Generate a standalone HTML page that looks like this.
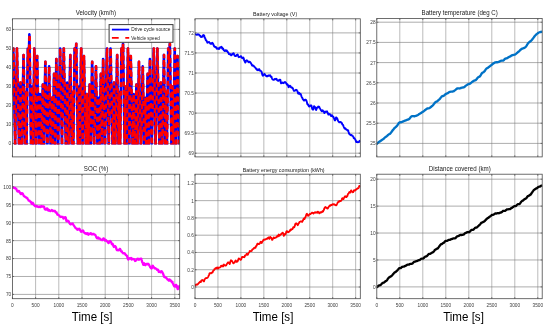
<!DOCTYPE html>
<html><head><meta charset="utf-8"><title>Drive cycle simulation results</title>
<style>html,body{margin:0;padding:0;background:#fff;overflow:hidden}svg{display:block;filter:blur(0.35px)}</style>
</head><body>
<svg width="550" height="329" viewBox="0 0 550 329" font-family="'Liberation Sans', sans-serif">
<rect width="550" height="329" fill="#fff"/>
<g><path d="M35.60,18.80 V156.90 M58.80,18.80 V156.90 M82.00,18.80 V156.90 M105.20,18.80 V156.90 M128.40,18.80 V156.90 M151.60,18.80 V156.90 M174.80,18.80 V156.90 " stroke="#808080" stroke-width="0.55" fill="none"/>
<path d="M12.40,143.40 H179.70 M12.40,124.40 H179.70 M12.40,105.40 H179.70 M12.40,86.40 H179.70 M12.40,67.40 H179.70 M12.40,48.40 H179.70 M12.40,29.40 H179.70 " stroke="#767676" stroke-width="0.6" fill="none"/>
<clipPath id="c_vel"><rect x="12.40" y="18.80" width="167.30" height="125.60"/></clipPath>
<path clip-path="url(#c_vel)" d="M12.4,94.7 L12.4,92.2 L12.5,89.6 L12.5,87.1 L12.6,84.6 L12.6,82.1 L12.7,79.6 L12.7,77.1 L12.8,74.6 L12.8,72.0 L12.9,69.5 L12.9,67.0 L13.0,64.5 L13.0,62.0 L13.0,59.5 L13.1,56.9 L13.1,54.4 L13.2,51.9 L13.2,49.4 L13.3,48.4 L13.3,48.4 L13.4,50.0 L13.4,52.6 L13.5,55.3 L13.5,57.9 L13.6,60.6 L13.6,63.2 L13.7,65.9 L13.7,68.5 L13.7,71.1 L13.8,73.8 L13.8,76.4 L13.9,79.1 L13.9,81.7 L14.0,84.4 L14.0,87.0 L14.1,89.6 L14.1,92.3 L14.2,94.9 L14.2,97.6 L14.3,100.2 L14.3,102.8 L14.3,105.5 L14.4,108.1 L14.4,110.8 L14.5,113.4 L14.5,116.1 L14.6,118.7 L14.6,121.3 L14.7,124.0 L14.7,126.6 L14.8,129.3 L14.8,131.9 L14.9,134.6 L14.9,137.2 L15.0,139.8 L15.0,142.5 L15.0,145.1 L15.1,147.8 L15.1,146.1 L15.2,143.5 L15.2,140.9 L15.3,138.2 L15.3,135.6 L15.4,132.9 L15.4,130.3 L15.5,127.6 L15.5,125.0 L15.6,122.4 L15.6,119.7 L15.6,117.1 L15.7,114.4 L15.7,111.8 L15.8,109.1 L15.8,106.5 L15.9,103.9 L15.9,101.2 L16.0,98.6 L16.0,95.9 L16.1,93.3 L16.1,90.6 L16.2,88.0 L16.2,85.4 L16.3,82.7 L16.3,80.1 L16.3,77.4 L16.4,74.8 L16.4,72.1 L16.5,69.5 L16.5,66.9 L16.6,64.2 L16.6,61.6 L16.7,58.9 L16.7,56.3 L16.8,53.6 L16.8,51.0 L16.9,48.4 L16.9,48.4 L16.9,48.4 L17.0,50.7 L17.0,53.0 L17.1,55.2 L17.1,57.5 L17.2,59.8 L17.2,62.1 L17.3,64.3 L17.3,66.6 L17.4,68.9 L17.4,71.1 L17.5,73.4 L17.5,75.7 L17.6,78.0 L17.6,80.2 L17.6,82.5 L17.7,84.8 L17.7,87.0 L17.8,89.3 L17.8,91.6 L17.9,93.8 L17.9,96.1 L18.0,98.4 L18.0,100.7 L18.1,102.9 L18.1,105.2 L18.2,107.5 L18.2,109.7 L18.2,112.0 L18.3,114.3 L18.3,116.5 L18.4,118.8 L18.4,121.1 L18.5,123.4 L18.5,125.6 L18.6,127.9 L18.6,130.2 L18.7,132.4 L18.7,134.7 L18.8,137.0 L18.8,139.2 L18.8,141.5 L18.9,143.8 L18.9,146.1 L19.0,148.3 L19.0,150.5 L19.1,148.1 L19.1,145.7 L19.2,143.3 L19.2,140.9 L19.3,138.5 L19.3,136.2 L19.4,133.8 L19.4,131.4 L19.5,129.0 L19.5,126.6 L19.5,124.2 L19.6,121.8 L19.6,119.4 L19.7,117.0 L19.7,114.7 L19.8,112.3 L19.8,109.9 L19.9,107.5 L19.9,105.1 L20.0,102.7 L20.0,100.3 L20.1,97.9 L20.1,95.5 L20.1,93.1 L20.2,90.8 L20.2,88.4 L20.3,86.0 L20.3,83.6 L20.4,82.6 L20.4,82.6 L20.5,84.2 L20.5,87.0 L20.6,89.8 L20.6,92.5 L20.7,95.3 L20.7,98.1 L20.8,100.8 L20.8,103.6 L20.8,106.4 L20.9,109.1 L20.9,111.9 L21.0,114.7 L21.0,117.4 L21.1,120.2 L21.1,123.0 L21.2,125.7 L21.2,128.5 L21.3,131.3 L21.3,134.0 L21.4,136.8 L21.4,139.6 L21.4,142.3 L21.5,145.1 L21.5,147.9 L21.6,150.6 L21.6,153.4 L21.7,154.1 L21.7,151.5 L21.8,148.9 L21.8,146.3 L21.9,143.7 L21.9,141.1 L22.0,138.5 L22.0,135.9 L22.1,133.3 L22.1,130.7 L22.1,128.1 L22.2,125.5 L22.2,122.9 L22.3,120.3 L22.3,117.7 L22.4,115.2 L22.4,112.6 L22.5,110.0 L22.5,107.4 L22.6,104.8 L22.6,102.2 L22.7,99.6 L22.7,97.0 L22.7,94.4 L22.8,91.8 L22.8,89.2 L22.9,86.6 L22.9,84.0 L23.0,81.4 L23.0,78.8 L23.1,76.2 L23.1,73.6 L23.2,71.0 L23.2,68.4 L23.3,65.8 L23.3,63.2 L23.4,60.6 L23.4,58.0 L23.4,55.4 L23.5,54.9 L23.5,54.9 L23.6,57.3 L23.6,60.5 L23.7,63.6 L23.7,66.8 L23.8,69.9 L23.8,73.1 L23.9,76.3 L23.9,79.4 L24.0,82.6 L24.0,85.7 L24.0,88.9 L24.1,92.0 L24.1,95.2 L24.2,98.4 L24.2,101.5 L24.3,104.7 L24.3,107.8 L24.4,111.0 L24.4,114.1 L24.5,117.3 L24.5,120.5 L24.6,123.6 L24.6,126.8 L24.6,129.9 L24.7,133.1 L24.7,136.2 L24.8,139.4 L24.8,142.6 L24.9,145.7 L24.9,144.0 L25.0,140.7 L25.0,137.3 L25.1,134.0 L25.1,130.7 L25.2,127.4 L25.2,124.1 L25.3,120.8 L25.3,117.4 L25.3,114.1 L25.4,110.8 L25.4,107.5 L25.5,104.2 L25.5,100.9 L25.6,97.5 L25.6,94.2 L25.7,92.1 L25.7,92.1 L25.8,93.6 L25.8,97.6 L25.9,101.6 L25.9,105.6 L25.9,109.7 L26.0,113.7 L26.0,117.7 L26.1,121.7 L26.1,125.8 L26.2,129.8 L26.2,133.8 L26.3,137.8 L26.3,141.9 L26.4,145.9 L26.4,149.9 L26.5,150.2 L26.5,146.5 L26.6,142.9 L26.6,139.2 L26.6,135.6 L26.7,131.9 L26.7,128.3 L26.8,124.6 L26.8,121.0 L26.9,117.3 L26.9,113.7 L27.0,110.0 L27.0,106.4 L27.1,102.7 L27.1,99.1 L27.2,95.4 L27.2,91.8 L27.2,88.1 L27.3,84.5 L27.3,80.9 L27.4,77.2 L27.4,73.6 L27.5,69.9 L27.5,66.3 L27.6,62.6 L27.6,59.0 L27.7,55.3 L27.7,51.7 L27.8,48.4 L27.8,48.4 L27.9,48.5 L27.9,49.5 L27.9,50.5 L28.0,51.5 L28.0,52.5 L28.1,53.6 L28.1,54.6 L28.2,55.6 L28.2,56.6 L28.3,57.6 L28.3,58.6 L28.4,59.6 L28.4,60.6 L28.5,61.6 L28.5,62.7 L28.5,63.5 L28.6,61.8 L28.6,60.1 L28.7,58.4 L28.7,56.7 L28.8,55.0 L28.8,53.4 L28.9,51.7 L28.9,50.0 L29.0,48.3 L29.0,46.6 L29.1,44.9 L29.1,43.2 L29.2,41.5 L29.2,39.9 L29.2,38.2 L29.3,36.5 L29.3,34.8 L29.4,34.2 L29.4,34.2 L29.5,36.2 L29.5,39.6 L29.6,43.0 L29.6,46.4 L29.7,49.8 L29.7,53.2 L29.8,56.5 L29.8,59.9 L29.8,63.3 L29.9,66.7 L29.9,70.1 L30.0,73.4 L30.0,76.8 L30.1,80.2 L30.1,83.6 L30.2,87.0 L30.2,90.3 L30.3,93.7 L30.3,97.1 L30.4,100.5 L30.4,103.9 L30.4,107.3 L30.5,110.6 L30.5,114.0 L30.6,117.4 L30.6,120.8 L30.7,124.2 L30.7,127.5 L30.8,130.9 L30.8,134.3 L30.9,137.7 L30.9,141.1 L31.0,144.4 L31.0,147.8 L31.1,151.2 L31.1,154.6 L31.1,152.3 L31.2,148.5 L31.2,144.7 L31.3,140.9 L31.3,137.1 L31.4,133.3 L31.4,129.6 L31.5,125.8 L31.5,122.0 L31.6,118.2 L31.6,114.4 L31.7,110.7 L31.7,106.9 L31.7,103.1 L31.8,99.3 L31.8,95.5 L31.9,91.7 L31.9,88.0 L32.0,86.4 L32.0,86.4 L32.1,88.5 L32.1,92.0 L32.2,95.5 L32.2,99.0 L32.3,102.6 L32.3,106.1 L32.4,109.6 L32.4,113.2 L32.4,116.7 L32.5,120.2 L32.5,123.7 L32.6,127.3 L32.6,130.8 L32.7,134.3 L32.7,137.8 L32.8,141.4 L32.8,144.9 L32.9,148.4 L32.9,145.1 L33.0,141.8 L33.0,138.4 L33.0,135.1 L33.1,131.8 L33.1,128.4 L33.2,125.1 L33.2,121.8 L33.3,118.4 L33.3,115.1 L33.4,111.7 L33.4,108.4 L33.5,105.1 L33.5,101.7 L33.6,98.4 L33.6,95.1 L33.7,91.7 L33.7,88.4 L33.7,85.0 L33.8,81.7 L33.8,78.4 L33.9,75.0 L33.9,71.7 L34.0,68.4 L34.0,65.0 L34.1,61.7 L34.1,58.4 L34.2,55.0 L34.2,51.7 L34.3,48.4 L34.3,48.4 L34.3,48.5 L34.4,51.8 L34.4,55.2 L34.5,58.6 L34.5,62.0 L34.6,65.4 L34.6,68.8 L34.7,72.2 L34.7,75.6 L34.8,78.9 L34.8,82.3 L34.9,85.7 L34.9,89.1 L35.0,92.5 L35.0,95.9 L35.0,99.3 L35.1,102.6 L35.1,106.0 L35.2,109.4 L35.2,112.8 L35.3,116.2 L35.3,119.6 L35.4,123.0 L35.4,126.4 L35.5,129.7 L35.5,133.1 L35.6,136.5 L35.6,139.9 L35.6,143.3 L35.7,146.7 L35.7,150.1 L35.8,149.5 L35.8,146.0 L35.9,142.6 L35.9,139.2 L36.0,135.8 L36.0,132.4 L36.1,128.9 L36.1,125.5 L36.2,122.1 L36.2,118.7 L36.2,115.3 L36.3,111.8 L36.3,108.4 L36.4,105.0 L36.4,101.6 L36.5,98.2 L36.5,94.7 L36.6,91.3 L36.6,87.9 L36.7,84.5 L36.7,81.1 L36.8,77.6 L36.8,74.2 L36.9,70.8 L36.9,67.4 L36.9,64.0 L37.0,60.5 L37.0,57.1 L37.1,56.0 L37.1,56.0 L37.2,57.7 L37.2,60.2 L37.3,62.8 L37.3,65.3 L37.4,67.9 L37.4,70.4 L37.5,72.9 L37.5,75.5 L37.5,78.0 L37.6,80.6 L37.6,83.1 L37.7,85.6 L37.7,88.2 L37.8,90.7 L37.8,93.3 L37.9,95.8 L37.9,98.3 L38.0,100.9 L38.0,103.4 L38.1,106.0 L38.1,108.5 L38.2,111.0 L38.2,113.6 L38.2,116.1 L38.3,118.7 L38.3,121.2 L38.4,123.8 L38.4,126.3 L38.5,128.8 L38.5,131.4 L38.6,133.9 L38.6,136.5 L38.7,139.0 L38.7,141.5 L38.8,144.1 L38.8,146.6 L38.8,149.2 L38.9,151.7 L38.9,154.2 L39.0,152.8 L39.0,150.0 L39.1,147.1 L39.1,144.3 L39.2,141.5 L39.2,138.7 L39.3,135.9 L39.3,133.0 L39.4,130.2 L39.4,127.4 L39.5,124.6 L39.5,121.7 L39.5,118.9 L39.6,116.1 L39.6,113.3 L39.7,110.5 L39.7,107.6 L39.8,104.8 L39.8,102.0 L39.9,99.2 L39.9,96.3 L40.0,94.0 L40.0,94.0 L40.1,94.3 L40.1,96.4 L40.1,98.4 L40.2,100.4 L40.2,102.4 L40.3,104.4 L40.3,106.5 L40.4,108.5 L40.4,110.5 L40.5,112.5 L40.5,114.5 L40.6,116.5 L40.6,118.6 L40.7,120.6 L40.7,122.6 L40.8,124.6 L40.8,126.6 L40.8,128.6 L40.9,130.7 L40.9,132.7 L41.0,134.7 L41.0,136.7 L41.1,138.7 L41.1,140.7 L41.2,142.8 L41.2,144.8 L41.3,146.8 L41.3,146.2 L41.4,144.3 L41.4,142.3 L41.4,140.3 L41.5,138.3 L41.5,136.3 L41.6,134.4 L41.6,132.4 L41.7,130.4 L41.7,128.4 L41.8,126.4 L41.8,124.4 L41.9,122.5 L41.9,120.5 L42.0,118.5 L42.0,116.5 L42.0,114.5 L42.1,112.6 L42.1,110.6 L42.2,108.6 L42.2,106.6 L42.3,104.6 L42.3,102.7 L42.4,100.7 L42.4,98.7 L42.5,96.7 L42.5,94.7 L42.6,92.8 L42.6,90.8 L42.7,88.8 L42.7,86.8 L42.7,84.8 L42.8,84.5 L42.8,84.5 L42.9,87.1 L42.9,90.2 L43.0,93.2 L43.0,96.3 L43.1,99.4 L43.1,102.5 L43.2,105.6 L43.2,108.7 L43.3,111.8 L43.3,114.9 L43.3,118.0 L43.4,121.1 L43.4,124.2 L43.5,127.3 L43.5,130.4 L43.6,133.5 L43.6,136.6 L43.7,139.6 L43.7,142.7 L43.8,145.8 L43.8,148.9 L43.9,150.5 L43.9,147.5 L44.0,144.6 L44.0,141.6 L44.0,138.6 L44.1,135.7 L44.1,132.7 L44.2,129.8 L44.2,126.8 L44.3,123.9 L44.3,120.9 L44.4,118.0 L44.4,115.0 L44.5,112.1 L44.5,109.1 L44.6,106.2 L44.6,103.2 L44.6,100.3 L44.7,97.3 L44.7,94.3 L44.8,91.4 L44.8,88.4 L44.9,85.5 L44.9,82.5 L45.0,79.6 L45.0,76.6 L45.1,73.7 L45.1,70.7 L45.2,67.8 L45.2,64.8 L45.3,61.9 L45.3,61.7 L45.3,61.7 L45.4,63.8 L45.4,66.0 L45.5,68.3 L45.5,70.5 L45.6,72.7 L45.6,75.0 L45.7,77.2 L45.7,79.4 L45.8,81.6 L45.8,83.9 L45.9,86.1 L45.9,88.3 L45.9,90.6 L46.0,92.8 L46.0,95.0 L46.1,97.3 L46.1,99.5 L46.2,101.7 L46.2,103.9 L46.3,106.2 L46.3,108.4 L46.4,110.6 L46.4,112.9 L46.5,115.1 L46.5,117.3 L46.6,119.5 L46.6,121.8 L46.6,124.0 L46.7,126.2 L46.7,128.5 L46.8,130.7 L46.8,132.9 L46.9,135.2 L46.9,137.4 L47.0,139.6 L47.0,141.8 L47.1,144.1 L47.1,146.3 L47.2,148.5 L47.2,150.8 L47.2,153.0 L47.3,151.5 L47.3,149.3 L47.4,147.0 L47.4,144.8 L47.5,142.5 L47.5,140.3 L47.6,138.0 L47.6,135.8 L47.7,133.6 L47.7,131.3 L47.8,129.1 L47.8,126.8 L47.8,124.6 L47.9,122.3 L47.9,120.1 L48.0,117.8 L48.0,115.6 L48.1,113.3 L48.1,111.1 L48.2,108.8 L48.2,106.6 L48.3,104.3 L48.3,102.1 L48.4,99.8 L48.4,97.6 L48.5,95.4 L48.5,93.1 L48.5,90.9 L48.6,88.6 L48.6,86.4 L48.7,84.1 L48.7,81.9 L48.8,79.6 L48.8,77.4 L48.9,75.1 L48.9,72.9 L49.0,70.6 L49.0,68.4 L49.1,66.3 L49.1,66.3 L49.1,66.4 L49.2,69.0 L49.2,71.7 L49.3,74.3 L49.3,76.9 L49.4,79.5 L49.4,82.2 L49.5,84.8 L49.5,87.4 L49.6,90.0 L49.6,92.7 L49.7,95.3 L49.7,97.9 L49.8,100.6 L49.8,103.2 L49.8,105.8 L49.9,108.4 L49.9,111.1 L50.0,113.7 L50.0,116.3 L50.1,118.9 L50.1,121.6 L50.2,124.2 L50.2,126.8 L50.3,129.5 L50.3,132.1 L50.4,134.7 L50.4,137.3 L50.4,140.0 L50.5,142.6 L50.5,145.2 L50.6,147.8 L50.6,150.5 L50.7,152.1 L50.7,149.2 L50.8,146.3 L50.8,143.4 L50.9,140.5 L50.9,137.6 L51.0,134.8 L51.0,131.9 L51.1,129.0 L51.1,126.1 L51.1,123.2 L51.2,120.4 L51.2,117.5 L51.3,114.6 L51.3,111.7 L51.4,108.8 L51.4,105.9 L51.5,103.1 L51.5,100.2 L51.6,97.8 L51.6,97.8 L51.7,98.3 L51.7,101.0 L51.7,103.7 L51.8,106.4 L51.8,109.1 L51.9,111.9 L51.9,114.6 L52.0,117.3 L52.0,120.0 L52.1,122.7 L52.1,125.5 L52.2,128.2 L52.2,130.9 L52.3,133.6 L52.3,136.3 L52.4,139.1 L52.4,141.8 L52.4,144.5 L52.5,147.2 L52.5,149.9 L52.6,148.9 L52.6,146.3 L52.7,143.8 L52.7,141.2 L52.8,138.7 L52.8,136.1 L52.9,133.6 L52.9,131.0 L53.0,128.5 L53.0,126.0 L53.0,123.4 L53.1,120.9 L53.1,118.3 L53.2,115.8 L53.2,113.2 L53.3,110.7 L53.3,108.1 L53.4,105.6 L53.4,103.1 L53.5,100.5 L53.5,98.0 L53.6,95.4 L53.6,92.9 L53.6,90.3 L53.7,87.8 L53.7,85.3 L53.8,82.7 L53.8,80.2 L53.9,77.6 L53.9,75.1 L54.0,73.7 L54.0,73.7 L54.1,75.2 L54.1,78.7 L54.2,82.2 L54.2,85.7 L54.3,89.2 L54.3,92.6 L54.3,96.1 L54.4,99.6 L54.4,103.1 L54.5,106.6 L54.5,110.1 L54.6,113.5 L54.6,117.0 L54.7,120.5 L54.7,124.0 L54.8,127.5 L54.8,130.9 L54.9,134.4 L54.9,137.9 L54.9,141.4 L55.0,144.9 L55.0,148.0 L55.1,144.6 L55.1,141.2 L55.2,137.8 L55.2,134.4 L55.3,131.0 L55.3,127.6 L55.4,124.1 L55.4,120.7 L55.5,117.3 L55.5,113.9 L55.6,110.5 L55.6,107.1 L55.6,103.7 L55.7,100.2 L55.7,96.8 L55.8,93.4 L55.8,90.0 L55.9,86.6 L55.9,83.2 L56.0,79.8 L56.0,76.3 L56.1,72.9 L56.1,69.5 L56.2,66.1 L56.2,62.7 L56.2,59.3 L56.3,58.9 L56.3,58.9 L56.4,61.0 L56.4,63.5 L56.5,65.9 L56.5,68.4 L56.6,70.8 L56.6,73.3 L56.7,75.7 L56.7,78.2 L56.8,80.6 L56.8,83.1 L56.9,85.5 L56.9,88.0 L56.9,90.4 L57.0,92.9 L57.0,95.3 L57.1,97.8 L57.1,100.2 L57.2,102.7 L57.2,105.1 L57.3,107.6 L57.3,110.0 L57.4,112.5 L57.4,114.9 L57.5,117.4 L57.5,119.8 L57.5,122.3 L57.6,124.7 L57.6,127.2 L57.7,129.6 L57.7,132.1 L57.8,134.5 L57.8,137.0 L57.9,139.4 L57.9,141.9 L58.0,144.3 L58.0,146.8 L58.1,149.2 L58.1,150.2 L58.2,147.7 L58.2,145.3 L58.2,142.9 L58.3,140.5 L58.3,138.0 L58.4,135.6 L58.4,133.2 L58.5,130.8 L58.5,128.4 L58.6,125.9 L58.6,123.5 L58.7,121.1 L58.7,118.7 L58.8,116.2 L58.8,113.8 L58.8,111.4 L58.9,109.0 L58.9,106.6 L59.0,104.1 L59.0,101.7 L59.1,99.3 L59.1,96.9 L59.2,94.5 L59.2,92.0 L59.3,89.6 L59.3,87.2 L59.4,84.8 L59.4,82.3 L59.4,79.9 L59.5,77.5 L59.5,75.1 L59.6,72.7 L59.6,70.2 L59.7,67.8 L59.7,65.4 L59.8,63.0 L59.8,60.6 L59.9,58.1 L59.9,55.7 L60.0,53.3 L60.0,50.9 L60.1,48.4 L60.1,48.4 L60.1,48.4 L60.2,51.0 L60.2,53.7 L60.3,56.4 L60.3,59.1 L60.4,61.8 L60.4,64.4 L60.5,67.1 L60.5,69.8 L60.6,72.5 L60.6,75.2 L60.7,77.9 L60.7,80.5 L60.7,83.2 L60.8,85.9 L60.8,88.6 L60.9,91.3 L60.9,94.0 L61.0,96.6 L61.0,99.3 L61.1,102.0 L61.1,104.7 L61.2,107.4 L61.2,110.1 L61.3,112.7 L61.3,115.4 L61.4,118.1 L61.4,120.8 L61.4,123.5 L61.5,126.2 L61.5,128.8 L61.6,131.5 L61.6,134.2 L61.7,136.9 L61.7,139.6 L61.8,142.2 L61.8,144.9 L61.9,147.6 L61.9,149.3 L62.0,146.6 L62.0,143.9 L62.0,141.2 L62.1,138.5 L62.1,135.9 L62.2,133.2 L62.2,130.5 L62.3,127.8 L62.3,125.1 L62.4,122.5 L62.4,119.8 L62.5,117.1 L62.5,114.4 L62.6,111.7 L62.6,109.0 L62.7,106.4 L62.7,103.7 L62.7,101.0 L62.8,98.3 L62.8,95.6 L62.9,92.9 L62.9,90.3 L63.0,87.6 L63.0,84.9 L63.1,82.2 L63.1,79.5 L63.2,76.8 L63.2,74.2 L63.3,71.5 L63.3,68.8 L63.3,66.1 L63.4,63.4 L63.4,60.7 L63.5,58.1 L63.5,55.4 L63.6,52.7 L63.6,50.0 L63.7,48.4 L63.7,48.4 L63.8,49.3 L63.8,51.6 L63.9,53.9 L63.9,56.1 L64.0,58.4 L64.0,60.7 L64.0,63.0 L64.1,65.2 L64.1,67.5 L64.2,69.8 L64.2,72.1 L64.3,74.3 L64.3,76.6 L64.4,78.9 L64.4,81.2 L64.5,83.4 L64.5,85.7 L64.6,88.0 L64.6,90.3 L64.6,92.5 L64.7,94.8 L64.7,97.1 L64.8,99.4 L64.8,101.6 L64.9,103.9 L64.9,106.2 L65.0,108.5 L65.0,110.7 L65.1,113.0 L65.1,115.3 L65.2,117.6 L65.2,119.8 L65.2,122.1 L65.3,124.4 L65.3,126.7 L65.4,128.9 L65.4,131.2 L65.5,133.5 L65.5,135.8 L65.6,138.0 L65.6,140.3 L65.7,142.6 L65.7,144.9 L65.8,147.1 L65.8,149.4 L65.9,149.8 L65.9,147.4 L65.9,145.0 L66.0,142.6 L66.0,140.2 L66.1,137.8 L66.1,135.4 L66.2,133.0 L66.2,130.6 L66.3,128.2 L66.3,125.8 L66.4,123.4 L66.4,121.0 L66.5,118.6 L66.5,116.3 L66.5,113.9 L66.6,111.5 L66.6,109.1 L66.7,106.7 L66.7,104.3 L66.8,101.9 L66.8,99.5 L66.9,97.1 L66.9,94.7 L67.0,92.3 L67.0,89.9 L67.1,87.5 L67.1,85.1 L67.2,82.7 L67.2,82.6 L67.2,82.6 L67.3,85.1 L67.3,87.6 L67.4,90.2 L67.4,92.8 L67.5,95.3 L67.5,97.9 L67.6,100.4 L67.6,103.0 L67.7,105.6 L67.7,108.1 L67.8,110.7 L67.8,113.3 L67.8,115.8 L67.9,118.4 L67.9,120.9 L68.0,123.5 L68.0,126.1 L68.1,128.6 L68.1,131.2 L68.2,133.8 L68.2,136.3 L68.3,138.9 L68.3,141.4 L68.4,144.0 L68.4,146.6 L68.5,149.1 L68.5,147.8 L68.5,145.4 L68.6,142.9 L68.6,140.5 L68.7,138.0 L68.7,135.6 L68.8,133.1 L68.8,130.6 L68.9,128.2 L68.9,125.7 L69.0,123.3 L69.0,120.8 L69.1,118.4 L69.1,115.9 L69.1,113.4 L69.2,111.0 L69.2,108.5 L69.3,106.1 L69.3,103.6 L69.4,101.2 L69.4,98.7 L69.5,96.2 L69.5,93.8 L69.6,91.3 L69.6,88.9 L69.7,86.4 L69.7,84.0 L69.8,81.5 L69.8,79.0 L69.8,76.6 L69.9,74.1 L69.9,71.7 L70.0,69.2 L70.0,66.8 L70.1,64.3 L70.1,61.8 L70.2,59.4 L70.2,56.9 L70.3,54.9 L70.3,54.9 L70.4,55.4 L70.4,58.8 L70.4,62.2 L70.5,65.7 L70.5,69.1 L70.6,72.5 L70.6,75.9 L70.7,79.4 L70.7,82.8 L70.8,86.2 L70.8,89.6 L70.9,93.0 L70.9,96.5 L71.0,99.9 L71.0,103.3 L71.0,106.7 L71.1,110.2 L71.1,113.6 L71.2,117.0 L71.2,120.4 L71.3,123.9 L71.3,127.3 L71.4,130.7 L71.4,134.1 L71.5,137.6 L71.5,141.0 L71.6,144.4 L71.6,147.8 L71.7,151.2 L71.7,153.7 L71.7,149.9 L71.8,146.1 L71.8,142.3 L71.9,138.5 L71.9,134.8 L72.0,131.0 L72.0,127.2 L72.1,123.4 L72.1,119.6 L72.2,115.8 L72.2,112.0 L72.3,108.2 L72.3,104.4 L72.3,100.7 L72.4,96.9 L72.4,93.1 L72.5,92.1 L72.5,92.1 L72.6,95.2 L72.6,99.3 L72.7,103.4 L72.7,107.6 L72.8,111.7 L72.8,115.8 L72.9,120.0 L72.9,124.1 L73.0,128.2 L73.0,132.4 L73.0,136.5 L73.1,140.6 L73.1,144.8 L73.2,148.9 L73.2,153.0 L73.3,150.3 L73.3,146.6 L73.4,142.9 L73.4,139.2 L73.5,135.5 L73.5,131.8 L73.6,128.1 L73.6,124.4 L73.6,120.7 L73.7,117.0 L73.7,113.3 L73.8,109.6 L73.8,105.9 L73.9,102.2 L73.9,98.5 L74.0,94.8 L74.0,91.1 L74.1,87.4 L74.1,83.7 L74.2,79.9 L74.2,76.2 L74.3,72.5 L74.3,68.8 L74.3,65.1 L74.4,61.4 L74.4,57.7 L74.5,54.0 L74.5,50.3 L74.6,48.4 L74.6,48.4 L74.7,48.9 L74.7,49.8 L74.8,50.8 L74.8,51.7 L74.9,52.7 L74.9,53.7 L74.9,54.6 L75.0,55.6 L75.0,56.5 L75.1,57.5 L75.1,58.5 L75.2,59.4 L75.2,60.4 L75.3,61.4 L75.3,62.3 L75.4,63.3 L75.4,62.8 L75.5,61.6 L75.5,60.4 L75.6,59.2 L75.6,58.0 L75.6,56.8 L75.7,55.6 L75.7,54.4 L75.8,53.2 L75.8,52.0 L75.9,50.8 L75.9,49.6 L76.0,48.4 L76.0,47.2 L76.1,46.0 L76.1,44.8 L76.2,43.7 L76.2,43.7 L76.2,43.7 L76.3,46.7 L76.3,49.7 L76.4,52.8 L76.4,55.8 L76.5,58.9 L76.5,61.9 L76.6,65.0 L76.6,68.0 L76.7,71.1 L76.7,74.1 L76.8,77.2 L76.8,80.2 L76.8,83.3 L76.9,86.3 L76.9,89.3 L77.0,92.4 L77.0,95.4 L77.1,98.5 L77.1,101.5 L77.2,104.6 L77.2,107.6 L77.3,110.7 L77.3,113.7 L77.4,116.8 L77.4,119.8 L77.5,122.9 L77.5,125.9 L77.5,128.9 L77.6,132.0 L77.6,135.0 L77.7,138.1 L77.7,141.1 L77.8,144.2 L77.8,147.2 L77.9,148.1 L77.9,144.9 L78.0,141.6 L78.0,138.4 L78.1,135.2 L78.1,131.9 L78.1,128.7 L78.2,125.4 L78.2,122.2 L78.3,118.9 L78.3,115.7 L78.4,112.5 L78.4,109.2 L78.5,106.0 L78.5,102.7 L78.6,99.5 L78.6,96.2 L78.7,93.0 L78.7,89.8 L78.8,86.5 L78.8,86.4 L78.8,86.4 L78.9,90.0 L78.9,93.7 L79.0,97.4 L79.0,101.1 L79.1,104.8 L79.1,108.5 L79.2,112.3 L79.2,116.0 L79.3,119.7 L79.3,123.4 L79.4,127.1 L79.4,130.8 L79.4,134.5 L79.5,138.2 L79.5,142.0 L79.6,145.7 L79.6,149.4 L79.7,150.4 L79.7,146.9 L79.8,143.5 L79.8,140.1 L79.9,136.6 L79.9,133.2 L80.0,129.7 L80.0,126.3 L80.1,122.8 L80.1,119.4 L80.1,115.9 L80.2,112.5 L80.2,109.0 L80.3,105.6 L80.3,102.2 L80.4,98.7 L80.4,95.3 L80.5,91.8 L80.5,88.4 L80.6,84.9 L80.6,81.5 L80.7,78.0 L80.7,74.6 L80.7,71.2 L80.8,67.7 L80.8,64.3 L80.9,60.8 L80.9,57.4 L81.0,53.9 L81.0,50.5 L81.1,48.4 L81.1,48.4 L81.2,49.7 L81.2,53.0 L81.3,56.3 L81.3,59.6 L81.4,62.9 L81.4,66.2 L81.4,69.5 L81.5,72.8 L81.5,76.1 L81.6,79.4 L81.6,82.7 L81.7,86.0 L81.7,89.3 L81.8,92.6 L81.8,95.9 L81.9,99.2 L81.9,102.5 L82.0,105.8 L82.0,109.1 L82.0,112.4 L82.1,115.7 L82.1,119.0 L82.2,122.3 L82.2,125.7 L82.3,129.0 L82.3,132.3 L82.4,135.6 L82.4,138.9 L82.5,142.2 L82.5,145.5 L82.6,148.8 L82.6,145.7 L82.6,142.3 L82.7,139.0 L82.7,135.7 L82.8,132.3 L82.8,129.0 L82.9,125.7 L82.9,122.4 L83.0,119.0 L83.0,115.7 L83.1,112.4 L83.1,109.1 L83.2,105.7 L83.2,102.4 L83.3,99.1 L83.3,95.8 L83.3,92.4 L83.4,89.1 L83.4,85.8 L83.5,82.4 L83.5,79.1 L83.6,75.8 L83.6,72.5 L83.7,69.1 L83.7,65.8 L83.8,62.5 L83.8,59.2 L83.9,56.0 L83.9,56.0 L83.9,56.1 L84.0,58.6 L84.0,61.0 L84.1,63.4 L84.1,65.8 L84.2,68.3 L84.2,70.7 L84.3,73.1 L84.3,75.6 L84.4,78.0 L84.4,80.4 L84.5,82.8 L84.5,85.3 L84.6,87.7 L84.6,90.1 L84.6,92.6 L84.7,95.0 L84.7,97.4 L84.8,99.8 L84.8,102.3 L84.9,104.7 L84.9,107.1 L85.0,109.6 L85.0,112.0 L85.1,114.4 L85.1,116.8 L85.2,119.3 L85.2,121.7 L85.2,124.1 L85.3,126.6 L85.3,129.0 L85.4,131.4 L85.4,133.8 L85.5,136.3 L85.5,138.7 L85.6,141.1 L85.6,143.6 L85.7,146.0 L85.7,148.4 L85.8,150.2 L85.8,147.6 L85.9,145.0 L85.9,142.4 L85.9,139.7 L86.0,137.1 L86.0,134.5 L86.1,131.9 L86.1,129.3 L86.2,126.6 L86.2,124.0 L86.3,121.4 L86.3,118.8 L86.4,116.2 L86.4,113.5 L86.5,110.9 L86.5,108.3 L86.5,105.7 L86.6,103.0 L86.6,100.4 L86.7,97.8 L86.7,95.2 L86.8,94.0 L86.8,94.0 L86.9,95.2 L86.9,97.3 L87.0,99.3 L87.0,101.4 L87.1,103.5 L87.1,105.6 L87.2,107.7 L87.2,109.8 L87.2,111.9 L87.3,114.0 L87.3,116.1 L87.4,118.2 L87.4,120.3 L87.5,122.4 L87.5,124.5 L87.6,126.6 L87.6,128.7 L87.7,130.8 L87.7,132.9 L87.8,135.0 L87.8,137.1 L87.8,139.2 L87.9,141.3 L87.9,143.4 L88.0,145.5 L88.0,147.6 L88.1,149.6 L88.1,147.5 L88.2,145.5 L88.2,143.4 L88.3,141.4 L88.3,139.3 L88.4,137.3 L88.4,135.2 L88.4,133.2 L88.5,131.1 L88.5,129.1 L88.6,127.0 L88.6,125.0 L88.7,123.0 L88.7,120.9 L88.8,118.9 L88.8,116.8 L88.9,114.8 L88.9,112.7 L89.0,110.7 L89.0,108.6 L89.1,106.6 L89.1,104.5 L89.1,102.5 L89.2,100.4 L89.2,98.4 L89.3,96.4 L89.3,94.3 L89.4,92.3 L89.4,90.2 L89.5,88.2 L89.5,86.1 L89.6,84.5 L89.6,84.5 L89.7,85.2 L89.7,88.3 L89.7,91.5 L89.8,94.6 L89.8,97.8 L89.9,100.9 L89.9,104.1 L90.0,107.2 L90.0,110.4 L90.1,113.5 L90.1,116.7 L90.2,119.8 L90.2,123.0 L90.3,126.1 L90.3,129.3 L90.4,132.4 L90.4,135.6 L90.4,138.7 L90.5,141.9 L90.5,145.0 L90.6,148.2 L90.6,151.3 L90.7,150.6 L90.7,147.6 L90.8,144.6 L90.8,141.6 L90.9,138.6 L90.9,135.6 L91.0,132.6 L91.0,129.6 L91.0,126.6 L91.1,123.6 L91.1,120.6 L91.2,117.6 L91.2,114.6 L91.3,111.6 L91.3,108.7 L91.4,105.7 L91.4,102.7 L91.5,99.7 L91.5,96.7 L91.6,93.7 L91.6,90.7 L91.7,87.7 L91.7,84.7 L91.7,81.7 L91.8,78.7 L91.8,75.7 L91.9,72.7 L91.9,69.7 L92.0,66.7 L92.0,63.7 L92.1,61.7 L92.1,61.7 L92.2,62.4 L92.2,64.5 L92.3,66.7 L92.3,68.8 L92.3,71.0 L92.4,73.1 L92.4,75.3 L92.5,77.4 L92.5,79.5 L92.6,81.7 L92.6,83.8 L92.7,86.0 L92.7,88.1 L92.8,90.2 L92.8,92.4 L92.9,94.5 L92.9,96.7 L93.0,98.8 L93.0,100.9 L93.0,103.1 L93.1,105.2 L93.1,107.4 L93.2,109.5 L93.2,111.7 L93.3,113.8 L93.3,115.9 L93.4,118.1 L93.4,120.2 L93.5,122.4 L93.5,124.5 L93.6,126.6 L93.6,128.8 L93.6,130.9 L93.7,133.1 L93.7,135.2 L93.8,137.4 L93.8,139.5 L93.9,141.6 L93.9,143.8 L94.0,145.9 L94.0,148.1 L94.1,149.3 L94.1,147.2 L94.2,145.0 L94.2,142.9 L94.2,140.7 L94.3,138.6 L94.3,136.4 L94.4,134.3 L94.4,132.1 L94.5,129.9 L94.5,127.8 L94.6,125.6 L94.6,123.5 L94.7,121.3 L94.7,119.2 L94.8,117.0 L94.8,114.9 L94.9,112.7 L94.9,110.6 L94.9,108.4 L95.0,106.3 L95.0,104.1 L95.1,101.9 L95.1,99.8 L95.2,97.6 L95.2,95.5 L95.3,93.3 L95.3,91.2 L95.4,89.0 L95.4,86.9 L95.5,84.7 L95.5,82.6 L95.5,80.4 L95.6,78.3 L95.6,76.1 L95.7,73.9 L95.7,71.8 L95.8,69.6 L95.8,67.5 L95.9,66.3 L95.9,66.3 L96.0,67.4 L96.0,69.9 L96.1,72.5 L96.1,75.1 L96.2,77.6 L96.2,80.2 L96.2,82.8 L96.3,85.3 L96.3,87.9 L96.4,90.5 L96.4,93.0 L96.5,95.6 L96.5,98.2 L96.6,100.7 L96.6,103.3 L96.7,105.9 L96.7,108.4 L96.8,111.0 L96.8,113.6 L96.8,116.1 L96.9,118.7 L96.9,121.3 L97.0,123.8 L97.0,126.4 L97.1,129.0 L97.1,131.5 L97.2,134.1 L97.2,136.7 L97.3,139.2 L97.3,141.8 L97.4,144.4 L97.4,146.9 L97.5,149.5 L97.5,149.0 L97.5,146.3 L97.6,143.5 L97.6,140.7 L97.7,137.9 L97.7,135.1 L97.8,132.4 L97.8,129.6 L97.9,126.8 L97.9,124.0 L98.0,121.3 L98.0,118.5 L98.1,115.7 L98.1,112.9 L98.1,110.2 L98.2,107.4 L98.2,104.6 L98.3,101.8 L98.3,99.0 L98.4,97.8 L98.4,97.8 L98.5,99.4 L98.5,102.2 L98.6,105.1 L98.6,107.9 L98.7,110.7 L98.7,113.6 L98.8,116.4 L98.8,119.3 L98.8,122.1 L98.9,124.9 L98.9,127.8 L99.0,130.6 L99.0,133.5 L99.1,136.3 L99.1,139.2 L99.2,142.0 L99.2,144.8 L99.3,147.7 L99.3,150.5 L99.4,152.8 L99.4,150.2 L99.4,147.6 L99.5,144.9 L99.5,142.3 L99.6,139.7 L99.6,137.1 L99.7,134.5 L99.7,131.8 L99.8,129.2 L99.8,126.6 L99.9,124.0 L99.9,121.3 L100.0,118.7 L100.0,116.1 L100.0,113.5 L100.1,110.8 L100.1,108.2 L100.2,105.6 L100.2,103.0 L100.3,100.4 L100.3,97.7 L100.4,95.1 L100.4,92.5 L100.5,89.9 L100.5,87.2 L100.6,84.6 L100.6,82.0 L100.7,79.4 L100.7,76.7 L100.7,74.1 L100.8,73.7 L100.8,73.7 L100.9,76.6 L100.9,80.2 L101.0,83.8 L101.0,87.4 L101.1,90.9 L101.1,94.5 L101.2,98.1 L101.2,101.6 L101.3,105.2 L101.3,108.8 L101.3,112.4 L101.4,115.9 L101.4,119.5 L101.5,123.1 L101.5,126.7 L101.6,130.2 L101.6,133.8 L101.7,137.4 L101.7,141.0 L101.8,144.5 L101.8,148.1 L101.9,148.7 L101.9,145.2 L102.0,141.7 L102.0,138.2 L102.0,134.7 L102.1,131.2 L102.1,127.8 L102.2,124.3 L102.2,120.8 L102.3,117.3 L102.3,113.8 L102.4,110.3 L102.4,106.8 L102.5,103.3 L102.5,99.8 L102.6,96.3 L102.6,92.8 L102.6,89.4 L102.7,85.9 L102.7,82.4 L102.8,78.9 L102.8,75.4 L102.9,71.9 L102.9,68.4 L103.0,64.9 L103.0,61.4 L103.1,58.9 L103.1,58.9 L103.2,59.5 L103.2,62.1 L103.3,64.6 L103.3,67.2 L103.3,69.7 L103.4,72.3 L103.4,74.8 L103.5,77.4 L103.5,80.0 L103.6,82.5 L103.6,85.1 L103.7,87.6 L103.7,90.2 L103.8,92.7 L103.8,95.3 L103.9,97.8 L103.9,100.4 L103.9,103.0 L104.0,105.5 L104.0,108.1 L104.1,110.6 L104.1,113.2 L104.2,115.7 L104.2,118.3 L104.3,120.9 L104.3,123.4 L104.4,126.0 L104.4,128.5 L104.5,131.1 L104.5,133.6 L104.6,136.2 L104.6,138.7 L104.6,141.3 L104.7,143.9 L104.7,146.4 L104.8,149.0 L104.8,151.5 L104.9,154.1 L104.9,153.1 L105.0,150.6 L105.0,148.1 L105.1,145.6 L105.1,143.1 L105.2,140.5 L105.2,138.0 L105.2,135.5 L105.3,133.0 L105.3,130.5 L105.4,128.0 L105.4,125.5 L105.5,122.9 L105.5,120.4 L105.6,117.9 L105.6,115.4 L105.7,112.9 L105.7,110.4 L105.8,107.8 L105.8,105.3 L105.8,102.8 L105.9,100.3 L105.9,97.8 L106.0,95.3 L106.0,92.8 L106.1,90.2 L106.1,87.7 L106.2,85.2 L106.2,82.7 L106.3,80.2 L106.3,77.7 L106.4,75.2 L106.4,72.6 L106.5,70.1 L106.5,67.6 L106.5,65.1 L106.6,62.6 L106.6,60.1 L106.7,57.5 L106.7,55.0 L106.8,52.5 L106.8,50.0 L106.9,48.4 L106.9,48.4 L107.0,49.4 L107.0,52.0 L107.1,54.6 L107.1,57.3 L107.1,59.9 L107.2,62.5 L107.2,65.2 L107.3,67.8 L107.3,70.4 L107.4,73.1 L107.4,75.7 L107.5,78.3 L107.5,81.0 L107.6,83.6 L107.6,86.2 L107.7,88.9 L107.7,91.5 L107.8,94.1 L107.8,96.8 L107.8,99.4 L107.9,102.0 L107.9,104.7 L108.0,107.3 L108.0,109.9 L108.1,112.6 L108.1,115.2 L108.2,117.8 L108.2,120.5 L108.3,123.1 L108.3,125.8 L108.4,128.4 L108.4,131.0 L108.4,133.7 L108.5,136.3 L108.5,138.9 L108.6,141.6 L108.6,144.2 L108.7,146.8 L108.7,146.5 L108.8,143.8 L108.8,141.2 L108.9,138.6 L108.9,135.9 L109.0,133.3 L109.0,130.7 L109.1,128.0 L109.1,125.4 L109.1,122.8 L109.2,120.1 L109.2,117.5 L109.3,114.9 L109.3,112.2 L109.4,109.6 L109.4,106.9 L109.5,104.3 L109.5,101.7 L109.6,99.0 L109.6,96.4 L109.7,93.8 L109.7,91.1 L109.7,88.5 L109.8,85.9 L109.8,83.2 L109.9,80.6 L109.9,78.0 L110.0,75.3 L110.0,72.7 L110.1,70.1 L110.1,67.4 L110.2,64.8 L110.2,62.2 L110.3,59.5 L110.3,56.9 L110.4,54.3 L110.4,51.6 L110.4,49.0 L110.5,48.4 L110.5,48.4 L110.6,50.2 L110.6,52.5 L110.7,54.9 L110.7,57.2 L110.8,59.5 L110.8,61.9 L110.9,64.2 L110.9,66.5 L111.0,68.9 L111.0,71.2 L111.0,73.5 L111.1,75.9 L111.1,78.2 L111.2,80.5 L111.2,82.8 L111.3,85.2 L111.3,87.5 L111.4,89.8 L111.4,92.2 L111.5,94.5 L111.5,96.8 L111.6,99.2 L111.6,101.5 L111.6,103.8 L111.7,106.2 L111.7,108.5 L111.8,110.8 L111.8,113.2 L111.9,115.5 L111.9,117.8 L112.0,120.1 L112.0,122.5 L112.1,124.8 L112.1,127.1 L112.2,129.5 L112.2,131.8 L112.3,134.1 L112.3,136.5 L112.3,138.8 L112.4,141.1 L112.4,143.5 L112.5,145.8 L112.5,148.1 L112.6,150.4 L112.6,152.8 L112.7,151.3 L112.7,148.9 L112.8,146.4 L112.8,143.9 L112.9,141.4 L112.9,138.9 L112.9,136.4 L113.0,133.9 L113.0,131.5 L113.1,129.0 L113.1,126.5 L113.2,124.0 L113.2,121.5 L113.3,119.0 L113.3,116.5 L113.4,114.1 L113.4,111.6 L113.5,109.1 L113.5,106.6 L113.6,104.1 L113.6,101.6 L113.6,99.1 L113.7,96.7 L113.7,94.2 L113.8,91.7 L113.8,89.2 L113.9,86.7 L113.9,84.2 L114.0,82.6 L114.0,82.6 L114.1,83.5 L114.1,86.1 L114.2,88.7 L114.2,91.2 L114.2,93.8 L114.3,96.4 L114.3,99.0 L114.4,101.6 L114.4,104.2 L114.5,106.7 L114.5,109.3 L114.6,111.9 L114.6,114.5 L114.7,117.1 L114.7,119.6 L114.8,122.2 L114.8,124.8 L114.9,127.4 L114.9,130.0 L114.9,132.6 L115.0,135.1 L115.0,137.7 L115.1,140.3 L115.1,142.9 L115.2,145.5 L115.2,148.1 L115.3,149.9 L115.3,147.4 L115.4,145.0 L115.4,142.5 L115.5,140.0 L115.5,137.6 L115.5,135.1 L115.6,132.6 L115.6,130.1 L115.7,127.7 L115.7,125.2 L115.8,122.7 L115.8,120.3 L115.9,117.8 L115.9,115.3 L116.0,112.8 L116.0,110.4 L116.1,107.9 L116.1,105.4 L116.2,103.0 L116.2,100.5 L116.2,98.0 L116.3,95.5 L116.3,93.1 L116.4,90.6 L116.4,88.1 L116.5,85.7 L116.5,83.2 L116.6,80.7 L116.6,78.2 L116.7,75.8 L116.7,73.3 L116.8,70.8 L116.8,68.4 L116.8,65.9 L116.9,63.4 L116.9,61.0 L117.0,58.5 L117.0,56.0 L117.1,54.9 L117.1,54.9 L117.2,56.6 L117.2,59.9 L117.3,63.2 L117.3,66.5 L117.4,69.8 L117.4,73.1 L117.4,76.4 L117.5,79.6 L117.5,82.9 L117.6,86.2 L117.6,89.5 L117.7,92.8 L117.7,96.1 L117.8,99.4 L117.8,102.7 L117.9,105.9 L117.9,109.2 L118.0,112.5 L118.0,115.8 L118.1,119.1 L118.1,122.4 L118.1,125.7 L118.2,129.0 L118.2,132.3 L118.3,135.5 L118.3,138.8 L118.4,142.1 L118.4,145.4 L118.5,148.7 L118.5,148.5 L118.6,144.9 L118.6,141.4 L118.7,137.8 L118.7,134.3 L118.7,130.7 L118.8,127.2 L118.8,123.6 L118.9,120.1 L118.9,116.5 L119.0,113.0 L119.0,109.4 L119.1,105.9 L119.1,102.3 L119.2,98.8 L119.2,95.2 L119.3,92.1 L119.3,92.1 L119.4,92.6 L119.4,96.6 L119.4,100.7 L119.5,104.7 L119.5,108.8 L119.6,112.8 L119.6,116.9 L119.7,120.9 L119.7,125.0 L119.8,129.0 L119.8,133.1 L119.9,137.1 L119.9,141.2 L120.0,145.2 L120.0,149.2 L120.0,151.4 L120.1,147.7 L120.1,144.0 L120.2,140.4 L120.2,136.7 L120.3,133.1 L120.3,129.4 L120.4,125.7 L120.4,122.1 L120.5,118.4 L120.5,114.8 L120.6,111.1 L120.6,107.4 L120.7,103.8 L120.7,100.1 L120.7,96.5 L120.8,92.8 L120.8,89.2 L120.9,85.5 L120.9,81.8 L121.0,78.2 L121.0,74.5 L121.1,70.9 L121.1,67.2 L121.2,63.5 L121.2,59.9 L121.3,56.2 L121.3,52.6 L121.3,48.9 L121.4,48.4 L121.4,48.4 L121.5,49.2 L121.5,50.2 L121.6,51.1 L121.6,52.1 L121.7,53.1 L121.7,54.0 L121.8,55.0 L121.8,56.0 L121.9,56.9 L121.9,57.9 L122.0,58.8 L122.0,59.8 L122.0,60.8 L122.1,61.7 L122.1,62.7 L122.2,63.6 L122.2,62.4 L122.3,61.2 L122.3,60.0 L122.4,58.8 L122.4,57.6 L122.5,56.4 L122.5,55.2 L122.6,54.0 L122.6,52.8 L122.6,51.6 L122.7,50.4 L122.7,49.2 L122.8,48.0 L122.8,46.8 L122.9,45.6 L122.9,44.4 L123.0,43.7 L123.0,43.7 L123.1,44.8 L123.1,47.9 L123.2,51.0 L123.2,54.1 L123.2,57.2 L123.3,60.3 L123.3,63.4 L123.4,66.6 L123.4,69.7 L123.5,72.8 L123.5,75.9 L123.6,79.0 L123.6,82.1 L123.7,85.2 L123.7,88.3 L123.8,91.4 L123.8,94.5 L123.9,97.6 L123.9,100.7 L123.9,103.8 L124.0,106.9 L124.0,110.0 L124.1,113.1 L124.1,116.2 L124.2,119.3 L124.2,122.4 L124.3,125.5 L124.3,128.6 L124.4,131.7 L124.4,134.8 L124.5,137.9 L124.5,141.0 L124.5,144.1 L124.6,147.2 L124.6,150.4 L124.7,148.8 L124.7,145.5 L124.8,142.1 L124.8,138.8 L124.9,135.4 L124.9,132.1 L125.0,128.7 L125.0,125.4 L125.1,122.0 L125.1,118.7 L125.2,115.4 L125.2,112.0 L125.2,108.7 L125.3,105.3 L125.3,102.0 L125.4,98.6 L125.4,95.3 L125.5,91.9 L125.5,88.6 L125.6,86.4 L125.6,86.4 L125.7,87.7 L125.7,91.3 L125.8,94.9 L125.8,98.5 L125.8,102.2 L125.9,105.8 L125.9,109.4 L126.0,113.0 L126.0,116.7 L126.1,120.3 L126.1,123.9 L126.2,127.5 L126.2,131.2 L126.3,134.8 L126.3,138.4 L126.4,142.1 L126.4,145.7 L126.5,149.3 L126.5,147.6 L126.5,144.2 L126.6,140.8 L126.6,137.4 L126.7,134.0 L126.7,130.6 L126.8,127.3 L126.8,123.9 L126.9,120.5 L126.9,117.1 L127.0,113.7 L127.0,110.3 L127.1,106.9 L127.1,103.5 L127.1,100.1 L127.2,96.7 L127.2,93.3 L127.3,89.9 L127.3,86.5 L127.4,83.1 L127.4,79.7 L127.5,76.3 L127.5,72.9 L127.6,69.5 L127.6,66.1 L127.7,62.7 L127.7,59.3 L127.8,56.0 L127.8,52.6 L127.8,49.2 L127.9,48.4 L127.9,48.4 L128.0,50.9 L128.0,54.1 L128.1,57.3 L128.1,60.5 L128.2,63.8 L128.2,67.0 L128.3,70.2 L128.3,73.4 L128.4,76.6 L128.4,79.8 L128.4,83.1 L128.5,86.3 L128.5,89.5 L128.6,92.7 L128.6,95.9 L128.7,99.1 L128.7,102.4 L128.8,105.6 L128.8,108.8 L128.9,112.0 L128.9,115.2 L129.0,118.4 L129.0,121.6 L129.0,124.9 L129.1,128.1 L129.1,131.3 L129.2,134.5 L129.2,137.7 L129.3,140.9 L129.3,144.2 L129.4,145.1 L129.4,141.9 L129.5,138.7 L129.5,135.4 L129.6,132.2 L129.6,129.0 L129.7,125.7 L129.7,122.5 L129.7,119.3 L129.8,116.0 L129.8,112.8 L129.9,109.6 L129.9,106.3 L130.0,103.1 L130.0,99.9 L130.1,96.6 L130.1,93.4 L130.2,90.2 L130.2,86.9 L130.3,83.7 L130.3,80.5 L130.3,77.2 L130.4,74.0 L130.4,70.8 L130.5,67.5 L130.5,64.3 L130.6,61.1 L130.6,57.8 L130.7,56.0 L130.7,56.0 L130.8,57.0 L130.8,59.3 L130.9,61.7 L130.9,64.0 L131.0,66.4 L131.0,68.7 L131.0,71.1 L131.1,73.4 L131.1,75.7 L131.2,78.1 L131.2,80.4 L131.3,82.8 L131.3,85.1 L131.4,87.4 L131.4,89.8 L131.5,92.1 L131.5,94.5 L131.6,96.8 L131.6,99.1 L131.6,101.5 L131.7,103.8 L131.7,106.2 L131.8,108.5 L131.8,110.8 L131.9,113.2 L131.9,115.5 L132.0,117.9 L132.0,120.2 L132.1,122.5 L132.1,124.9 L132.2,127.2 L132.2,129.6 L132.3,131.9 L132.3,134.3 L132.3,136.6 L132.4,138.9 L132.4,141.3 L132.5,143.6 L132.5,146.0 L132.6,145.9 L132.6,143.4 L132.7,141.0 L132.7,138.5 L132.8,136.0 L132.8,133.6 L132.9,131.1 L132.9,128.7 L132.9,126.2 L133.0,123.7 L133.0,121.3 L133.1,118.8 L133.1,116.3 L133.2,113.9 L133.2,111.4 L133.3,108.9 L133.3,106.5 L133.4,104.0 L133.4,101.6 L133.5,99.1 L133.5,96.6 L133.6,94.2 L133.6,94.0 L133.6,94.0 L133.7,96.1 L133.7,98.3 L133.8,100.5 L133.8,102.7 L133.9,105.0 L133.9,107.2 L134.0,109.4 L134.0,111.6 L134.1,113.9 L134.1,116.1 L134.2,118.3 L134.2,120.5 L134.2,122.8 L134.3,125.0 L134.3,127.2 L134.4,129.4 L134.4,131.7 L134.5,133.9 L134.5,136.1 L134.6,138.3 L134.6,140.5 L134.7,142.8 L134.7,145.0 L134.8,147.2 L134.8,149.4 L134.8,151.7 L134.9,152.1 L134.9,150.0 L135.0,147.8 L135.0,145.7 L135.1,143.5 L135.1,141.4 L135.2,139.2 L135.2,137.0 L135.3,134.9 L135.3,132.7 L135.4,130.6 L135.4,128.4 L135.5,126.3 L135.5,124.1 L135.5,122.0 L135.6,119.8 L135.6,117.7 L135.7,115.5 L135.7,113.4 L135.8,111.2 L135.8,109.1 L135.9,106.9 L135.9,104.8 L136.0,102.6 L136.0,100.5 L136.1,98.3 L136.1,96.2 L136.1,94.0 L136.2,91.8 L136.2,89.7 L136.3,87.5 L136.3,85.4 L136.4,84.5 L136.4,84.5 L136.5,86.3 L136.5,89.4 L136.6,92.5 L136.6,95.6 L136.7,98.7 L136.7,101.8 L136.8,104.9 L136.8,108.0 L136.8,111.1 L136.9,114.2 L136.9,117.2 L137.0,120.3 L137.0,123.4 L137.1,126.5 L137.1,129.6 L137.2,132.7 L137.2,135.8 L137.3,138.9 L137.3,142.0 L137.4,145.1 L137.4,148.2 L137.4,151.2 L137.5,148.2 L137.5,145.3 L137.6,142.3 L137.6,139.4 L137.7,136.4 L137.7,133.5 L137.8,130.5 L137.8,127.6 L137.9,124.6 L137.9,121.6 L138.0,118.7 L138.0,115.7 L138.1,112.8 L138.1,109.8 L138.1,106.9 L138.2,103.9 L138.2,101.0 L138.3,98.0 L138.3,95.1 L138.4,92.1 L138.4,89.2 L138.5,86.2 L138.5,83.2 L138.6,80.3 L138.6,77.3 L138.7,74.4 L138.7,71.4 L138.7,68.5 L138.8,65.5 L138.8,62.6 L138.9,61.7 L138.9,61.7 L139.0,63.3 L139.0,65.5 L139.1,67.7 L139.1,69.9 L139.2,72.1 L139.2,74.4 L139.3,76.6 L139.3,78.8 L139.4,81.0 L139.4,83.2 L139.4,85.4 L139.5,87.7 L139.5,89.9 L139.6,92.1 L139.6,94.3 L139.7,96.5 L139.7,98.7 L139.8,101.0 L139.8,103.2 L139.9,105.4 L139.9,107.6 L140.0,109.8 L140.0,112.0 L140.0,114.3 L140.1,116.5 L140.1,118.7 L140.2,120.9 L140.2,123.1 L140.3,125.3 L140.3,127.6 L140.4,129.8 L140.4,132.0 L140.5,134.2 L140.5,136.4 L140.6,138.6 L140.6,140.9 L140.6,143.1 L140.7,145.3 L140.7,147.5 L140.8,149.7 L140.8,151.9 L140.9,151.6 L140.9,149.3 L141.0,147.1 L141.0,144.9 L141.1,142.6 L141.1,140.4 L141.2,138.2 L141.2,135.9 L141.3,133.7 L141.3,131.5 L141.3,129.2 L141.4,127.0 L141.4,124.8 L141.5,122.5 L141.5,120.3 L141.6,118.1 L141.6,115.8 L141.7,113.6 L141.7,111.4 L141.8,109.1 L141.8,106.9 L141.9,104.7 L141.9,102.4 L141.9,100.2 L142.0,98.0 L142.0,95.7 L142.1,93.5 L142.1,91.3 L142.2,89.0 L142.2,86.8 L142.3,84.6 L142.3,82.3 L142.4,80.1 L142.4,77.9 L142.5,75.6 L142.5,73.4 L142.6,71.2 L142.6,68.9 L142.6,66.7 L142.7,66.3 L142.7,66.3 L142.8,68.5 L142.8,71.2 L142.9,73.9 L142.9,76.6 L143.0,79.3 L143.0,82.0 L143.1,84.7 L143.1,87.4 L143.2,90.1 L143.2,92.8 L143.2,95.6 L143.3,98.3 L143.3,101.0 L143.4,103.7 L143.4,106.4 L143.5,109.1 L143.5,111.8 L143.6,114.5 L143.6,117.2 L143.7,120.0 L143.7,122.7 L143.8,125.4 L143.8,128.1 L143.9,130.8 L143.9,133.5 L143.9,136.2 L144.0,138.9 L144.0,141.6 L144.1,144.3 L144.1,147.1 L144.2,149.8 L144.2,152.5 L144.3,155.2 L144.3,152.5 L144.4,149.4 L144.4,146.4 L144.5,143.4 L144.5,140.4 L144.5,137.3 L144.6,134.3 L144.6,131.3 L144.7,128.3 L144.7,125.2 L144.8,122.2 L144.8,119.2 L144.9,116.2 L144.9,113.1 L145.0,110.1 L145.0,107.1 L145.1,104.1 L145.1,101.0 L145.2,98.0 L145.2,97.8 L145.2,97.8 L145.3,100.4 L145.3,103.3 L145.4,106.1 L145.4,108.9 L145.5,111.7 L145.5,114.6 L145.6,117.4 L145.6,120.2 L145.7,123.0 L145.7,125.8 L145.8,128.7 L145.8,131.5 L145.8,134.3 L145.9,137.1 L145.9,140.0 L146.0,142.8 L146.0,145.6 L146.1,148.4 L146.1,151.3 L146.2,151.5 L146.2,148.9 L146.3,146.3 L146.3,143.6 L146.4,141.0 L146.4,138.4 L146.4,135.8 L146.5,133.2 L146.5,130.6 L146.6,128.0 L146.6,125.4 L146.7,122.8 L146.7,120.1 L146.8,117.5 L146.8,114.9 L146.9,112.3 L146.9,109.7 L147.0,107.1 L147.0,104.5 L147.1,101.9 L147.1,99.2 L147.1,96.6 L147.2,94.0 L147.2,91.4 L147.3,88.8 L147.3,86.2 L147.4,83.6 L147.4,81.0 L147.5,78.4 L147.5,75.7 L147.6,73.7 L147.6,73.7 L147.7,74.4 L147.7,77.8 L147.7,81.2 L147.8,84.6 L147.8,88.0 L147.9,91.4 L147.9,94.9 L148.0,98.3 L148.0,101.7 L148.1,105.1 L148.1,108.5 L148.2,111.9 L148.2,115.4 L148.3,118.8 L148.3,122.2 L148.4,125.6 L148.4,129.0 L148.4,132.4 L148.5,135.8 L148.5,139.3 L148.6,142.7 L148.6,146.1 L148.7,144.1 L148.7,140.7 L148.8,137.3 L148.8,134.0 L148.9,130.6 L148.9,127.3 L149.0,123.9 L149.0,120.5 L149.0,117.2 L149.1,113.8 L149.1,110.5 L149.2,107.1 L149.2,103.7 L149.3,100.4 L149.3,97.0 L149.4,93.7 L149.4,90.3 L149.5,86.9 L149.5,83.6 L149.6,80.2 L149.6,76.9 L149.7,73.5 L149.7,70.1 L149.7,66.8 L149.8,63.4 L149.8,60.1 L149.9,58.9 L149.9,58.9 L150.0,60.4 L150.0,62.8 L150.1,65.2 L150.1,67.6 L150.2,70.0 L150.2,72.4 L150.3,74.8 L150.3,77.2 L150.3,79.6 L150.4,82.0 L150.4,84.4 L150.5,86.8 L150.5,89.2 L150.6,91.6 L150.6,94.1 L150.7,96.5 L150.7,98.9 L150.8,101.3 L150.8,103.7 L150.9,106.1 L150.9,108.5 L151.0,110.9 L151.0,113.3 L151.0,115.7 L151.1,118.1 L151.1,120.5 L151.2,122.9 L151.2,125.3 L151.3,127.7 L151.3,130.1 L151.4,132.5 L151.4,134.9 L151.5,137.3 L151.5,139.7 L151.6,142.1 L151.6,144.5 L151.6,147.0 L151.7,149.0 L151.7,146.6 L151.8,144.2 L151.8,141.9 L151.9,139.5 L151.9,137.1 L152.0,134.7 L152.0,132.3 L152.1,130.0 L152.1,127.6 L152.2,125.2 L152.2,122.8 L152.2,120.4 L152.3,118.1 L152.3,115.7 L152.4,113.3 L152.4,110.9 L152.5,108.5 L152.5,106.2 L152.6,103.8 L152.6,101.4 L152.7,99.0 L152.7,96.6 L152.8,94.3 L152.8,91.9 L152.9,89.5 L152.9,87.1 L152.9,84.7 L153.0,82.3 L153.0,80.0 L153.1,77.6 L153.1,75.2 L153.2,72.8 L153.2,70.4 L153.3,68.1 L153.3,65.7 L153.4,63.3 L153.4,60.9 L153.5,58.5 L153.5,56.2 L153.5,53.8 L153.6,51.4 L153.6,49.0 L153.7,48.4 L153.7,48.4 L153.8,50.4 L153.8,53.2 L153.9,55.9 L153.9,58.6 L154.0,61.4 L154.0,64.1 L154.1,66.9 L154.1,69.6 L154.2,72.3 L154.2,75.1 L154.2,77.8 L154.3,80.5 L154.3,83.3 L154.4,86.0 L154.4,88.8 L154.5,91.5 L154.5,94.2 L154.6,97.0 L154.6,99.7 L154.7,102.5 L154.7,105.2 L154.8,107.9 L154.8,110.7 L154.8,113.4 L154.9,116.1 L154.9,118.9 L155.0,121.6 L155.0,124.4 L155.1,127.1 L155.1,129.8 L155.2,132.6 L155.2,135.3 L155.3,138.0 L155.3,140.8 L155.4,143.5 L155.4,146.3 L155.5,149.0 L155.5,151.7 L155.5,149.3 L155.6,146.5 L155.6,143.8 L155.7,141.1 L155.7,138.3 L155.8,135.6 L155.8,132.9 L155.9,130.1 L155.9,127.4 L156.0,124.6 L156.0,121.9 L156.1,119.2 L156.1,116.4 L156.1,113.7 L156.2,111.0 L156.2,108.2 L156.3,105.5 L156.3,102.7 L156.4,100.0 L156.4,97.3 L156.5,94.5 L156.5,91.8 L156.6,89.0 L156.6,86.3 L156.7,83.6 L156.7,80.8 L156.8,78.1 L156.8,75.4 L156.8,72.6 L156.9,69.9 L156.9,67.1 L157.0,64.4 L157.0,61.7 L157.1,58.9 L157.1,56.2 L157.2,53.5 L157.2,50.7 L157.3,48.4 L157.3,48.4 L157.4,48.7 L157.4,51.0 L157.4,53.2 L157.5,55.4 L157.5,57.6 L157.6,59.9 L157.6,62.1 L157.7,64.3 L157.7,66.5 L157.8,68.8 L157.8,71.0 L157.9,73.2 L157.9,75.4 L158.0,77.7 L158.0,79.9 L158.0,82.1 L158.1,84.3 L158.1,86.6 L158.2,88.8 L158.2,91.0 L158.3,93.2 L158.3,95.5 L158.4,97.7 L158.4,99.9 L158.5,102.1 L158.5,104.4 L158.6,106.6 L158.6,108.8 L158.7,111.0 L158.7,113.3 L158.7,115.5 L158.8,117.7 L158.8,119.9 L158.9,122.1 L158.9,124.4 L159.0,126.6 L159.0,128.8 L159.1,131.0 L159.1,133.3 L159.2,135.5 L159.2,137.7 L159.3,139.9 L159.3,142.2 L159.3,144.4 L159.4,146.6 L159.4,148.1 L159.5,145.8 L159.5,143.5 L159.6,141.2 L159.6,138.8 L159.7,136.5 L159.7,134.2 L159.8,131.9 L159.8,129.6 L159.9,127.3 L159.9,124.9 L160.0,122.6 L160.0,120.3 L160.0,118.0 L160.1,115.7 L160.1,113.4 L160.2,111.0 L160.2,108.7 L160.3,106.4 L160.3,104.1 L160.4,101.8 L160.4,99.5 L160.5,97.1 L160.5,94.8 L160.6,92.5 L160.6,90.2 L160.6,87.9 L160.7,85.6 L160.7,83.2 L160.8,82.6 L160.8,82.6 L160.9,84.6 L160.9,87.4 L161.0,90.2 L161.0,93.0 L161.1,95.7 L161.1,98.5 L161.2,101.3 L161.2,104.1 L161.3,106.8 L161.3,109.6 L161.3,112.4 L161.4,115.2 L161.4,118.0 L161.5,120.7 L161.5,123.5 L161.6,126.3 L161.6,129.1 L161.7,131.9 L161.7,134.6 L161.8,137.4 L161.8,140.2 L161.9,143.0 L161.9,145.8 L161.9,148.5 L162.0,151.3 L162.0,154.1 L162.1,154.1 L162.1,151.4 L162.2,148.8 L162.2,146.2 L162.3,143.6 L162.3,141.0 L162.4,138.4 L162.4,135.8 L162.5,133.2 L162.5,130.6 L162.6,128.0 L162.6,125.4 L162.6,122.8 L162.7,120.2 L162.7,117.6 L162.8,115.0 L162.8,112.4 L162.9,109.8 L162.9,107.2 L163.0,104.6 L163.0,102.0 L163.1,99.4 L163.1,96.8 L163.2,94.2 L163.2,91.5 L163.2,88.9 L163.3,86.3 L163.3,83.7 L163.4,81.1 L163.4,78.5 L163.5,75.9 L163.5,73.3 L163.6,70.7 L163.6,68.1 L163.7,65.5 L163.7,62.9 L163.8,60.3 L163.8,57.7 L163.8,55.1 L163.9,54.9 L163.9,54.9 L164.0,58.0 L164.0,61.5 L164.1,64.9 L164.1,68.4 L164.2,71.9 L164.2,75.3 L164.3,78.8 L164.3,82.2 L164.4,85.7 L164.4,89.1 L164.5,92.6 L164.5,96.1 L164.5,99.5 L164.6,103.0 L164.6,106.4 L164.7,109.9 L164.7,113.4 L164.8,116.8 L164.8,120.3 L164.9,123.7 L164.9,127.2 L165.0,130.7 L165.0,134.1 L165.1,137.6 L165.1,141.0 L165.1,144.5 L165.2,147.9 L165.2,151.4 L165.3,154.9 L165.3,151.8 L165.4,147.9 L165.4,144.1 L165.5,140.2 L165.5,136.4 L165.6,132.5 L165.6,128.7 L165.7,124.8 L165.7,121.0 L165.8,117.1 L165.8,113.3 L165.8,109.4 L165.9,105.6 L165.9,101.7 L166.0,97.9 L166.0,94.0 L166.1,92.1 L166.1,92.1 L166.2,94.2 L166.2,98.4 L166.3,102.6 L166.3,106.7 L166.4,110.9 L166.4,115.1 L166.4,119.3 L166.5,123.5 L166.5,127.7 L166.6,131.8 L166.6,136.0 L166.7,140.2 L166.7,144.4 L166.8,148.6 L166.8,152.8 L166.9,152.0 L166.9,148.2 L167.0,144.5 L167.0,140.8 L167.1,137.0 L167.1,133.3 L167.1,129.6 L167.2,125.8 L167.2,122.1 L167.3,118.4 L167.3,114.7 L167.4,110.9 L167.4,107.2 L167.5,103.5 L167.5,99.7 L167.6,96.0 L167.6,92.3 L167.7,88.5 L167.7,84.8 L167.7,81.1 L167.8,77.3 L167.8,73.6 L167.9,69.9 L167.9,66.2 L168.0,62.4 L168.0,58.7 L168.1,55.0 L168.1,51.2 L168.2,48.4 L168.2,48.4 L168.3,48.6 L168.3,49.6 L168.4,50.6 L168.4,51.5 L168.4,52.5 L168.5,53.4 L168.5,54.4 L168.6,55.4 L168.6,56.3 L168.7,57.3 L168.7,58.2 L168.8,59.2 L168.8,60.2 L168.9,61.1 L168.9,62.1 L169.0,63.0 L169.0,63.1 L169.0,61.9 L169.1,60.7 L169.1,59.5 L169.2,58.3 L169.2,57.1 L169.3,55.9 L169.3,54.7 L169.4,53.5 L169.4,52.3 L169.5,51.1 L169.5,49.9 L169.6,48.7 L169.6,47.5 L169.6,46.3 L169.7,45.1 L169.7,43.9 L169.8,43.7 L169.8,43.7 L169.9,46.0 L169.9,49.1 L170.0,52.2 L170.0,55.3 L170.1,58.4 L170.1,61.4 L170.2,64.5 L170.2,67.6 L170.3,70.7 L170.3,73.8 L170.3,76.9 L170.4,80.0 L170.4,83.1 L170.5,86.2 L170.5,89.3 L170.6,92.3 L170.6,95.4 L170.7,98.5 L170.7,101.6 L170.8,104.7 L170.8,107.8 L170.9,110.9 L170.9,114.0 L170.9,117.1 L171.0,120.1 L171.0,123.2 L171.1,126.3 L171.1,129.4 L171.2,132.5 L171.2,135.6 L171.3,138.7 L171.3,141.8 L171.4,144.9 L171.4,148.0 L171.5,150.4 L171.5,147.1 L171.6,143.8 L171.6,140.4 L171.6,137.1 L171.7,133.8 L171.7,130.5 L171.8,127.2 L171.8,123.8 L171.9,120.5 L171.9,117.2 L172.0,113.9 L172.0,110.6 L172.1,107.2 L172.1,103.9 L172.2,100.6 L172.2,97.3 L172.2,94.0 L172.3,90.6 L172.3,87.3 L172.4,86.4 L172.4,86.4 L172.5,89.2 L172.5,93.1 L172.6,96.9 L172.6,100.8 L172.7,104.6 L172.7,108.5 L172.8,112.3 L172.8,116.2 L172.9,120.1 L172.9,123.9 L172.9,127.8 L173.0,131.6 L173.0,135.5 L173.1,139.3 L173.1,143.2 L173.2,147.1 L173.2,150.9 L173.3,153.8 L173.3,150.2 L173.4,146.7 L173.4,143.2 L173.5,139.6 L173.5,136.1 L173.5,132.6 L173.6,129.1 L173.6,125.5 L173.7,122.0 L173.7,118.5 L173.8,114.9 L173.8,111.4 L173.9,107.9 L173.9,104.3 L174.0,100.8 L174.0,97.3 L174.1,93.7 L174.1,90.2 L174.2,86.7 L174.2,83.2 L174.2,79.6 L174.3,76.1 L174.3,72.6 L174.4,69.0 L174.4,65.5 L174.5,62.0 L174.5,58.4 L174.6,54.9 L174.6,51.4 L174.7,48.4 L174.7,48.4 L174.8,48.9 L174.8,52.2 L174.8,55.4 L174.9,58.7 L174.9,61.9 L175.0,65.2 L175.0,68.4 L175.1,71.7 L175.1,75.0 L175.2,78.2 L175.2,81.5 L175.3,84.7 L175.3,88.0 L175.4,91.2 L175.4,94.5 L175.4,97.8 L175.5,101.0 L175.5,104.3 L175.6,107.5 L175.6,110.8 L175.7,114.0 L175.7,117.3 L175.8,120.5 L175.8,123.8 L175.9,127.1 L175.9,130.3 L176.0,133.6 L176.0,136.8 L176.1,140.1 L176.1,143.3 L176.1,146.6 L176.2,145.1 L176.2,141.8 L176.3,138.6 L176.3,135.3 L176.4,132.0 L176.4,128.7 L176.5,125.5 L176.5,122.2 L176.6,118.9 L176.6,115.6 L176.7,112.3 L176.7,109.1 L176.7,105.8 L176.8,102.5 L176.8,99.2 L176.9,96.0 L176.9,92.7 L177.0,89.4 L177.0,86.1 L177.1,82.8 L177.1,79.6 L177.2,76.3 L177.2,73.0 L177.3,69.7 L177.3,66.5 L177.4,63.2 L177.4,59.9 L177.4,56.6 L177.5,56.0 L177.5,56.0 L177.6,57.9 L177.6,60.3 L177.7,62.7 L177.7,65.1 L177.8,67.5 L177.8,69.9 L177.9,72.3 L177.9,74.7 L178.0,77.1 L178.0,79.5 L178.0,81.9 L178.1,84.3 L178.1,86.7 L178.2,89.1 L178.2,91.4 L178.3,93.8 L178.3,96.2 L178.4,98.6 L178.4,101.0 L178.5,103.4 L178.5,105.8 L178.6,108.2 L178.6,110.6 L178.7,113.0 L178.7,115.4 L178.7,117.8 L178.8,120.2 L178.8,122.6 L178.9,125.0 L178.9,127.4 L179.0,129.7 L179.0,132.1 L179.1,134.5 L179.1,136.9 L179.2,139.3 L179.2,141.7 L179.3,144.1 L179.3,146.5 L179.3,148.9 L179.4,146.9 L179.4,144.4" stroke="#0000ff" stroke-width="2.5" fill="none" stroke-linejoin="round"/>
<path clip-path="url(#c_vel)" d="M12.4,94.7 L12.4,94.7 L12.5,94.7 L12.5,94.7 L12.6,92.2 L12.6,89.6 L12.7,87.1 L12.7,84.6 L12.8,82.1 L12.8,79.6 L12.9,77.1 L12.9,74.6 L13.0,72.0 L13.0,69.5 L13.0,67.0 L13.1,64.5 L13.1,62.0 L13.2,59.5 L13.2,56.9 L13.3,54.4 L13.3,51.9 L13.4,49.4 L13.4,48.4 L13.5,48.4 L13.5,50.0 L13.6,52.6 L13.6,55.3 L13.7,57.9 L13.7,60.6 L13.7,63.2 L13.8,65.9 L13.8,68.5 L13.9,71.1 L13.9,73.8 L14.0,76.4 L14.0,79.1 L14.1,81.7 L14.1,84.4 L14.2,87.0 L14.2,89.6 L14.3,92.3 L14.3,94.9 L14.3,97.6 L14.4,100.2 L14.4,102.8 L14.5,105.5 L14.5,108.1 L14.6,110.8 L14.6,113.4 L14.7,116.1 L14.7,118.7 L14.8,121.3 L14.8,124.0 L14.9,126.6 L14.9,129.3 L15.0,131.9 L15.0,134.6 L15.0,137.2 L15.1,139.8 L15.1,142.5 L15.2,145.1 L15.2,147.8 L15.3,146.1 L15.3,143.5 L15.4,140.9 L15.4,138.2 L15.5,135.6 L15.5,132.9 L15.6,130.3 L15.6,127.6 L15.6,125.0 L15.7,122.4 L15.7,119.7 L15.8,117.1 L15.8,114.4 L15.9,111.8 L15.9,109.1 L16.0,106.5 L16.0,103.9 L16.1,101.2 L16.1,98.6 L16.2,95.9 L16.2,93.3 L16.3,90.6 L16.3,88.0 L16.3,85.4 L16.4,82.7 L16.4,80.1 L16.5,77.4 L16.5,74.8 L16.6,72.1 L16.6,69.5 L16.7,66.9 L16.7,64.2 L16.8,61.6 L16.8,58.9 L16.9,56.3 L16.9,53.6 L16.9,51.0 L17.0,48.4 L17.0,48.4 L17.1,48.4 L17.1,50.7 L17.2,53.0 L17.2,55.2 L17.3,57.5 L17.3,59.8 L17.4,62.1 L17.4,64.3 L17.5,66.6 L17.5,68.9 L17.6,71.1 L17.6,73.4 L17.6,75.7 L17.7,78.0 L17.7,80.2 L17.8,82.5 L17.8,84.8 L17.9,87.0 L17.9,89.3 L18.0,91.6 L18.0,93.8 L18.1,96.1 L18.1,98.4 L18.2,100.7 L18.2,102.9 L18.2,105.2 L18.3,107.5 L18.3,109.7 L18.4,112.0 L18.4,114.3 L18.5,116.5 L18.5,118.8 L18.6,121.1 L18.6,123.4 L18.7,125.6 L18.7,127.9 L18.8,130.2 L18.8,132.4 L18.8,134.7 L18.9,137.0 L18.9,139.2 L19.0,141.5 L19.0,143.8 L19.1,146.1 L19.1,148.3 L19.2,150.5 L19.2,148.1 L19.3,145.7 L19.3,143.3 L19.4,140.9 L19.4,138.5 L19.5,136.2 L19.5,133.8 L19.5,131.4 L19.6,129.0 L19.6,126.6 L19.7,124.2 L19.7,121.8 L19.8,119.4 L19.8,117.0 L19.9,114.7 L19.9,112.3 L20.0,109.9 L20.0,107.5 L20.1,105.1 L20.1,102.7 L20.1,100.3 L20.2,97.9 L20.2,95.5 L20.3,93.1 L20.3,90.8 L20.4,88.4 L20.4,86.0 L20.5,83.6 L20.5,82.6 L20.6,82.6 L20.6,84.2 L20.7,87.0 L20.7,89.8 L20.8,92.5 L20.8,95.3 L20.8,98.1 L20.9,100.8 L20.9,103.6 L21.0,106.4 L21.0,109.1 L21.1,111.9 L21.1,114.7 L21.2,117.4 L21.2,120.2 L21.3,123.0 L21.3,125.7 L21.4,128.5 L21.4,131.3 L21.4,134.0 L21.5,136.8 L21.5,139.6 L21.6,142.3 L21.6,145.1 L21.7,147.9 L21.7,150.6 L21.8,153.4 L21.8,154.1 L21.9,151.5 L21.9,148.9 L22.0,146.3 L22.0,143.7 L22.1,141.1 L22.1,138.5 L22.1,135.9 L22.2,133.3 L22.2,130.7 L22.3,128.1 L22.3,125.5 L22.4,122.9 L22.4,120.3 L22.5,117.7 L22.5,115.2 L22.6,112.6 L22.6,110.0 L22.7,107.4 L22.7,104.8 L22.7,102.2 L22.8,99.6 L22.8,97.0 L22.9,94.4 L22.9,91.8 L23.0,89.2 L23.0,86.6 L23.1,84.0 L23.1,81.4 L23.2,78.8 L23.2,76.2 L23.3,73.6 L23.3,71.0 L23.4,68.4 L23.4,65.8 L23.4,63.2 L23.5,60.6 L23.5,58.0 L23.6,55.4 L23.6,54.9 L23.7,54.9 L23.7,57.3 L23.8,60.5 L23.8,63.6 L23.9,66.8 L23.9,69.9 L24.0,73.1 L24.0,76.3 L24.0,79.4 L24.1,82.6 L24.1,85.7 L24.2,88.9 L24.2,92.0 L24.3,95.2 L24.3,98.4 L24.4,101.5 L24.4,104.7 L24.5,107.8 L24.5,111.0 L24.6,114.1 L24.6,117.3 L24.6,120.5 L24.7,123.6 L24.7,126.8 L24.8,129.9 L24.8,133.1 L24.9,136.2 L24.9,139.4 L25.0,142.6 L25.0,145.7 L25.1,144.0 L25.1,140.7 L25.2,137.3 L25.2,134.0 L25.3,130.7 L25.3,127.4 L25.3,124.1 L25.4,120.8 L25.4,117.4 L25.5,114.1 L25.5,110.8 L25.6,107.5 L25.6,104.2 L25.7,100.9 L25.7,97.5 L25.8,94.2 L25.8,92.1 L25.9,92.1 L25.9,93.6 L25.9,97.6 L26.0,101.6 L26.0,105.6 L26.1,109.7 L26.1,113.7 L26.2,117.7 L26.2,121.7 L26.3,125.8 L26.3,129.8 L26.4,133.8 L26.4,137.8 L26.5,141.9 L26.5,145.9 L26.6,149.9 L26.6,150.2 L26.6,146.5 L26.7,142.9 L26.7,139.2 L26.8,135.6 L26.8,131.9 L26.9,128.3 L26.9,124.6 L27.0,121.0 L27.0,117.3 L27.1,113.7 L27.1,110.0 L27.2,106.4 L27.2,102.7 L27.2,99.1 L27.3,95.4 L27.3,91.8 L27.4,88.1 L27.4,84.5 L27.5,80.9 L27.5,77.2 L27.6,73.6 L27.6,69.9 L27.7,66.3 L27.7,62.6 L27.8,59.0 L27.8,55.3 L27.9,51.7 L27.9,48.4 L27.9,48.4 L28.0,48.5 L28.0,49.5 L28.1,50.5 L28.1,51.5 L28.2,52.5 L28.2,53.6 L28.3,54.6 L28.3,55.6 L28.4,56.6 L28.4,57.6 L28.5,58.6 L28.5,59.6 L28.5,60.6 L28.6,61.6 L28.6,62.7 L28.7,63.5 L28.7,61.8 L28.8,60.1 L28.8,58.4 L28.9,56.7 L28.9,55.0 L29.0,53.4 L29.0,51.7 L29.1,50.0 L29.1,48.3 L29.2,46.6 L29.2,44.9 L29.2,43.2 L29.3,41.5 L29.3,39.9 L29.4,38.2 L29.4,36.5 L29.5,34.8 L29.5,34.2 L29.6,34.2 L29.6,36.2 L29.7,39.6 L29.7,43.0 L29.8,46.4 L29.8,49.8 L29.8,53.2 L29.9,56.5 L29.9,59.9 L30.0,63.3 L30.0,66.7 L30.1,70.1 L30.1,73.4 L30.2,76.8 L30.2,80.2 L30.3,83.6 L30.3,87.0 L30.4,90.3 L30.4,93.7 L30.4,97.1 L30.5,100.5 L30.5,103.9 L30.6,107.3 L30.6,110.6 L30.7,114.0 L30.7,117.4 L30.8,120.8 L30.8,124.2 L30.9,127.5 L30.9,130.9 L31.0,134.3 L31.0,137.7 L31.1,141.1 L31.1,144.4 L31.1,147.8 L31.2,151.2 L31.2,154.6 L31.3,152.3 L31.3,148.5 L31.4,144.7 L31.4,140.9 L31.5,137.1 L31.5,133.3 L31.6,129.6 L31.6,125.8 L31.7,122.0 L31.7,118.2 L31.7,114.4 L31.8,110.7 L31.8,106.9 L31.9,103.1 L31.9,99.3 L32.0,95.5 L32.0,91.7 L32.1,88.0 L32.1,86.4 L32.2,86.4 L32.2,88.5 L32.3,92.0 L32.3,95.5 L32.4,99.0 L32.4,102.6 L32.4,106.1 L32.5,109.6 L32.5,113.2 L32.6,116.7 L32.6,120.2 L32.7,123.7 L32.7,127.3 L32.8,130.8 L32.8,134.3 L32.9,137.8 L32.9,141.4 L33.0,144.9 L33.0,148.4 L33.0,145.1 L33.1,141.8 L33.1,138.4 L33.2,135.1 L33.2,131.8 L33.3,128.4 L33.3,125.1 L33.4,121.8 L33.4,118.4 L33.5,115.1 L33.5,111.7 L33.6,108.4 L33.6,105.1 L33.7,101.7 L33.7,98.4 L33.7,95.1 L33.8,91.7 L33.8,88.4 L33.9,85.0 L33.9,81.7 L34.0,78.4 L34.0,75.0 L34.1,71.7 L34.1,68.4 L34.2,65.0 L34.2,61.7 L34.3,58.4 L34.3,55.0 L34.3,51.7 L34.4,48.4 L34.4,48.4 L34.5,48.5 L34.5,51.8 L34.6,55.2 L34.6,58.6 L34.7,62.0 L34.7,65.4 L34.8,68.8 L34.8,72.2 L34.9,75.6 L34.9,78.9 L35.0,82.3 L35.0,85.7 L35.0,89.1 L35.1,92.5 L35.1,95.9 L35.2,99.3 L35.2,102.6 L35.3,106.0 L35.3,109.4 L35.4,112.8 L35.4,116.2 L35.5,119.6 L35.5,123.0 L35.6,126.4 L35.6,129.7 L35.6,133.1 L35.7,136.5 L35.7,139.9 L35.8,143.3 L35.8,146.7 L35.9,150.1 L35.9,149.5 L36.0,146.0 L36.0,142.6 L36.1,139.2 L36.1,135.8 L36.2,132.4 L36.2,128.9 L36.2,125.5 L36.3,122.1 L36.3,118.7 L36.4,115.3 L36.4,111.8 L36.5,108.4 L36.5,105.0 L36.6,101.6 L36.6,98.2 L36.7,94.7 L36.7,91.3 L36.8,87.9 L36.8,84.5 L36.9,81.1 L36.9,77.6 L36.9,74.2 L37.0,70.8 L37.0,67.4 L37.1,64.0 L37.1,60.5 L37.2,57.1 L37.2,56.0 L37.3,56.0 L37.3,57.7 L37.4,60.2 L37.4,62.8 L37.5,65.3 L37.5,67.9 L37.5,70.4 L37.6,72.9 L37.6,75.5 L37.7,78.0 L37.7,80.6 L37.8,83.1 L37.8,85.6 L37.9,88.2 L37.9,90.7 L38.0,93.3 L38.0,95.8 L38.1,98.3 L38.1,100.9 L38.2,103.4 L38.2,106.0 L38.2,108.5 L38.3,111.0 L38.3,113.6 L38.4,116.1 L38.4,118.7 L38.5,121.2 L38.5,123.8 L38.6,126.3 L38.6,128.8 L38.7,131.4 L38.7,133.9 L38.8,136.5 L38.8,139.0 L38.8,141.5 L38.9,144.1 L38.9,146.6 L39.0,149.2 L39.0,151.7 L39.1,154.2 L39.1,152.8 L39.2,150.0 L39.2,147.1 L39.3,144.3 L39.3,141.5 L39.4,138.7 L39.4,135.9 L39.5,133.0 L39.5,130.2 L39.5,127.4 L39.6,124.6 L39.6,121.7 L39.7,118.9 L39.7,116.1 L39.8,113.3 L39.8,110.5 L39.9,107.6 L39.9,104.8 L40.0,102.0 L40.0,99.2 L40.1,96.3 L40.1,94.0 L40.1,94.0 L40.2,94.3 L40.2,96.4 L40.3,98.4 L40.3,100.4 L40.4,102.4 L40.4,104.4 L40.5,106.5 L40.5,108.5 L40.6,110.5 L40.6,112.5 L40.7,114.5 L40.7,116.5 L40.8,118.6 L40.8,120.6 L40.8,122.6 L40.9,124.6 L40.9,126.6 L41.0,128.6 L41.0,130.7 L41.1,132.7 L41.1,134.7 L41.2,136.7 L41.2,138.7 L41.3,140.7 L41.3,142.8 L41.4,144.8 L41.4,146.8 L41.4,146.2 L41.5,144.3 L41.5,142.3 L41.6,140.3 L41.6,138.3 L41.7,136.3 L41.7,134.4 L41.8,132.4 L41.8,130.4 L41.9,128.4 L41.9,126.4 L42.0,124.4 L42.0,122.5 L42.0,120.5 L42.1,118.5 L42.1,116.5 L42.2,114.5 L42.2,112.6 L42.3,110.6 L42.3,108.6 L42.4,106.6 L42.4,104.6 L42.5,102.7 L42.5,100.7 L42.6,98.7 L42.6,96.7 L42.7,94.7 L42.7,92.8 L42.7,90.8 L42.8,88.8 L42.8,86.8 L42.9,84.8 L42.9,84.5 L43.0,84.5 L43.0,87.1 L43.1,90.2 L43.1,93.2 L43.2,96.3 L43.2,99.4 L43.3,102.5 L43.3,105.6 L43.3,108.7 L43.4,111.8 L43.4,114.9 L43.5,118.0 L43.5,121.1 L43.6,124.2 L43.6,127.3 L43.7,130.4 L43.7,133.5 L43.8,136.6 L43.8,139.6 L43.9,142.7 L43.9,145.8 L44.0,148.9 L44.0,150.5 L44.0,147.5 L44.1,144.6 L44.1,141.6 L44.2,138.6 L44.2,135.7 L44.3,132.7 L44.3,129.8 L44.4,126.8 L44.4,123.9 L44.5,120.9 L44.5,118.0 L44.6,115.0 L44.6,112.1 L44.6,109.1 L44.7,106.2 L44.7,103.2 L44.8,100.3 L44.8,97.3 L44.9,94.3 L44.9,91.4 L45.0,88.4 L45.0,85.5 L45.1,82.5 L45.1,79.6 L45.2,76.6 L45.2,73.7 L45.3,70.7 L45.3,67.8 L45.3,64.8 L45.4,61.9 L45.4,61.7 L45.5,61.7 L45.5,63.8 L45.6,66.0 L45.6,68.3 L45.7,70.5 L45.7,72.7 L45.8,75.0 L45.8,77.2 L45.9,79.4 L45.9,81.6 L45.9,83.9 L46.0,86.1 L46.0,88.3 L46.1,90.6 L46.1,92.8 L46.2,95.0 L46.2,97.3 L46.3,99.5 L46.3,101.7 L46.4,103.9 L46.4,106.2 L46.5,108.4 L46.5,110.6 L46.6,112.9 L46.6,115.1 L46.6,117.3 L46.7,119.5 L46.7,121.8 L46.8,124.0 L46.8,126.2 L46.9,128.5 L46.9,130.7 L47.0,132.9 L47.0,135.2 L47.1,137.4 L47.1,139.6 L47.2,141.8 L47.2,144.1 L47.2,146.3 L47.3,148.5 L47.3,150.8 L47.4,153.0 L47.4,151.5 L47.5,149.3 L47.5,147.0 L47.6,144.8 L47.6,142.5 L47.7,140.3 L47.7,138.0 L47.8,135.8 L47.8,133.6 L47.8,131.3 L47.9,129.1 L47.9,126.8 L48.0,124.6 L48.0,122.3 L48.1,120.1 L48.1,117.8 L48.2,115.6 L48.2,113.3 L48.3,111.1 L48.3,108.8 L48.4,106.6 L48.4,104.3 L48.5,102.1 L48.5,99.8 L48.5,97.6 L48.6,95.4 L48.6,93.1 L48.7,90.9 L48.7,88.6 L48.8,86.4 L48.8,84.1 L48.9,81.9 L48.9,79.6 L49.0,77.4 L49.0,75.1 L49.1,72.9 L49.1,70.6 L49.1,68.4 L49.2,66.3 L49.2,66.3 L49.3,66.4 L49.3,69.0 L49.4,71.7 L49.4,74.3 L49.5,76.9 L49.5,79.5 L49.6,82.2 L49.6,84.8 L49.7,87.4 L49.7,90.0 L49.8,92.7 L49.8,95.3 L49.8,97.9 L49.9,100.6 L49.9,103.2 L50.0,105.8 L50.0,108.4 L50.1,111.1 L50.1,113.7 L50.2,116.3 L50.2,118.9 L50.3,121.6 L50.3,124.2 L50.4,126.8 L50.4,129.5 L50.4,132.1 L50.5,134.7 L50.5,137.3 L50.6,140.0 L50.6,142.6 L50.7,145.2 L50.7,147.8 L50.8,150.5 L50.8,152.1 L50.9,149.2 L50.9,146.3 L51.0,143.4 L51.0,140.5 L51.1,137.6 L51.1,134.8 L51.1,131.9 L51.2,129.0 L51.2,126.1 L51.3,123.2 L51.3,120.4 L51.4,117.5 L51.4,114.6 L51.5,111.7 L51.5,108.8 L51.6,105.9 L51.6,103.1 L51.7,100.2 L51.7,97.8 L51.7,97.8 L51.8,98.3 L51.8,101.0 L51.9,103.7 L51.9,106.4 L52.0,109.1 L52.0,111.9 L52.1,114.6 L52.1,117.3 L52.2,120.0 L52.2,122.7 L52.3,125.5 L52.3,128.2 L52.4,130.9 L52.4,133.6 L52.4,136.3 L52.5,139.1 L52.5,141.8 L52.6,144.5 L52.6,147.2 L52.7,149.9 L52.7,148.9 L52.8,146.3 L52.8,143.8 L52.9,141.2 L52.9,138.7 L53.0,136.1 L53.0,133.6 L53.0,131.0 L53.1,128.5 L53.1,126.0 L53.2,123.4 L53.2,120.9 L53.3,118.3 L53.3,115.8 L53.4,113.2 L53.4,110.7 L53.5,108.1 L53.5,105.6 L53.6,103.1 L53.6,100.5 L53.6,98.0 L53.7,95.4 L53.7,92.9 L53.8,90.3 L53.8,87.8 L53.9,85.3 L53.9,82.7 L54.0,80.2 L54.0,77.6 L54.1,75.1 L54.1,73.7 L54.2,73.7 L54.2,75.2 L54.3,78.7 L54.3,82.2 L54.3,85.7 L54.4,89.2 L54.4,92.6 L54.5,96.1 L54.5,99.6 L54.6,103.1 L54.6,106.6 L54.7,110.1 L54.7,113.5 L54.8,117.0 L54.8,120.5 L54.9,124.0 L54.9,127.5 L54.9,130.9 L55.0,134.4 L55.0,137.9 L55.1,141.4 L55.1,144.9 L55.2,148.0 L55.2,144.6 L55.3,141.2 L55.3,137.8 L55.4,134.4 L55.4,131.0 L55.5,127.6 L55.5,124.1 L55.6,120.7 L55.6,117.3 L55.6,113.9 L55.7,110.5 L55.7,107.1 L55.8,103.7 L55.8,100.2 L55.9,96.8 L55.9,93.4 L56.0,90.0 L56.0,86.6 L56.1,83.2 L56.1,79.8 L56.2,76.3 L56.2,72.9 L56.2,69.5 L56.3,66.1 L56.3,62.7 L56.4,59.3 L56.4,58.9 L56.5,58.9 L56.5,61.0 L56.6,63.5 L56.6,65.9 L56.7,68.4 L56.7,70.8 L56.8,73.3 L56.8,75.7 L56.9,78.2 L56.9,80.6 L56.9,83.1 L57.0,85.5 L57.0,88.0 L57.1,90.4 L57.1,92.9 L57.2,95.3 L57.2,97.8 L57.3,100.2 L57.3,102.7 L57.4,105.1 L57.4,107.6 L57.5,110.0 L57.5,112.5 L57.5,114.9 L57.6,117.4 L57.6,119.8 L57.7,122.3 L57.7,124.7 L57.8,127.2 L57.8,129.6 L57.9,132.1 L57.9,134.5 L58.0,137.0 L58.0,139.4 L58.1,141.9 L58.1,144.3 L58.2,146.8 L58.2,149.2 L58.2,150.2 L58.3,147.7 L58.3,145.3 L58.4,142.9 L58.4,140.5 L58.5,138.0 L58.5,135.6 L58.6,133.2 L58.6,130.8 L58.7,128.4 L58.7,125.9 L58.8,123.5 L58.8,121.1 L58.8,118.7 L58.9,116.2 L58.9,113.8 L59.0,111.4 L59.0,109.0 L59.1,106.6 L59.1,104.1 L59.2,101.7 L59.2,99.3 L59.3,96.9 L59.3,94.5 L59.4,92.0 L59.4,89.6 L59.4,87.2 L59.5,84.8 L59.5,82.3 L59.6,79.9 L59.6,77.5 L59.7,75.1 L59.7,72.7 L59.8,70.2 L59.8,67.8 L59.9,65.4 L59.9,63.0 L60.0,60.6 L60.0,58.1 L60.1,55.7 L60.1,53.3 L60.1,50.9 L60.2,48.4 L60.2,48.4 L60.3,48.4 L60.3,51.0 L60.4,53.7 L60.4,56.4 L60.5,59.1 L60.5,61.8 L60.6,64.4 L60.6,67.1 L60.7,69.8 L60.7,72.5 L60.7,75.2 L60.8,77.9 L60.8,80.5 L60.9,83.2 L60.9,85.9 L61.0,88.6 L61.0,91.3 L61.1,94.0 L61.1,96.6 L61.2,99.3 L61.2,102.0 L61.3,104.7 L61.3,107.4 L61.4,110.1 L61.4,112.7 L61.4,115.4 L61.5,118.1 L61.5,120.8 L61.6,123.5 L61.6,126.2 L61.7,128.8 L61.7,131.5 L61.8,134.2 L61.8,136.9 L61.9,139.6 L61.9,142.2 L62.0,144.9 L62.0,147.6 L62.0,149.3 L62.1,146.6 L62.1,143.9 L62.2,141.2 L62.2,138.5 L62.3,135.9 L62.3,133.2 L62.4,130.5 L62.4,127.8 L62.5,125.1 L62.5,122.5 L62.6,119.8 L62.6,117.1 L62.7,114.4 L62.7,111.7 L62.7,109.0 L62.8,106.4 L62.8,103.7 L62.9,101.0 L62.9,98.3 L63.0,95.6 L63.0,92.9 L63.1,90.3 L63.1,87.6 L63.2,84.9 L63.2,82.2 L63.3,79.5 L63.3,76.8 L63.3,74.2 L63.4,71.5 L63.4,68.8 L63.5,66.1 L63.5,63.4 L63.6,60.7 L63.6,58.1 L63.7,55.4 L63.7,52.7 L63.8,50.0 L63.8,48.4 L63.9,48.4 L63.9,49.3 L64.0,51.6 L64.0,53.9 L64.0,56.1 L64.1,58.4 L64.1,60.7 L64.2,63.0 L64.2,65.2 L64.3,67.5 L64.3,69.8 L64.4,72.1 L64.4,74.3 L64.5,76.6 L64.5,78.9 L64.6,81.2 L64.6,83.4 L64.6,85.7 L64.7,88.0 L64.7,90.3 L64.8,92.5 L64.8,94.8 L64.9,97.1 L64.9,99.4 L65.0,101.6 L65.0,103.9 L65.1,106.2 L65.1,108.5 L65.2,110.7 L65.2,113.0 L65.2,115.3 L65.3,117.6 L65.3,119.8 L65.4,122.1 L65.4,124.4 L65.5,126.7 L65.5,128.9 L65.6,131.2 L65.6,133.5 L65.7,135.8 L65.7,138.0 L65.8,140.3 L65.8,142.6 L65.9,144.9 L65.9,147.1 L65.9,149.4 L66.0,149.8 L66.0,147.4 L66.1,145.0 L66.1,142.6 L66.2,140.2 L66.2,137.8 L66.3,135.4 L66.3,133.0 L66.4,130.6 L66.4,128.2 L66.5,125.8 L66.5,123.4 L66.5,121.0 L66.6,118.6 L66.6,116.3 L66.7,113.9 L66.7,111.5 L66.8,109.1 L66.8,106.7 L66.9,104.3 L66.9,101.9 L67.0,99.5 L67.0,97.1 L67.1,94.7 L67.1,92.3 L67.2,89.9 L67.2,87.5 L67.2,85.1 L67.3,82.7 L67.3,82.6 L67.4,82.6 L67.4,85.1 L67.5,87.6 L67.5,90.2 L67.6,92.8 L67.6,95.3 L67.7,97.9 L67.7,100.4 L67.8,103.0 L67.8,105.6 L67.8,108.1 L67.9,110.7 L67.9,113.3 L68.0,115.8 L68.0,118.4 L68.1,120.9 L68.1,123.5 L68.2,126.1 L68.2,128.6 L68.3,131.2 L68.3,133.8 L68.4,136.3 L68.4,138.9 L68.5,141.4 L68.5,144.0 L68.5,146.6 L68.6,149.1 L68.6,147.8 L68.7,145.4 L68.7,142.9 L68.8,140.5 L68.8,138.0 L68.9,135.6 L68.9,133.1 L69.0,130.6 L69.0,128.2 L69.1,125.7 L69.1,123.3 L69.1,120.8 L69.2,118.4 L69.2,115.9 L69.3,113.4 L69.3,111.0 L69.4,108.5 L69.4,106.1 L69.5,103.6 L69.5,101.2 L69.6,98.7 L69.6,96.2 L69.7,93.8 L69.7,91.3 L69.8,88.9 L69.8,86.4 L69.8,84.0 L69.9,81.5 L69.9,79.0 L70.0,76.6 L70.0,74.1 L70.1,71.7 L70.1,69.2 L70.2,66.8 L70.2,64.3 L70.3,61.8 L70.3,59.4 L70.4,56.9 L70.4,54.9 L70.4,54.9 L70.5,55.4 L70.5,58.8 L70.6,62.2 L70.6,65.7 L70.7,69.1 L70.7,72.5 L70.8,75.9 L70.8,79.4 L70.9,82.8 L70.9,86.2 L71.0,89.6 L71.0,93.0 L71.0,96.5 L71.1,99.9 L71.1,103.3 L71.2,106.7 L71.2,110.2 L71.3,113.6 L71.3,117.0 L71.4,120.4 L71.4,123.9 L71.5,127.3 L71.5,130.7 L71.6,134.1 L71.6,137.6 L71.7,141.0 L71.7,144.4 L71.7,147.8 L71.8,151.2 L71.8,153.7 L71.9,149.9 L71.9,146.1 L72.0,142.3 L72.0,138.5 L72.1,134.8 L72.1,131.0 L72.2,127.2 L72.2,123.4 L72.3,119.6 L72.3,115.8 L72.3,112.0 L72.4,108.2 L72.4,104.4 L72.5,100.7 L72.5,96.9 L72.6,93.1 L72.6,92.1 L72.7,92.1 L72.7,95.2 L72.8,99.3 L72.8,103.4 L72.9,107.6 L72.9,111.7 L73.0,115.8 L73.0,120.0 L73.0,124.1 L73.1,128.2 L73.1,132.4 L73.2,136.5 L73.2,140.6 L73.3,144.8 L73.3,148.9 L73.4,153.0 L73.4,150.3 L73.5,146.6 L73.5,142.9 L73.6,139.2 L73.6,135.5 L73.6,131.8 L73.7,128.1 L73.7,124.4 L73.8,120.7 L73.8,117.0 L73.9,113.3 L73.9,109.6 L74.0,105.9 L74.0,102.2 L74.1,98.5 L74.1,94.8 L74.2,91.1 L74.2,87.4 L74.3,83.7 L74.3,79.9 L74.3,76.2 L74.4,72.5 L74.4,68.8 L74.5,65.1 L74.5,61.4 L74.6,57.7 L74.6,54.0 L74.7,50.3 L74.7,48.4 L74.8,48.4 L74.8,48.9 L74.9,49.8 L74.9,50.8 L74.9,51.7 L75.0,52.7 L75.0,53.7 L75.1,54.6 L75.1,55.6 L75.2,56.5 L75.2,57.5 L75.3,58.5 L75.3,59.4 L75.4,60.4 L75.4,61.4 L75.5,62.3 L75.5,63.3 L75.6,62.8 L75.6,61.6 L75.6,60.4 L75.7,59.2 L75.7,58.0 L75.8,56.8 L75.8,55.6 L75.9,54.4 L75.9,53.2 L76.0,52.0 L76.0,50.8 L76.1,49.6 L76.1,48.4 L76.2,47.2 L76.2,46.0 L76.2,44.8 L76.3,43.7 L76.3,43.7 L76.4,43.7 L76.4,46.7 L76.5,49.7 L76.5,52.8 L76.6,55.8 L76.6,58.9 L76.7,61.9 L76.7,65.0 L76.8,68.0 L76.8,71.1 L76.8,74.1 L76.9,77.2 L76.9,80.2 L77.0,83.3 L77.0,86.3 L77.1,89.3 L77.1,92.4 L77.2,95.4 L77.2,98.5 L77.3,101.5 L77.3,104.6 L77.4,107.6 L77.4,110.7 L77.5,113.7 L77.5,116.8 L77.5,119.8 L77.6,122.9 L77.6,125.9 L77.7,128.9 L77.7,132.0 L77.8,135.0 L77.8,138.1 L77.9,141.1 L77.9,144.2 L78.0,147.2 L78.0,148.1 L78.1,144.9 L78.1,141.6 L78.1,138.4 L78.2,135.2 L78.2,131.9 L78.3,128.7 L78.3,125.4 L78.4,122.2 L78.4,118.9 L78.5,115.7 L78.5,112.5 L78.6,109.2 L78.6,106.0 L78.7,102.7 L78.7,99.5 L78.8,96.2 L78.8,93.0 L78.8,89.8 L78.9,86.5 L78.9,86.4 L79.0,86.4 L79.0,90.0 L79.1,93.7 L79.1,97.4 L79.2,101.1 L79.2,104.8 L79.3,108.5 L79.3,112.3 L79.4,116.0 L79.4,119.7 L79.4,123.4 L79.5,127.1 L79.5,130.8 L79.6,134.5 L79.6,138.2 L79.7,142.0 L79.7,145.7 L79.8,149.4 L79.8,150.4 L79.9,146.9 L79.9,143.5 L80.0,140.1 L80.0,136.6 L80.1,133.2 L80.1,129.7 L80.1,126.3 L80.2,122.8 L80.2,119.4 L80.3,115.9 L80.3,112.5 L80.4,109.0 L80.4,105.6 L80.5,102.2 L80.5,98.7 L80.6,95.3 L80.6,91.8 L80.7,88.4 L80.7,84.9 L80.7,81.5 L80.8,78.0 L80.8,74.6 L80.9,71.2 L80.9,67.7 L81.0,64.3 L81.0,60.8 L81.1,57.4 L81.1,53.9 L81.2,50.5 L81.2,48.4 L81.3,48.4 L81.3,49.7 L81.4,53.0 L81.4,56.3 L81.4,59.6 L81.5,62.9 L81.5,66.2 L81.6,69.5 L81.6,72.8 L81.7,76.1 L81.7,79.4 L81.8,82.7 L81.8,86.0 L81.9,89.3 L81.9,92.6 L82.0,95.9 L82.0,99.2 L82.0,102.5 L82.1,105.8 L82.1,109.1 L82.2,112.4 L82.2,115.7 L82.3,119.0 L82.3,122.3 L82.4,125.7 L82.4,129.0 L82.5,132.3 L82.5,135.6 L82.6,138.9 L82.6,142.2 L82.6,145.5 L82.7,148.8 L82.7,145.7 L82.8,142.3 L82.8,139.0 L82.9,135.7 L82.9,132.3 L83.0,129.0 L83.0,125.7 L83.1,122.4 L83.1,119.0 L83.2,115.7 L83.2,112.4 L83.3,109.1 L83.3,105.7 L83.3,102.4 L83.4,99.1 L83.4,95.8 L83.5,92.4 L83.5,89.1 L83.6,85.8 L83.6,82.4 L83.7,79.1 L83.7,75.8 L83.8,72.5 L83.8,69.1 L83.9,65.8 L83.9,62.5 L83.9,59.2 L84.0,56.0 L84.0,56.0 L84.1,56.1 L84.1,58.6 L84.2,61.0 L84.2,63.4 L84.3,65.8 L84.3,68.3 L84.4,70.7 L84.4,73.1 L84.5,75.6 L84.5,78.0 L84.6,80.4 L84.6,82.8 L84.6,85.3 L84.7,87.7 L84.7,90.1 L84.8,92.6 L84.8,95.0 L84.9,97.4 L84.9,99.8 L85.0,102.3 L85.0,104.7 L85.1,107.1 L85.1,109.6 L85.2,112.0 L85.2,114.4 L85.2,116.8 L85.3,119.3 L85.3,121.7 L85.4,124.1 L85.4,126.6 L85.5,129.0 L85.5,131.4 L85.6,133.8 L85.6,136.3 L85.7,138.7 L85.7,141.1 L85.8,143.6 L85.8,146.0 L85.9,148.4 L85.9,150.2 L85.9,147.6 L86.0,145.0 L86.0,142.4 L86.1,139.7 L86.1,137.1 L86.2,134.5 L86.2,131.9 L86.3,129.3 L86.3,126.6 L86.4,124.0 L86.4,121.4 L86.5,118.8 L86.5,116.2 L86.5,113.5 L86.6,110.9 L86.6,108.3 L86.7,105.7 L86.7,103.0 L86.8,100.4 L86.8,97.8 L86.9,95.2 L86.9,94.0 L87.0,94.0 L87.0,95.2 L87.1,97.3 L87.1,99.3 L87.2,101.4 L87.2,103.5 L87.2,105.6 L87.3,107.7 L87.3,109.8 L87.4,111.9 L87.4,114.0 L87.5,116.1 L87.5,118.2 L87.6,120.3 L87.6,122.4 L87.7,124.5 L87.7,126.6 L87.8,128.7 L87.8,130.8 L87.8,132.9 L87.9,135.0 L87.9,137.1 L88.0,139.2 L88.0,141.3 L88.1,143.4 L88.1,145.5 L88.2,147.6 L88.2,149.6 L88.3,147.5 L88.3,145.5 L88.4,143.4 L88.4,141.4 L88.4,139.3 L88.5,137.3 L88.5,135.2 L88.6,133.2 L88.6,131.1 L88.7,129.1 L88.7,127.0 L88.8,125.0 L88.8,123.0 L88.9,120.9 L88.9,118.9 L89.0,116.8 L89.0,114.8 L89.1,112.7 L89.1,110.7 L89.1,108.6 L89.2,106.6 L89.2,104.5 L89.3,102.5 L89.3,100.4 L89.4,98.4 L89.4,96.4 L89.5,94.3 L89.5,92.3 L89.6,90.2 L89.6,88.2 L89.7,86.1 L89.7,84.5 L89.7,84.5 L89.8,85.2 L89.8,88.3 L89.9,91.5 L89.9,94.6 L90.0,97.8 L90.0,100.9 L90.1,104.1 L90.1,107.2 L90.2,110.4 L90.2,113.5 L90.3,116.7 L90.3,119.8 L90.4,123.0 L90.4,126.1 L90.4,129.3 L90.5,132.4 L90.5,135.6 L90.6,138.7 L90.6,141.9 L90.7,145.0 L90.7,148.2 L90.8,151.3 L90.8,150.6 L90.9,147.6 L90.9,144.6 L91.0,141.6 L91.0,138.6 L91.0,135.6 L91.1,132.6 L91.1,129.6 L91.2,126.6 L91.2,123.6 L91.3,120.6 L91.3,117.6 L91.4,114.6 L91.4,111.6 L91.5,108.7 L91.5,105.7 L91.6,102.7 L91.6,99.7 L91.7,96.7 L91.7,93.7 L91.7,90.7 L91.8,87.7 L91.8,84.7 L91.9,81.7 L91.9,78.7 L92.0,75.7 L92.0,72.7 L92.1,69.7 L92.1,66.7 L92.2,63.7 L92.2,61.7 L92.3,61.7 L92.3,62.4 L92.3,64.5 L92.4,66.7 L92.4,68.8 L92.5,71.0 L92.5,73.1 L92.6,75.3 L92.6,77.4 L92.7,79.5 L92.7,81.7 L92.8,83.8 L92.8,86.0 L92.9,88.1 L92.9,90.2 L93.0,92.4 L93.0,94.5 L93.0,96.7 L93.1,98.8 L93.1,100.9 L93.2,103.1 L93.2,105.2 L93.3,107.4 L93.3,109.5 L93.4,111.7 L93.4,113.8 L93.5,115.9 L93.5,118.1 L93.6,120.2 L93.6,122.4 L93.6,124.5 L93.7,126.6 L93.7,128.8 L93.8,130.9 L93.8,133.1 L93.9,135.2 L93.9,137.4 L94.0,139.5 L94.0,141.6 L94.1,143.8 L94.1,145.9 L94.2,148.1 L94.2,149.3 L94.2,147.2 L94.3,145.0 L94.3,142.9 L94.4,140.7 L94.4,138.6 L94.5,136.4 L94.5,134.3 L94.6,132.1 L94.6,129.9 L94.7,127.8 L94.7,125.6 L94.8,123.5 L94.8,121.3 L94.9,119.2 L94.9,117.0 L94.9,114.9 L95.0,112.7 L95.0,110.6 L95.1,108.4 L95.1,106.3 L95.2,104.1 L95.2,101.9 L95.3,99.8 L95.3,97.6 L95.4,95.5 L95.4,93.3 L95.5,91.2 L95.5,89.0 L95.5,86.9 L95.6,84.7 L95.6,82.6 L95.7,80.4 L95.7,78.3 L95.8,76.1 L95.8,73.9 L95.9,71.8 L95.9,69.6 L96.0,67.5 L96.0,66.3 L96.1,66.3 L96.1,67.4 L96.2,69.9 L96.2,72.5 L96.2,75.1 L96.3,77.6 L96.3,80.2 L96.4,82.8 L96.4,85.3 L96.5,87.9 L96.5,90.5 L96.6,93.0 L96.6,95.6 L96.7,98.2 L96.7,100.7 L96.8,103.3 L96.8,105.9 L96.8,108.4 L96.9,111.0 L96.9,113.6 L97.0,116.1 L97.0,118.7 L97.1,121.3 L97.1,123.8 L97.2,126.4 L97.2,129.0 L97.3,131.5 L97.3,134.1 L97.4,136.7 L97.4,139.2 L97.5,141.8 L97.5,144.4 L97.5,146.9 L97.6,149.5 L97.6,149.0 L97.7,146.3 L97.7,143.5 L97.8,140.7 L97.8,137.9 L97.9,135.1 L97.9,132.4 L98.0,129.6 L98.0,126.8 L98.1,124.0 L98.1,121.3 L98.1,118.5 L98.2,115.7 L98.2,112.9 L98.3,110.2 L98.3,107.4 L98.4,104.6 L98.4,101.8 L98.5,99.0 L98.5,97.8 L98.6,97.8 L98.6,99.4 L98.7,102.2 L98.7,105.1 L98.8,107.9 L98.8,110.7 L98.8,113.6 L98.9,116.4 L98.9,119.3 L99.0,122.1 L99.0,124.9 L99.1,127.8 L99.1,130.6 L99.2,133.5 L99.2,136.3 L99.3,139.2 L99.3,142.0 L99.4,144.8 L99.4,147.7 L99.4,150.5 L99.5,152.8 L99.5,150.2 L99.6,147.6 L99.6,144.9 L99.7,142.3 L99.7,139.7 L99.8,137.1 L99.8,134.5 L99.9,131.8 L99.9,129.2 L100.0,126.6 L100.0,124.0 L100.0,121.3 L100.1,118.7 L100.1,116.1 L100.2,113.5 L100.2,110.8 L100.3,108.2 L100.3,105.6 L100.4,103.0 L100.4,100.4 L100.5,97.7 L100.5,95.1 L100.6,92.5 L100.6,89.9 L100.7,87.2 L100.7,84.6 L100.7,82.0 L100.8,79.4 L100.8,76.7 L100.9,74.1 L100.9,73.7 L101.0,73.7 L101.0,76.6 L101.1,80.2 L101.1,83.8 L101.2,87.4 L101.2,90.9 L101.3,94.5 L101.3,98.1 L101.3,101.6 L101.4,105.2 L101.4,108.8 L101.5,112.4 L101.5,115.9 L101.6,119.5 L101.6,123.1 L101.7,126.7 L101.7,130.2 L101.8,133.8 L101.8,137.4 L101.9,141.0 L101.9,144.5 L102.0,148.1 L102.0,148.7 L102.0,145.2 L102.1,141.7 L102.1,138.2 L102.2,134.7 L102.2,131.2 L102.3,127.8 L102.3,124.3 L102.4,120.8 L102.4,117.3 L102.5,113.8 L102.5,110.3 L102.6,106.8 L102.6,103.3 L102.6,99.8 L102.7,96.3 L102.7,92.8 L102.8,89.4 L102.8,85.9 L102.9,82.4 L102.9,78.9 L103.0,75.4 L103.0,71.9 L103.1,68.4 L103.1,64.9 L103.2,61.4 L103.2,58.9 L103.3,58.9 L103.3,59.5 L103.3,62.1 L103.4,64.6 L103.4,67.2 L103.5,69.7 L103.5,72.3 L103.6,74.8 L103.6,77.4 L103.7,80.0 L103.7,82.5 L103.8,85.1 L103.8,87.6 L103.9,90.2 L103.9,92.7 L103.9,95.3 L104.0,97.8 L104.0,100.4 L104.1,103.0 L104.1,105.5 L104.2,108.1 L104.2,110.6 L104.3,113.2 L104.3,115.7 L104.4,118.3 L104.4,120.9 L104.5,123.4 L104.5,126.0 L104.6,128.5 L104.6,131.1 L104.6,133.6 L104.7,136.2 L104.7,138.7 L104.8,141.3 L104.8,143.9 L104.9,146.4 L104.9,149.0 L105.0,151.5 L105.0,154.1 L105.1,153.1 L105.1,150.6 L105.2,148.1 L105.2,145.6 L105.2,143.1 L105.3,140.5 L105.3,138.0 L105.4,135.5 L105.4,133.0 L105.5,130.5 L105.5,128.0 L105.6,125.5 L105.6,122.9 L105.7,120.4 L105.7,117.9 L105.8,115.4 L105.8,112.9 L105.8,110.4 L105.9,107.8 L105.9,105.3 L106.0,102.8 L106.0,100.3 L106.1,97.8 L106.1,95.3 L106.2,92.8 L106.2,90.2 L106.3,87.7 L106.3,85.2 L106.4,82.7 L106.4,80.2 L106.5,77.7 L106.5,75.2 L106.5,72.6 L106.6,70.1 L106.6,67.6 L106.7,65.1 L106.7,62.6 L106.8,60.1 L106.8,57.5 L106.9,55.0 L106.9,52.5 L107.0,50.0 L107.0,48.4 L107.1,48.4 L107.1,49.4 L107.1,52.0 L107.2,54.6 L107.2,57.3 L107.3,59.9 L107.3,62.5 L107.4,65.2 L107.4,67.8 L107.5,70.4 L107.5,73.1 L107.6,75.7 L107.6,78.3 L107.7,81.0 L107.7,83.6 L107.8,86.2 L107.8,88.9 L107.8,91.5 L107.9,94.1 L107.9,96.8 L108.0,99.4 L108.0,102.0 L108.1,104.7 L108.1,107.3 L108.2,109.9 L108.2,112.6 L108.3,115.2 L108.3,117.8 L108.4,120.5 L108.4,123.1 L108.4,125.8 L108.5,128.4 L108.5,131.0 L108.6,133.7 L108.6,136.3 L108.7,138.9 L108.7,141.6 L108.8,144.2 L108.8,146.8 L108.9,146.5 L108.9,143.8 L109.0,141.2 L109.0,138.6 L109.1,135.9 L109.1,133.3 L109.1,130.7 L109.2,128.0 L109.2,125.4 L109.3,122.8 L109.3,120.1 L109.4,117.5 L109.4,114.9 L109.5,112.2 L109.5,109.6 L109.6,106.9 L109.6,104.3 L109.7,101.7 L109.7,99.0 L109.7,96.4 L109.8,93.8 L109.8,91.1 L109.9,88.5 L109.9,85.9 L110.0,83.2 L110.0,80.6 L110.1,78.0 L110.1,75.3 L110.2,72.7 L110.2,70.1 L110.3,67.4 L110.3,64.8 L110.4,62.2 L110.4,59.5 L110.4,56.9 L110.5,54.3 L110.5,51.6 L110.6,49.0 L110.6,48.4 L110.7,48.4 L110.7,50.2 L110.8,52.5 L110.8,54.9 L110.9,57.2 L110.9,59.5 L111.0,61.9 L111.0,64.2 L111.0,66.5 L111.1,68.9 L111.1,71.2 L111.2,73.5 L111.2,75.9 L111.3,78.2 L111.3,80.5 L111.4,82.8 L111.4,85.2 L111.5,87.5 L111.5,89.8 L111.6,92.2 L111.6,94.5 L111.6,96.8 L111.7,99.2 L111.7,101.5 L111.8,103.8 L111.8,106.2 L111.9,108.5 L111.9,110.8 L112.0,113.2 L112.0,115.5 L112.1,117.8 L112.1,120.1 L112.2,122.5 L112.2,124.8 L112.3,127.1 L112.3,129.5 L112.3,131.8 L112.4,134.1 L112.4,136.5 L112.5,138.8 L112.5,141.1 L112.6,143.5 L112.6,145.8 L112.7,148.1 L112.7,150.4 L112.8,152.8 L112.8,151.3 L112.9,148.9 L112.9,146.4 L112.9,143.9 L113.0,141.4 L113.0,138.9 L113.1,136.4 L113.1,133.9 L113.2,131.5 L113.2,129.0 L113.3,126.5 L113.3,124.0 L113.4,121.5 L113.4,119.0 L113.5,116.5 L113.5,114.1 L113.6,111.6 L113.6,109.1 L113.6,106.6 L113.7,104.1 L113.7,101.6 L113.8,99.1 L113.8,96.7 L113.9,94.2 L113.9,91.7 L114.0,89.2 L114.0,86.7 L114.1,84.2 L114.1,82.6 L114.2,82.6 L114.2,83.5 L114.2,86.1 L114.3,88.7 L114.3,91.2 L114.4,93.8 L114.4,96.4 L114.5,99.0 L114.5,101.6 L114.6,104.2 L114.6,106.7 L114.7,109.3 L114.7,111.9 L114.8,114.5 L114.8,117.1 L114.9,119.6 L114.9,122.2 L114.9,124.8 L115.0,127.4 L115.0,130.0 L115.1,132.6 L115.1,135.1 L115.2,137.7 L115.2,140.3 L115.3,142.9 L115.3,145.5 L115.4,148.1 L115.4,149.9 L115.5,147.4 L115.5,145.0 L115.5,142.5 L115.6,140.0 L115.6,137.6 L115.7,135.1 L115.7,132.6 L115.8,130.1 L115.8,127.7 L115.9,125.2 L115.9,122.7 L116.0,120.3 L116.0,117.8 L116.1,115.3 L116.1,112.8 L116.2,110.4 L116.2,107.9 L116.2,105.4 L116.3,103.0 L116.3,100.5 L116.4,98.0 L116.4,95.5 L116.5,93.1 L116.5,90.6 L116.6,88.1 L116.6,85.7 L116.7,83.2 L116.7,80.7 L116.8,78.2 L116.8,75.8 L116.8,73.3 L116.9,70.8 L116.9,68.4 L117.0,65.9 L117.0,63.4 L117.1,61.0 L117.1,58.5 L117.2,56.0 L117.2,54.9 L117.3,54.9 L117.3,56.6 L117.4,59.9 L117.4,63.2 L117.4,66.5 L117.5,69.8 L117.5,73.1 L117.6,76.4 L117.6,79.6 L117.7,82.9 L117.7,86.2 L117.8,89.5 L117.8,92.8 L117.9,96.1 L117.9,99.4 L118.0,102.7 L118.0,105.9 L118.1,109.2 L118.1,112.5 L118.1,115.8 L118.2,119.1 L118.2,122.4 L118.3,125.7 L118.3,129.0 L118.4,132.3 L118.4,135.5 L118.5,138.8 L118.5,142.1 L118.6,145.4 L118.6,148.7 L118.7,148.5 L118.7,144.9 L118.7,141.4 L118.8,137.8 L118.8,134.3 L118.9,130.7 L118.9,127.2 L119.0,123.6 L119.0,120.1 L119.1,116.5 L119.1,113.0 L119.2,109.4 L119.2,105.9 L119.3,102.3 L119.3,98.8 L119.4,95.2 L119.4,92.1 L119.4,92.1 L119.5,92.6 L119.5,96.6 L119.6,100.7 L119.6,104.7 L119.7,108.8 L119.7,112.8 L119.8,116.9 L119.8,120.9 L119.9,125.0 L119.9,129.0 L120.0,133.1 L120.0,137.1 L120.0,141.2 L120.1,145.2 L120.1,149.2 L120.2,151.4 L120.2,147.7 L120.3,144.0 L120.3,140.4 L120.4,136.7 L120.4,133.1 L120.5,129.4 L120.5,125.7 L120.6,122.1 L120.6,118.4 L120.7,114.8 L120.7,111.1 L120.7,107.4 L120.8,103.8 L120.8,100.1 L120.9,96.5 L120.9,92.8 L121.0,89.2 L121.0,85.5 L121.1,81.8 L121.1,78.2 L121.2,74.5 L121.2,70.9 L121.3,67.2 L121.3,63.5 L121.3,59.9 L121.4,56.2 L121.4,52.6 L121.5,48.9 L121.5,48.4 L121.6,48.4 L121.6,49.2 L121.7,50.2 L121.7,51.1 L121.8,52.1 L121.8,53.1 L121.9,54.0 L121.9,55.0 L122.0,56.0 L122.0,56.9 L122.0,57.9 L122.1,58.8 L122.1,59.8 L122.2,60.8 L122.2,61.7 L122.3,62.7 L122.3,63.6 L122.4,62.4 L122.4,61.2 L122.5,60.0 L122.5,58.8 L122.6,57.6 L122.6,56.4 L122.6,55.2 L122.7,54.0 L122.7,52.8 L122.8,51.6 L122.8,50.4 L122.9,49.2 L122.9,48.0 L123.0,46.8 L123.0,45.6 L123.1,44.4 L123.1,43.7 L123.2,43.7 L123.2,44.8 L123.2,47.9 L123.3,51.0 L123.3,54.1 L123.4,57.2 L123.4,60.3 L123.5,63.4 L123.5,66.6 L123.6,69.7 L123.6,72.8 L123.7,75.9 L123.7,79.0 L123.8,82.1 L123.8,85.2 L123.9,88.3 L123.9,91.4 L123.9,94.5 L124.0,97.6 L124.0,100.7 L124.1,103.8 L124.1,106.9 L124.2,110.0 L124.2,113.1 L124.3,116.2 L124.3,119.3 L124.4,122.4 L124.4,125.5 L124.5,128.6 L124.5,131.7 L124.5,134.8 L124.6,137.9 L124.6,141.0 L124.7,144.1 L124.7,147.2 L124.8,150.4 L124.8,148.8 L124.9,145.5 L124.9,142.1 L125.0,138.8 L125.0,135.4 L125.1,132.1 L125.1,128.7 L125.2,125.4 L125.2,122.0 L125.2,118.7 L125.3,115.4 L125.3,112.0 L125.4,108.7 L125.4,105.3 L125.5,102.0 L125.5,98.6 L125.6,95.3 L125.6,91.9 L125.7,88.6 L125.7,86.4 L125.8,86.4 L125.8,87.7 L125.8,91.3 L125.9,94.9 L125.9,98.5 L126.0,102.2 L126.0,105.8 L126.1,109.4 L126.1,113.0 L126.2,116.7 L126.2,120.3 L126.3,123.9 L126.3,127.5 L126.4,131.2 L126.4,134.8 L126.5,138.4 L126.5,142.1 L126.5,145.7 L126.6,149.3 L126.6,147.6 L126.7,144.2 L126.7,140.8 L126.8,137.4 L126.8,134.0 L126.9,130.6 L126.9,127.3 L127.0,123.9 L127.0,120.5 L127.1,117.1 L127.1,113.7 L127.1,110.3 L127.2,106.9 L127.2,103.5 L127.3,100.1 L127.3,96.7 L127.4,93.3 L127.4,89.9 L127.5,86.5 L127.5,83.1 L127.6,79.7 L127.6,76.3 L127.7,72.9 L127.7,69.5 L127.8,66.1 L127.8,62.7 L127.8,59.3 L127.9,56.0 L127.9,52.6 L128.0,49.2 L128.0,48.4 L128.1,48.4 L128.1,50.9 L128.2,54.1 L128.2,57.3 L128.3,60.5 L128.3,63.8 L128.4,67.0 L128.4,70.2 L128.4,73.4 L128.5,76.6 L128.5,79.8 L128.6,83.1 L128.6,86.3 L128.7,89.5 L128.7,92.7 L128.8,95.9 L128.8,99.1 L128.9,102.4 L128.9,105.6 L129.0,108.8 L129.0,112.0 L129.0,115.2 L129.1,118.4 L129.1,121.6 L129.2,124.9 L129.2,128.1 L129.3,131.3 L129.3,134.5 L129.4,137.7 L129.4,140.9 L129.5,144.2 L129.5,145.1 L129.6,141.9 L129.6,138.7 L129.7,135.4 L129.7,132.2 L129.7,129.0 L129.8,125.7 L129.8,122.5 L129.9,119.3 L129.9,116.0 L130.0,112.8 L130.0,109.6 L130.1,106.3 L130.1,103.1 L130.2,99.9 L130.2,96.6 L130.3,93.4 L130.3,90.2 L130.3,86.9 L130.4,83.7 L130.4,80.5 L130.5,77.2 L130.5,74.0 L130.6,70.8 L130.6,67.5 L130.7,64.3 L130.7,61.1 L130.8,57.8 L130.8,56.0 L130.9,56.0 L130.9,57.0 L131.0,59.3 L131.0,61.7 L131.0,64.0 L131.1,66.4 L131.1,68.7 L131.2,71.1 L131.2,73.4 L131.3,75.7 L131.3,78.1 L131.4,80.4 L131.4,82.8 L131.5,85.1 L131.5,87.4 L131.6,89.8 L131.6,92.1 L131.6,94.5 L131.7,96.8 L131.7,99.1 L131.8,101.5 L131.8,103.8 L131.9,106.2 L131.9,108.5 L132.0,110.8 L132.0,113.2 L132.1,115.5 L132.1,117.9 L132.2,120.2 L132.2,122.5 L132.3,124.9 L132.3,127.2 L132.3,129.6 L132.4,131.9 L132.4,134.3 L132.5,136.6 L132.5,138.9 L132.6,141.3 L132.6,143.6 L132.7,146.0 L132.7,145.9 L132.8,143.4 L132.8,141.0 L132.9,138.5 L132.9,136.0 L132.9,133.6 L133.0,131.1 L133.0,128.7 L133.1,126.2 L133.1,123.7 L133.2,121.3 L133.2,118.8 L133.3,116.3 L133.3,113.9 L133.4,111.4 L133.4,108.9 L133.5,106.5 L133.5,104.0 L133.6,101.6 L133.6,99.1 L133.6,96.6 L133.7,94.2 L133.7,94.0 L133.8,94.0 L133.8,96.1 L133.9,98.3 L133.9,100.5 L134.0,102.7 L134.0,105.0 L134.1,107.2 L134.1,109.4 L134.2,111.6 L134.2,113.9 L134.2,116.1 L134.3,118.3 L134.3,120.5 L134.4,122.8 L134.4,125.0 L134.5,127.2 L134.5,129.4 L134.6,131.7 L134.6,133.9 L134.7,136.1 L134.7,138.3 L134.8,140.5 L134.8,142.8 L134.8,145.0 L134.9,147.2 L134.9,149.4 L135.0,151.7 L135.0,152.1 L135.1,150.0 L135.1,147.8 L135.2,145.7 L135.2,143.5 L135.3,141.4 L135.3,139.2 L135.4,137.0 L135.4,134.9 L135.5,132.7 L135.5,130.6 L135.5,128.4 L135.6,126.3 L135.6,124.1 L135.7,122.0 L135.7,119.8 L135.8,117.7 L135.8,115.5 L135.9,113.4 L135.9,111.2 L136.0,109.1 L136.0,106.9 L136.1,104.8 L136.1,102.6 L136.1,100.5 L136.2,98.3 L136.2,96.2 L136.3,94.0 L136.3,91.8 L136.4,89.7 L136.4,87.5 L136.5,85.4 L136.5,84.5 L136.6,84.5 L136.6,86.3 L136.7,89.4 L136.7,92.5 L136.8,95.6 L136.8,98.7 L136.8,101.8 L136.9,104.9 L136.9,108.0 L137.0,111.1 L137.0,114.2 L137.1,117.2 L137.1,120.3 L137.2,123.4 L137.2,126.5 L137.3,129.6 L137.3,132.7 L137.4,135.8 L137.4,138.9 L137.4,142.0 L137.5,145.1 L137.5,148.2 L137.6,151.2 L137.6,148.2 L137.7,145.3 L137.7,142.3 L137.8,139.4 L137.8,136.4 L137.9,133.5 L137.9,130.5 L138.0,127.6 L138.0,124.6 L138.1,121.6 L138.1,118.7 L138.1,115.7 L138.2,112.8 L138.2,109.8 L138.3,106.9 L138.3,103.9 L138.4,101.0 L138.4,98.0 L138.5,95.1 L138.5,92.1 L138.6,89.2 L138.6,86.2 L138.7,83.2 L138.7,80.3 L138.7,77.3 L138.8,74.4 L138.8,71.4 L138.9,68.5 L138.9,65.5 L139.0,62.6 L139.0,61.7 L139.1,61.7 L139.1,63.3 L139.2,65.5 L139.2,67.7 L139.3,69.9 L139.3,72.1 L139.4,74.4 L139.4,76.6 L139.4,78.8 L139.5,81.0 L139.5,83.2 L139.6,85.4 L139.6,87.7 L139.7,89.9 L139.7,92.1 L139.8,94.3 L139.8,96.5 L139.9,98.7 L139.9,101.0 L140.0,103.2 L140.0,105.4 L140.0,107.6 L140.1,109.8 L140.1,112.0 L140.2,114.3 L140.2,116.5 L140.3,118.7 L140.3,120.9 L140.4,123.1 L140.4,125.3 L140.5,127.6 L140.5,129.8 L140.6,132.0 L140.6,134.2 L140.6,136.4 L140.7,138.6 L140.7,140.9 L140.8,143.1 L140.8,145.3 L140.9,147.5 L140.9,149.7 L141.0,151.9 L141.0,151.6 L141.1,149.3 L141.1,147.1 L141.2,144.9 L141.2,142.6 L141.3,140.4 L141.3,138.2 L141.3,135.9 L141.4,133.7 L141.4,131.5 L141.5,129.2 L141.5,127.0 L141.6,124.8 L141.6,122.5 L141.7,120.3 L141.7,118.1 L141.8,115.8 L141.8,113.6 L141.9,111.4 L141.9,109.1 L141.9,106.9 L142.0,104.7 L142.0,102.4 L142.1,100.2 L142.1,98.0 L142.2,95.7 L142.2,93.5 L142.3,91.3 L142.3,89.0 L142.4,86.8 L142.4,84.6 L142.5,82.3 L142.5,80.1 L142.6,77.9 L142.6,75.6 L142.6,73.4 L142.7,71.2 L142.7,68.9 L142.8,66.7 L142.8,66.3 L142.9,66.3 L142.9,68.5 L143.0,71.2 L143.0,73.9 L143.1,76.6 L143.1,79.3 L143.2,82.0 L143.2,84.7 L143.2,87.4 L143.3,90.1 L143.3,92.8 L143.4,95.6 L143.4,98.3 L143.5,101.0 L143.5,103.7 L143.6,106.4 L143.6,109.1 L143.7,111.8 L143.7,114.5 L143.8,117.2 L143.8,120.0 L143.9,122.7 L143.9,125.4 L143.9,128.1 L144.0,130.8 L144.0,133.5 L144.1,136.2 L144.1,138.9 L144.2,141.6 L144.2,144.3 L144.3,147.1 L144.3,149.8 L144.4,152.5 L144.4,155.2 L144.5,152.5 L144.5,149.4 L144.5,146.4 L144.6,143.4 L144.6,140.4 L144.7,137.3 L144.7,134.3 L144.8,131.3 L144.8,128.3 L144.9,125.2 L144.9,122.2 L145.0,119.2 L145.0,116.2 L145.1,113.1 L145.1,110.1 L145.2,107.1 L145.2,104.1 L145.2,101.0 L145.3,98.0 L145.3,97.8 L145.4,97.8 L145.4,100.4 L145.5,103.3 L145.5,106.1 L145.6,108.9 L145.6,111.7 L145.7,114.6 L145.7,117.4 L145.8,120.2 L145.8,123.0 L145.8,125.8 L145.9,128.7 L145.9,131.5 L146.0,134.3 L146.0,137.1 L146.1,140.0 L146.1,142.8 L146.2,145.6 L146.2,148.4 L146.3,151.3 L146.3,151.5 L146.4,148.9 L146.4,146.3 L146.4,143.6 L146.5,141.0 L146.5,138.4 L146.6,135.8 L146.6,133.2 L146.7,130.6 L146.7,128.0 L146.8,125.4 L146.8,122.8 L146.9,120.1 L146.9,117.5 L147.0,114.9 L147.0,112.3 L147.1,109.7 L147.1,107.1 L147.1,104.5 L147.2,101.9 L147.2,99.2 L147.3,96.6 L147.3,94.0 L147.4,91.4 L147.4,88.8 L147.5,86.2 L147.5,83.6 L147.6,81.0 L147.6,78.4 L147.7,75.7 L147.7,73.7 L147.7,73.7 L147.8,74.4 L147.8,77.8 L147.9,81.2 L147.9,84.6 L148.0,88.0 L148.0,91.4 L148.1,94.9 L148.1,98.3 L148.2,101.7 L148.2,105.1 L148.3,108.5 L148.3,111.9 L148.4,115.4 L148.4,118.8 L148.4,122.2 L148.5,125.6 L148.5,129.0 L148.6,132.4 L148.6,135.8 L148.7,139.3 L148.7,142.7 L148.8,146.1 L148.8,144.1 L148.9,140.7 L148.9,137.3 L149.0,134.0 L149.0,130.6 L149.0,127.3 L149.1,123.9 L149.1,120.5 L149.2,117.2 L149.2,113.8 L149.3,110.5 L149.3,107.1 L149.4,103.7 L149.4,100.4 L149.5,97.0 L149.5,93.7 L149.6,90.3 L149.6,86.9 L149.7,83.6 L149.7,80.2 L149.7,76.9 L149.8,73.5 L149.8,70.1 L149.9,66.8 L149.9,63.4 L150.0,60.1 L150.0,58.9 L150.1,58.9 L150.1,60.4 L150.2,62.8 L150.2,65.2 L150.3,67.6 L150.3,70.0 L150.3,72.4 L150.4,74.8 L150.4,77.2 L150.5,79.6 L150.5,82.0 L150.6,84.4 L150.6,86.8 L150.7,89.2 L150.7,91.6 L150.8,94.1 L150.8,96.5 L150.9,98.9 L150.9,101.3 L151.0,103.7 L151.0,106.1 L151.0,108.5 L151.1,110.9 L151.1,113.3 L151.2,115.7 L151.2,118.1 L151.3,120.5 L151.3,122.9 L151.4,125.3 L151.4,127.7 L151.5,130.1 L151.5,132.5 L151.6,134.9 L151.6,137.3 L151.6,139.7 L151.7,142.1 L151.7,144.5 L151.8,147.0 L151.8,149.0 L151.9,146.6 L151.9,144.2 L152.0,141.9 L152.0,139.5 L152.1,137.1 L152.1,134.7 L152.2,132.3 L152.2,130.0 L152.2,127.6 L152.3,125.2 L152.3,122.8 L152.4,120.4 L152.4,118.1 L152.5,115.7 L152.5,113.3 L152.6,110.9 L152.6,108.5 L152.7,106.2 L152.7,103.8 L152.8,101.4 L152.8,99.0 L152.9,96.6 L152.9,94.3 L152.9,91.9 L153.0,89.5 L153.0,87.1 L153.1,84.7 L153.1,82.3 L153.2,80.0 L153.2,77.6 L153.3,75.2 L153.3,72.8 L153.4,70.4 L153.4,68.1 L153.5,65.7 L153.5,63.3 L153.5,60.9 L153.6,58.5 L153.6,56.2 L153.7,53.8 L153.7,51.4 L153.8,49.0 L153.8,48.4 L153.9,48.4 L153.9,50.4 L154.0,53.2 L154.0,55.9 L154.1,58.6 L154.1,61.4 L154.2,64.1 L154.2,66.9 L154.2,69.6 L154.3,72.3 L154.3,75.1 L154.4,77.8 L154.4,80.5 L154.5,83.3 L154.5,86.0 L154.6,88.8 L154.6,91.5 L154.7,94.2 L154.7,97.0 L154.8,99.7 L154.8,102.5 L154.8,105.2 L154.9,107.9 L154.9,110.7 L155.0,113.4 L155.0,116.1 L155.1,118.9 L155.1,121.6 L155.2,124.4 L155.2,127.1 L155.3,129.8 L155.3,132.6 L155.4,135.3 L155.4,138.0 L155.5,140.8 L155.5,143.5 L155.5,146.3 L155.6,149.0 L155.6,151.7 L155.7,149.3 L155.7,146.5 L155.8,143.8 L155.8,141.1 L155.9,138.3 L155.9,135.6 L156.0,132.9 L156.0,130.1 L156.1,127.4 L156.1,124.6 L156.1,121.9 L156.2,119.2 L156.2,116.4 L156.3,113.7 L156.3,111.0 L156.4,108.2 L156.4,105.5 L156.5,102.7 L156.5,100.0 L156.6,97.3 L156.6,94.5 L156.7,91.8 L156.7,89.0 L156.8,86.3 L156.8,83.6 L156.8,80.8 L156.9,78.1 L156.9,75.4 L157.0,72.6 L157.0,69.9 L157.1,67.1 L157.1,64.4 L157.2,61.7 L157.2,58.9 L157.3,56.2 L157.3,53.5 L157.4,50.7 L157.4,48.4 L157.4,48.4 L157.5,48.7 L157.5,51.0 L157.6,53.2 L157.6,55.4 L157.7,57.6 L157.7,59.9 L157.8,62.1 L157.8,64.3 L157.9,66.5 L157.9,68.8 L158.0,71.0 L158.0,73.2 L158.0,75.4 L158.1,77.7 L158.1,79.9 L158.2,82.1 L158.2,84.3 L158.3,86.6 L158.3,88.8 L158.4,91.0 L158.4,93.2 L158.5,95.5 L158.5,97.7 L158.6,99.9 L158.6,102.1 L158.7,104.4 L158.7,106.6 L158.7,108.8 L158.8,111.0 L158.8,113.3 L158.9,115.5 L158.9,117.7 L159.0,119.9 L159.0,122.1 L159.1,124.4 L159.1,126.6 L159.2,128.8 L159.2,131.0 L159.3,133.3 L159.3,135.5 L159.3,137.7 L159.4,139.9 L159.4,142.2 L159.5,144.4 L159.5,146.6 L159.6,148.1 L159.6,145.8 L159.7,143.5 L159.7,141.2 L159.8,138.8 L159.8,136.5 L159.9,134.2 L159.9,131.9 L160.0,129.6 L160.0,127.3 L160.0,124.9 L160.1,122.6 L160.1,120.3 L160.2,118.0 L160.2,115.7 L160.3,113.4 L160.3,111.0 L160.4,108.7 L160.4,106.4 L160.5,104.1 L160.5,101.8 L160.6,99.5 L160.6,97.1 L160.6,94.8 L160.7,92.5 L160.7,90.2 L160.8,87.9 L160.8,85.6 L160.9,83.2 L160.9,82.6 L161.0,82.6 L161.0,84.6 L161.1,87.4 L161.1,90.2 L161.2,93.0 L161.2,95.7 L161.3,98.5 L161.3,101.3 L161.3,104.1 L161.4,106.8 L161.4,109.6 L161.5,112.4 L161.5,115.2 L161.6,118.0 L161.6,120.7 L161.7,123.5 L161.7,126.3 L161.8,129.1 L161.8,131.9 L161.9,134.6 L161.9,137.4 L161.9,140.2 L162.0,143.0 L162.0,145.8 L162.1,148.5 L162.1,151.3 L162.2,154.1 L162.2,154.1 L162.3,151.4 L162.3,148.8 L162.4,146.2 L162.4,143.6 L162.5,141.0 L162.5,138.4 L162.6,135.8 L162.6,133.2 L162.6,130.6 L162.7,128.0 L162.7,125.4 L162.8,122.8 L162.8,120.2 L162.9,117.6 L162.9,115.0 L163.0,112.4 L163.0,109.8 L163.1,107.2 L163.1,104.6 L163.2,102.0 L163.2,99.4 L163.2,96.8 L163.3,94.2 L163.3,91.5 L163.4,88.9 L163.4,86.3 L163.5,83.7 L163.5,81.1 L163.6,78.5 L163.6,75.9 L163.7,73.3 L163.7,70.7 L163.8,68.1 L163.8,65.5 L163.8,62.9 L163.9,60.3 L163.9,57.7 L164.0,55.1 L164.0,54.9 L164.1,54.9 L164.1,58.0 L164.2,61.5 L164.2,64.9 L164.3,68.4 L164.3,71.9 L164.4,75.3 L164.4,78.8 L164.5,82.2 L164.5,85.7 L164.5,89.1 L164.6,92.6 L164.6,96.1 L164.7,99.5 L164.7,103.0 L164.8,106.4 L164.8,109.9 L164.9,113.4 L164.9,116.8 L165.0,120.3 L165.0,123.7 L165.1,127.2 L165.1,130.7 L165.1,134.1 L165.2,137.6 L165.2,141.0 L165.3,144.5 L165.3,147.9 L165.4,151.4 L165.4,154.9 L165.5,151.8 L165.5,147.9 L165.6,144.1 L165.6,140.2 L165.7,136.4 L165.7,132.5 L165.8,128.7 L165.8,124.8 L165.8,121.0 L165.9,117.1 L165.9,113.3 L166.0,109.4 L166.0,105.6 L166.1,101.7 L166.1,97.9 L166.2,94.0 L166.2,92.1 L166.3,92.1 L166.3,94.2 L166.4,98.4 L166.4,102.6 L166.4,106.7 L166.5,110.9 L166.5,115.1 L166.6,119.3 L166.6,123.5 L166.7,127.7 L166.7,131.8 L166.8,136.0 L166.8,140.2 L166.9,144.4 L166.9,148.6 L167.0,152.8 L167.0,152.0 L167.1,148.2 L167.1,144.5 L167.1,140.8 L167.2,137.0 L167.2,133.3 L167.3,129.6 L167.3,125.8 L167.4,122.1 L167.4,118.4 L167.5,114.7 L167.5,110.9 L167.6,107.2 L167.6,103.5 L167.7,99.7 L167.7,96.0 L167.7,92.3 L167.8,88.5 L167.8,84.8 L167.9,81.1 L167.9,77.3 L168.0,73.6 L168.0,69.9 L168.1,66.2 L168.1,62.4 L168.2,58.7 L168.2,55.0 L168.3,51.2 L168.3,48.4 L168.4,48.4 L168.4,48.6 L168.4,49.6 L168.5,50.6 L168.5,51.5 L168.6,52.5 L168.6,53.4 L168.7,54.4 L168.7,55.4 L168.8,56.3 L168.8,57.3 L168.9,58.2 L168.9,59.2 L169.0,60.2 L169.0,61.1 L169.0,62.1 L169.1,63.0 L169.1,63.1 L169.2,61.9 L169.2,60.7 L169.3,59.5 L169.3,58.3 L169.4,57.1 L169.4,55.9 L169.5,54.7 L169.5,53.5 L169.6,52.3 L169.6,51.1 L169.6,49.9 L169.7,48.7 L169.7,47.5 L169.8,46.3 L169.8,45.1 L169.9,43.9 L169.9,43.7 L170.0,43.7 L170.0,46.0 L170.1,49.1 L170.1,52.2 L170.2,55.3 L170.2,58.4 L170.3,61.4 L170.3,64.5 L170.3,67.6 L170.4,70.7 L170.4,73.8 L170.5,76.9 L170.5,80.0 L170.6,83.1 L170.6,86.2 L170.7,89.3 L170.7,92.3 L170.8,95.4 L170.8,98.5 L170.9,101.6 L170.9,104.7 L170.9,107.8 L171.0,110.9 L171.0,114.0 L171.1,117.1 L171.1,120.1 L171.2,123.2 L171.2,126.3 L171.3,129.4 L171.3,132.5 L171.4,135.6 L171.4,138.7 L171.5,141.8 L171.5,144.9 L171.6,148.0 L171.6,150.4 L171.6,147.1 L171.7,143.8 L171.7,140.4 L171.8,137.1 L171.8,133.8 L171.9,130.5 L171.9,127.2 L172.0,123.8 L172.0,120.5 L172.1,117.2 L172.1,113.9 L172.2,110.6 L172.2,107.2 L172.2,103.9 L172.3,100.6 L172.3,97.3 L172.4,94.0 L172.4,90.6 L172.5,87.3 L172.5,86.4 L172.6,86.4 L172.6,89.2 L172.7,93.1 L172.7,96.9 L172.8,100.8 L172.8,104.6 L172.9,108.5 L172.9,112.3 L172.9,116.2 L173.0,120.1 L173.0,123.9 L173.1,127.8 L173.1,131.6 L173.2,135.5 L173.2,139.3 L173.3,143.2 L173.3,147.1 L173.4,150.9 L173.4,153.8 L173.5,150.2 L173.5,146.7 L173.5,143.2 L173.6,139.6 L173.6,136.1 L173.7,132.6 L173.7,129.1 L173.8,125.5 L173.8,122.0 L173.9,118.5 L173.9,114.9 L174.0,111.4 L174.0,107.9 L174.1,104.3 L174.1,100.8 L174.2,97.3 L174.2,93.7 L174.2,90.2 L174.3,86.7 L174.3,83.2 L174.4,79.6 L174.4,76.1 L174.5,72.6 L174.5,69.0 L174.6,65.5 L174.6,62.0 L174.7,58.4 L174.7,54.9 L174.8,51.4 L174.8,48.4 L174.8,48.4 L174.9,48.9 L174.9,52.2 L175.0,55.4 L175.0,58.7 L175.1,61.9 L175.1,65.2 L175.2,68.4 L175.2,71.7 L175.3,75.0 L175.3,78.2 L175.4,81.5 L175.4,84.7 L175.4,88.0 L175.5,91.2 L175.5,94.5 L175.6,97.8 L175.6,101.0 L175.7,104.3 L175.7,107.5 L175.8,110.8 L175.8,114.0 L175.9,117.3 L175.9,120.5 L176.0,123.8 L176.0,127.1 L176.1,130.3 L176.1,133.6 L176.1,136.8 L176.2,140.1 L176.2,143.3 L176.3,146.6 L176.3,145.1 L176.4,141.8 L176.4,138.6 L176.5,135.3 L176.5,132.0 L176.6,128.7 L176.6,125.5 L176.7,122.2 L176.7,118.9 L176.7,115.6 L176.8,112.3 L176.8,109.1 L176.9,105.8 L176.9,102.5 L177.0,99.2 L177.0,96.0 L177.1,92.7 L177.1,89.4 L177.2,86.1 L177.2,82.8 L177.3,79.6 L177.3,76.3 L177.4,73.0 L177.4,69.7 L177.4,66.5 L177.5,63.2 L177.5,59.9 L177.6,56.6 L177.6,56.0 L177.7,56.0 L177.7,57.9 L177.8,60.3 L177.8,62.7 L177.9,65.1 L177.9,67.5 L178.0,69.9 L178.0,72.3 L178.0,74.7 L178.1,77.1 L178.1,79.5 L178.2,81.9 L178.2,84.3 L178.3,86.7 L178.3,89.1 L178.4,91.4 L178.4,93.8 L178.5,96.2 L178.5,98.6 L178.6,101.0 L178.6,103.4 L178.7,105.8 L178.7,108.2 L178.7,110.6 L178.8,113.0 L178.8,115.4 L178.9,117.8 L178.9,120.2 L179.0,122.6 L179.0,125.0 L179.1,127.4 L179.1,129.7 L179.2,132.1 L179.2,134.5 L179.3,136.9 L179.3,139.3 L179.3,141.7 L179.4,144.1 L179.4,146.5" stroke="#ff0000" stroke-width="2.5" fill="none" stroke-dasharray="5.0 3.6" stroke-linejoin="round"/>
<path d="M12.40,156.90 v-1.6 M12.40,18.80 v1.6 M35.60,156.90 v-1.6 M35.60,18.80 v1.6 M58.80,156.90 v-1.6 M58.80,18.80 v1.6 M82.00,156.90 v-1.6 M82.00,18.80 v1.6 M105.20,156.90 v-1.6 M105.20,18.80 v1.6 M128.40,156.90 v-1.6 M128.40,18.80 v1.6 M151.60,156.90 v-1.6 M151.60,18.80 v1.6 M174.80,156.90 v-1.6 M174.80,18.80 v1.6 M12.40,143.40 h1.6 M179.70,143.40 h-1.6 M12.40,124.40 h1.6 M179.70,124.40 h-1.6 M12.40,105.40 h1.6 M179.70,105.40 h-1.6 M12.40,86.40 h1.6 M179.70,86.40 h-1.6 M12.40,67.40 h1.6 M179.70,67.40 h-1.6 M12.40,48.40 h1.6 M179.70,48.40 h-1.6 M12.40,29.40 h1.6 M179.70,29.40 h-1.6 " stroke="#4a4a4a" stroke-width="0.7" fill="none"/>
<rect x="12.40" y="18.80" width="167.30" height="138.10" fill="none" stroke="#4a4a4a" stroke-width="0.8"/>
<text transform="translate(11.20 145.30) scale(0.900 1)" font-size="5.30" text-anchor="end" fill="#3c3c3c">0</text>
<text transform="translate(11.20 126.30) scale(0.900 1)" font-size="5.30" text-anchor="end" fill="#3c3c3c">10</text>
<text transform="translate(11.20 107.30) scale(0.900 1)" font-size="5.30" text-anchor="end" fill="#3c3c3c">20</text>
<text transform="translate(11.20 88.30) scale(0.900 1)" font-size="5.30" text-anchor="end" fill="#3c3c3c">30</text>
<text transform="translate(11.20 69.30) scale(0.900 1)" font-size="5.30" text-anchor="end" fill="#3c3c3c">40</text>
<text transform="translate(11.20 50.30) scale(0.900 1)" font-size="5.30" text-anchor="end" fill="#3c3c3c">50</text>
<text transform="translate(11.20 31.30) scale(0.900 1)" font-size="5.30" text-anchor="end" fill="#3c3c3c">60</text>
<text transform="translate(95.90 15.00) scale(0.926 1)" font-size="6.60" text-anchor="middle" fill="#202020">Velocity (km/h)</text></g>
<g><path d="M217.95,18.80 V156.90 M240.90,18.80 V156.90 M263.85,18.80 V156.90 M286.80,18.80 V156.90 M309.75,18.80 V156.90 M332.70,18.80 V156.90 M355.65,18.80 V156.90 " stroke="#808080" stroke-width="0.55" fill="none"/>
<path d="M195.00,153.20 H360.30 M195.00,133.15 H360.30 M195.00,113.10 H360.30 M195.00,93.05 H360.30 M195.00,73.00 H360.30 M195.00,52.95 H360.30 M195.00,32.90 H360.30 " stroke="#767676" stroke-width="0.6" fill="none"/>
<clipPath id="c_volt"><rect x="195.00" y="18.80" width="165.30" height="138.10"/></clipPath>
<path clip-path="url(#c_volt)" d="M195.0,34.1 L195.2,34.2 L195.5,34.2 L195.7,34.4 L195.9,34.5 L196.1,34.6 L196.4,34.7 L196.6,34.6 L196.8,34.6 L197.1,34.7 L197.3,34.8 L197.5,34.5 L197.8,34.3 L198.0,34.4 L198.2,34.4 L198.4,34.4 L198.7,34.4 L198.9,34.6 L199.1,34.9 L199.4,35.3 L199.6,35.6 L199.8,35.7 L200.0,35.7 L200.3,35.7 L200.5,36.2 L200.7,36.7 L201.0,37.0 L201.2,37.1 L201.4,36.9 L201.7,36.6 L201.9,36.7 L202.1,36.8 L202.3,36.7 L202.6,36.3 L202.8,35.8 L203.0,35.3 L203.3,35.0 L203.5,35.1 L203.7,35.3 L204.0,35.3 L204.2,35.5 L204.4,36.5 L204.6,37.6 L204.9,38.0 L205.1,37.9 L205.3,38.4 L205.6,39.5 L205.8,40.2 L206.0,40.4 L206.2,40.4 L206.5,40.6 L206.7,41.1 L206.9,41.7 L207.2,42.3 L207.4,42.6 L207.6,42.7 L207.9,42.5 L208.1,42.5 L208.3,42.4 L208.5,42.2 L208.8,42.0 L209.0,41.9 L209.2,42.2 L209.5,42.5 L209.7,42.6 L209.9,42.8 L210.1,43.3 L210.4,43.8 L210.6,43.8 L210.8,43.5 L211.1,43.4 L211.3,43.6 L211.5,43.8 L211.8,43.5 L212.0,43.0 L212.2,42.7 L212.4,42.9 L212.7,43.3 L212.9,43.6 L213.1,43.9 L213.4,44.5 L213.6,45.1 L213.8,45.7 L214.0,46.1 L214.3,46.5 L214.5,46.8 L214.7,46.9 L215.0,46.9 L215.2,47.0 L215.4,46.9 L215.7,46.8 L215.9,47.1 L216.1,47.6 L216.3,47.9 L216.6,48.3 L216.8,48.7 L217.0,48.9 L217.3,48.8 L217.5,48.5 L217.7,48.4 L217.9,48.2 L218.2,48.2 L218.4,48.4 L218.6,48.7 L218.9,49.0 L219.1,49.0 L219.3,48.7 L219.6,48.2 L219.8,47.7 L220.0,47.4 L220.2,47.3 L220.5,47.5 L220.7,47.6 L220.9,47.4 L221.2,47.0 L221.4,46.7 L221.6,46.9 L221.9,47.4 L222.1,48.1 L222.3,48.7 L222.5,48.8 L222.8,48.6 L223.0,48.4 L223.2,48.7 L223.5,49.6 L223.7,50.3 L223.9,50.4 L224.1,50.3 L224.4,50.5 L224.6,50.9 L224.8,51.1 L225.1,50.9 L225.3,50.5 L225.5,50.2 L225.8,50.3 L226.0,50.7 L226.2,50.9 L226.4,50.6 L226.7,50.4 L226.9,50.7 L227.1,51.1 L227.4,51.4 L227.6,51.8 L227.8,52.1 L228.0,52.2 L228.3,52.3 L228.5,53.0 L228.7,53.7 L229.0,54.1 L229.2,54.2 L229.4,54.2 L229.7,54.2 L229.9,54.1 L230.1,54.0 L230.3,54.1 L230.6,54.5 L230.8,55.0 L231.0,55.3 L231.3,55.4 L231.5,55.2 L231.7,55.0 L231.9,54.7 L232.2,54.2 L232.4,53.7 L232.6,53.6 L232.9,53.7 L233.1,53.6 L233.3,53.3 L233.6,53.2 L233.8,53.5 L234.0,54.1 L234.2,54.8 L234.5,55.4 L234.7,55.8 L234.9,55.7 L235.2,55.6 L235.4,55.8 L235.6,56.1 L235.9,56.1 L236.1,55.9 L236.3,55.6 L236.5,55.2 L236.8,54.8 L237.0,54.6 L237.2,54.6 L237.5,54.5 L237.7,54.6 L237.9,55.1 L238.1,55.8 L238.4,56.5 L238.6,57.0 L238.8,57.2 L239.1,57.1 L239.3,57.0 L239.5,56.9 L239.8,56.9 L240.0,56.8 L240.2,56.6 L240.4,56.4 L240.7,56.3 L240.9,56.2 L241.1,56.3 L241.4,56.7 L241.6,57.3 L241.8,57.8 L242.0,57.7 L242.3,57.8 L242.5,58.2 L242.7,58.3 L243.0,57.8 L243.2,57.5 L243.4,57.7 L243.7,58.3 L243.9,59.1 L244.1,60.1 L244.3,60.6 L244.6,60.8 L244.8,61.3 L245.0,62.1 L245.3,62.6 L245.5,62.4 L245.7,61.7 L245.9,61.1 L246.2,60.6 L246.4,60.4 L246.6,60.3 L246.9,60.4 L247.1,60.5 L247.3,60.6 L247.6,61.0 L247.8,61.5 L248.0,61.7 L248.2,61.6 L248.5,61.7 L248.7,62.1 L248.9,62.3 L249.2,62.0 L249.4,61.7 L249.6,61.7 L249.9,61.8 L250.1,62.0 L250.3,62.3 L250.5,62.6 L250.8,62.9 L251.0,63.2 L251.2,63.7 L251.5,64.1 L251.7,64.6 L251.9,65.1 L252.1,65.5 L252.4,65.7 L252.6,65.5 L252.8,65.3 L253.1,65.5 L253.3,65.8 L253.5,65.8 L253.8,65.9 L254.0,66.3 L254.2,66.6 L254.4,66.7 L254.7,66.8 L254.9,67.2 L255.1,67.5 L255.4,67.7 L255.6,67.9 L255.8,68.5 L256.0,68.9 L256.3,69.0 L256.5,68.9 L256.7,69.0 L257.0,69.5 L257.2,70.1 L257.4,70.2 L257.7,69.7 L257.9,69.6 L258.1,70.0 L258.3,70.2 L258.6,70.1 L258.8,69.6 L259.0,69.1 L259.3,69.2 L259.5,69.8 L259.7,70.5 L259.9,70.7 L260.2,70.7 L260.4,70.7 L260.6,70.8 L260.9,71.0 L261.1,71.2 L261.3,71.3 L261.6,71.7 L261.8,72.4 L262.0,73.3 L262.2,74.4 L262.5,75.2 L262.7,75.6 L262.9,75.7 L263.2,75.5 L263.4,75.3 L263.6,75.2 L263.9,74.9 L264.1,74.4 L264.3,74.0 L264.5,74.0 L264.8,74.3 L265.0,74.6 L265.2,74.9 L265.5,75.2 L265.7,75.3 L265.9,75.5 L266.1,76.0 L266.4,76.3 L266.6,76.2 L266.8,75.9 L267.1,76.1 L267.3,76.4 L267.5,76.4 L267.8,76.0 L268.0,75.7 L268.2,75.5 L268.4,75.4 L268.7,75.6 L268.9,75.8 L269.1,75.8 L269.4,75.6 L269.6,75.4 L269.8,75.4 L270.0,75.2 L270.3,75.4 L270.5,76.0 L270.7,76.7 L271.0,76.9 L271.2,76.8 L271.4,76.7 L271.7,77.1 L271.9,77.9 L272.1,78.6 L272.3,79.0 L272.6,79.3 L272.8,79.5 L273.0,79.7 L273.3,79.8 L273.5,79.8 L273.7,79.8 L273.9,79.7 L274.2,79.6 L274.4,79.3 L274.6,79.0 L274.9,79.0 L275.1,79.1 L275.3,79.2 L275.6,79.0 L275.8,78.9 L276.0,78.8 L276.2,78.8 L276.5,78.9 L276.7,79.2 L276.9,79.7 L277.2,80.2 L277.4,80.3 L277.6,80.3 L277.8,80.5 L278.1,80.8 L278.3,80.9 L278.5,80.9 L278.8,80.6 L279.0,80.2 L279.2,79.8 L279.5,79.9 L279.7,80.0 L279.9,79.8 L280.1,79.7 L280.4,80.0 L280.6,81.1 L280.8,82.6 L281.1,83.3 L281.3,83.2 L281.5,83.1 L281.8,82.9 L282.0,82.7 L282.2,82.6 L282.4,82.5 L282.7,82.7 L282.9,83.0 L283.1,83.2 L283.4,83.1 L283.6,82.8 L283.8,82.6 L284.0,82.5 L284.3,82.6 L284.5,82.5 L284.7,82.1 L285.0,82.0 L285.2,82.2 L285.4,82.5 L285.7,82.6 L285.9,82.7 L286.1,83.0 L286.3,83.5 L286.6,84.0 L286.8,84.5 L287.0,84.8 L287.3,84.7 L287.5,84.4 L287.7,84.6 L287.9,85.2 L288.2,85.9 L288.4,86.6 L288.6,87.2 L288.9,87.0 L289.1,86.3 L289.3,85.9 L289.6,85.8 L289.8,85.8 L290.0,85.8 L290.2,85.8 L290.5,86.1 L290.7,86.6 L290.9,87.1 L291.2,87.3 L291.4,87.5 L291.6,87.5 L291.8,87.4 L292.1,87.4 L292.3,87.8 L292.5,88.1 L292.8,88.2 L293.0,88.7 L293.2,89.3 L293.5,89.9 L293.7,90.4 L293.9,90.8 L294.1,90.9 L294.4,90.8 L294.6,90.7 L294.8,90.7 L295.1,90.6 L295.3,90.5 L295.5,90.2 L295.8,89.9 L296.0,89.8 L296.2,89.9 L296.4,89.9 L296.7,90.1 L296.9,90.4 L297.1,90.7 L297.4,91.1 L297.6,91.6 L297.8,92.4 L298.0,93.3 L298.3,93.7 L298.5,93.4 L298.7,92.9 L299.0,92.8 L299.2,92.9 L299.4,93.3 L299.7,93.8 L299.9,94.2 L300.1,94.3 L300.3,94.1 L300.6,94.0 L300.8,94.2 L301.0,94.8 L301.3,95.7 L301.5,96.5 L301.7,97.0 L301.9,97.3 L302.2,97.6 L302.4,98.1 L302.6,98.8 L302.9,99.3 L303.1,99.6 L303.3,99.6 L303.6,99.7 L303.8,100.2 L304.0,100.6 L304.2,100.6 L304.5,100.3 L304.7,100.0 L304.9,99.8 L305.2,99.7 L305.4,99.8 L305.6,99.8 L305.8,99.8 L306.1,100.0 L306.3,100.5 L306.5,101.2 L306.8,101.8 L307.0,102.6 L307.2,103.6 L307.5,104.5 L307.7,104.6 L307.9,104.3 L308.1,104.5 L308.4,105.1 L308.6,105.6 L308.8,106.1 L309.1,106.5 L309.3,106.6 L309.5,106.4 L309.8,106.2 L310.0,105.9 L310.2,105.6 L310.4,105.5 L310.7,105.4 L310.9,105.4 L311.1,105.4 L311.4,105.6 L311.6,106.1 L311.8,107.1 L312.0,108.1 L312.3,108.8 L312.5,109.3 L312.7,109.5 L313.0,109.5 L313.2,109.5 L313.4,109.1 L313.7,108.1 L313.9,106.8 L314.1,106.1 L314.3,106.3 L314.6,107.1 L314.8,107.4 L315.0,107.3 L315.3,107.3 L315.5,108.0 L315.7,109.0 L315.9,109.8 L316.2,109.9 L316.4,109.3 L316.6,108.7 L316.9,108.2 L317.1,107.7 L317.3,107.4 L317.6,107.4 L317.8,107.3 L318.0,106.9 L318.2,106.6 L318.5,106.8 L318.7,107.2 L318.9,106.9 L319.2,106.7 L319.4,107.3 L319.6,107.9 L319.8,108.1 L320.1,108.4 L320.3,109.0 L320.5,109.5 L320.8,109.9 L321.0,110.2 L321.2,110.5 L321.5,110.8 L321.7,111.1 L321.9,111.3 L322.1,111.1 L322.4,110.5 L322.6,110.2 L322.8,110.5 L323.1,111.0 L323.3,111.3 L323.5,111.4 L323.7,111.6 L324.0,112.1 L324.2,112.8 L324.4,113.0 L324.7,112.6 L324.9,112.0 L325.1,111.6 L325.4,111.8 L325.6,112.0 L325.8,111.9 L326.0,111.8 L326.3,111.8 L326.5,111.6 L326.7,111.4 L327.0,111.3 L327.2,111.7 L327.4,112.5 L327.7,112.9 L327.9,113.2 L328.1,113.9 L328.3,114.5 L328.6,114.6 L328.8,114.2 L329.0,113.8 L329.3,113.9 L329.5,114.2 L329.7,114.3 L329.9,114.2 L330.2,114.4 L330.4,114.9 L330.6,115.3 L330.9,115.7 L331.1,116.1 L331.3,116.1 L331.6,115.7 L331.8,115.2 L332.0,115.2 L332.2,115.6 L332.5,116.3 L332.7,116.6 L332.9,116.5 L333.2,116.6 L333.4,116.9 L333.6,117.3 L333.8,117.9 L334.1,118.5 L334.3,119.2 L334.5,119.8 L334.8,120.3 L335.0,120.4 L335.2,120.1 L335.5,119.6 L335.7,118.6 L335.9,117.7 L336.1,117.4 L336.4,117.8 L336.6,118.1 L336.8,118.1 L337.1,118.2 L337.3,118.6 L337.5,119.2 L337.7,119.9 L338.0,120.4 L338.2,121.0 L338.4,121.5 L338.7,121.7 L338.9,121.8 L339.1,122.2 L339.4,122.4 L339.6,122.4 L339.8,122.1 L340.0,121.9 L340.3,121.9 L340.5,121.9 L340.7,122.1 L341.0,122.3 L341.2,122.5 L341.4,122.7 L341.7,122.9 L341.9,123.1 L342.1,123.6 L342.3,124.4 L342.6,124.8 L342.8,124.7 L343.0,124.9 L343.3,125.6 L343.5,126.3 L343.7,126.7 L343.9,127.2 L344.2,127.6 L344.4,128.1 L344.6,128.6 L344.9,128.7 L345.1,128.4 L345.3,128.3 L345.6,128.8 L345.8,129.2 L346.0,129.4 L346.2,129.5 L346.5,129.6 L346.7,129.7 L346.9,129.8 L347.2,129.9 L347.4,130.3 L347.6,130.5 L347.8,130.3 L348.1,130.3 L348.3,130.8 L348.5,131.7 L348.8,132.6 L349.0,133.4 L349.2,133.9 L349.5,134.2 L349.7,134.2 L349.9,134.2 L350.1,134.5 L350.4,134.8 L350.6,135.1 L350.8,135.2 L351.1,135.1 L351.3,134.9 L351.5,134.9 L351.7,135.2 L352.0,135.5 L352.2,135.8 L352.4,135.9 L352.7,135.9 L352.9,136.1 L353.1,136.5 L353.4,136.9 L353.6,137.6 L353.8,138.1 L354.0,138.3 L354.3,138.2 L354.5,138.3 L354.7,138.6 L355.0,139.0 L355.2,139.3 L355.4,139.7 L355.6,140.3 L355.9,141.2 L356.1,141.8 L356.3,142.0 L356.6,141.8 L356.8,141.5 L357.0,141.7 L357.3,142.1 L357.5,142.2 L357.7,142.1 L357.9,142.2 L358.2,142.2 L358.4,142.1 L358.6,142.0 L358.9,142.1 L359.1,141.8 L359.3,141.1 L359.6,140.8 L359.8,141.0 L360.0,141.2 L360.2,141.3" stroke="#0000ff" stroke-width="1.9" fill="none" stroke-linejoin="round" stroke-linecap="round"/>
<path d="M195.00,156.90 v-1.6 M195.00,18.80 v1.6 M217.95,156.90 v-1.6 M217.95,18.80 v1.6 M240.90,156.90 v-1.6 M240.90,18.80 v1.6 M263.85,156.90 v-1.6 M263.85,18.80 v1.6 M286.80,156.90 v-1.6 M286.80,18.80 v1.6 M309.75,156.90 v-1.6 M309.75,18.80 v1.6 M332.70,156.90 v-1.6 M332.70,18.80 v1.6 M355.65,156.90 v-1.6 M355.65,18.80 v1.6 M195.00,153.20 h1.6 M360.30,153.20 h-1.6 M195.00,133.15 h1.6 M360.30,133.15 h-1.6 M195.00,113.10 h1.6 M360.30,113.10 h-1.6 M195.00,93.05 h1.6 M360.30,93.05 h-1.6 M195.00,73.00 h1.6 M360.30,73.00 h-1.6 M195.00,52.95 h1.6 M360.30,52.95 h-1.6 M195.00,32.90 h1.6 M360.30,32.90 h-1.6 " stroke="#4a4a4a" stroke-width="0.7" fill="none"/>
<rect x="195.00" y="18.80" width="165.30" height="138.10" fill="none" stroke="#4a4a4a" stroke-width="0.8"/>
<text transform="translate(193.80 155.10) scale(0.900 1)" font-size="5.30" text-anchor="end" fill="#3c3c3c">69</text>
<text transform="translate(193.80 135.05) scale(0.900 1)" font-size="5.30" text-anchor="end" fill="#3c3c3c">69.5</text>
<text transform="translate(193.80 115.00) scale(0.900 1)" font-size="5.30" text-anchor="end" fill="#3c3c3c">70</text>
<text transform="translate(193.80 94.95) scale(0.900 1)" font-size="5.30" text-anchor="end" fill="#3c3c3c">70.5</text>
<text transform="translate(193.80 74.90) scale(0.900 1)" font-size="5.30" text-anchor="end" fill="#3c3c3c">71</text>
<text transform="translate(193.80 54.85) scale(0.900 1)" font-size="5.30" text-anchor="end" fill="#3c3c3c">71.5</text>
<text transform="translate(193.80 34.80) scale(0.900 1)" font-size="5.30" text-anchor="end" fill="#3c3c3c">72</text>
<text transform="translate(275.05 15.80) scale(0.907 1)" font-size="5.90" text-anchor="middle" fill="#202020">Battery voltage (V)</text></g>
<g><path d="M399.80,18.50 V156.90 M422.80,18.50 V156.90 M445.80,18.50 V156.90 M468.80,18.50 V156.90 M491.80,18.50 V156.90 M514.80,18.50 V156.90 M537.80,18.50 V156.90 " stroke="#808080" stroke-width="0.55" fill="none"/>
<path d="M376.80,143.40 H542.20 M376.80,123.20 H542.20 M376.80,103.00 H542.20 M376.80,82.80 H542.20 M376.80,62.60 H542.20 M376.80,42.40 H542.20 M376.80,22.20 H542.20 " stroke="#767676" stroke-width="0.6" fill="none"/>
<clipPath id="c_temp"><rect x="376.80" y="18.50" width="165.40" height="138.40"/></clipPath>
<path clip-path="url(#c_temp)" d="M376.8,143.9 L377.0,143.7 L377.3,143.5 L377.5,143.3 L377.7,143.0 L377.9,142.8 L378.2,142.6 L378.4,142.4 L378.6,142.2 L378.9,142.0 L379.1,141.8 L379.3,141.7 L379.6,141.6 L379.8,141.4 L380.0,141.3 L380.2,141.2 L380.5,141.0 L380.7,140.9 L380.9,140.7 L381.2,140.5 L381.4,140.3 L381.6,140.2 L381.9,140.0 L382.1,139.8 L382.3,139.7 L382.6,139.5 L382.8,139.4 L383.0,139.3 L383.2,139.1 L383.5,139.0 L383.7,138.8 L383.9,138.5 L384.2,138.3 L384.4,138.0 L384.6,137.8 L384.9,137.5 L385.1,137.3 L385.3,137.2 L385.5,137.0 L385.8,136.9 L386.0,136.7 L386.2,136.6 L386.5,136.5 L386.7,136.3 L386.9,136.1 L387.2,135.9 L387.4,135.6 L387.6,135.4 L387.8,135.2 L388.1,135.0 L388.3,134.8 L388.5,134.6 L388.8,134.4 L389.0,134.3 L389.2,134.2 L389.4,134.1 L389.7,134.0 L389.9,133.9 L390.1,133.7 L390.4,133.4 L390.6,133.2 L390.8,132.9 L391.1,132.5 L391.3,132.2 L391.5,131.9 L391.8,131.6 L392.0,131.3 L392.2,131.0 L392.4,130.7 L392.7,130.3 L392.9,130.0 L393.1,129.7 L393.4,129.5 L393.6,129.2 L393.8,128.9 L394.1,128.6 L394.3,128.3 L394.5,128.1 L394.7,127.9 L395.0,127.7 L395.2,127.5 L395.4,127.2 L395.7,127.0 L395.9,126.9 L396.1,126.7 L396.4,126.5 L396.6,126.3 L396.8,126.1 L397.0,125.8 L397.3,125.5 L397.5,125.2 L397.7,124.8 L398.0,124.4 L398.2,124.0 L398.4,123.7 L398.7,123.3 L398.9,123.0 L399.1,122.7 L399.3,122.5 L399.6,122.4 L399.8,122.3 L400.0,122.3 L400.3,122.2 L400.5,122.3 L400.7,122.3 L400.9,122.3 L401.2,122.2 L401.4,122.2 L401.6,122.1 L401.9,122.0 L402.1,121.9 L402.3,121.8 L402.6,121.7 L402.8,121.6 L403.0,121.5 L403.2,121.4 L403.5,121.3 L403.7,121.2 L403.9,121.1 L404.2,121.0 L404.4,120.9 L404.6,120.8 L404.9,120.7 L405.1,120.6 L405.3,120.6 L405.6,120.5 L405.8,120.4 L406.0,120.3 L406.2,120.2 L406.5,120.1 L406.7,120.0 L406.9,119.9 L407.2,119.8 L407.4,119.7 L407.6,119.6 L407.9,119.6 L408.1,119.5 L408.3,119.5 L408.5,119.4 L408.8,119.2 L409.0,119.1 L409.2,118.9 L409.5,118.7 L409.7,118.5 L409.9,118.1 L410.2,117.8 L410.4,117.5 L410.6,117.2 L410.8,117.0 L411.1,116.7 L411.3,116.5 L411.5,116.4 L411.8,116.3 L412.0,116.2 L412.2,116.1 L412.4,116.1 L412.7,116.1 L412.9,116.2 L413.1,116.2 L413.4,116.2 L413.6,116.2 L413.8,116.2 L414.1,116.3 L414.3,116.3 L414.5,116.3 L414.8,116.2 L415.0,116.1 L415.2,116.0 L415.4,116.0 L415.7,115.9 L415.9,115.8 L416.1,115.8 L416.4,115.7 L416.6,115.6 L416.8,115.5 L417.1,115.4 L417.3,115.3 L417.5,115.2 L417.7,115.0 L418.0,114.9 L418.2,114.7 L418.4,114.5 L418.7,114.4 L418.9,114.2 L419.1,114.1 L419.4,114.0 L419.6,113.8 L419.8,113.7 L420.0,113.6 L420.3,113.5 L420.5,113.3 L420.7,113.2 L421.0,113.0 L421.2,112.9 L421.4,112.7 L421.7,112.5 L421.9,112.4 L422.1,112.3 L422.3,112.1 L422.6,112.0 L422.8,111.8 L423.0,111.7 L423.3,111.5 L423.5,111.4 L423.7,111.2 L423.9,111.1 L424.2,110.9 L424.4,110.7 L424.6,110.5 L424.9,110.3 L425.1,110.1 L425.3,109.9 L425.6,109.8 L425.8,109.6 L426.0,109.4 L426.2,109.2 L426.5,109.0 L426.7,108.9 L426.9,108.7 L427.2,108.6 L427.4,108.5 L427.6,108.4 L427.9,108.4 L428.1,108.3 L428.3,108.3 L428.6,108.3 L428.8,108.3 L429.0,108.2 L429.2,108.2 L429.5,108.1 L429.7,108.0 L429.9,107.8 L430.2,107.6 L430.4,107.4 L430.6,107.3 L430.9,107.1 L431.1,106.9 L431.3,106.6 L431.5,106.4 L431.8,106.2 L432.0,106.1 L432.2,105.9 L432.5,105.7 L432.7,105.5 L432.9,105.2 L433.2,105.0 L433.4,104.7 L433.6,104.4 L433.8,104.1 L434.1,103.8 L434.3,103.5 L434.5,103.2 L434.8,102.9 L435.0,102.6 L435.2,102.4 L435.4,102.3 L435.7,102.1 L435.9,101.9 L436.1,101.8 L436.4,101.7 L436.6,101.6 L436.8,101.5 L437.1,101.4 L437.3,101.2 L437.5,101.0 L437.8,100.8 L438.0,100.6 L438.2,100.4 L438.4,100.2 L438.7,100.0 L438.9,99.8 L439.1,99.6 L439.4,99.4 L439.6,99.1 L439.8,98.9 L440.1,98.6 L440.3,98.3 L440.5,98.0 L440.7,97.8 L441.0,97.4 L441.2,97.1 L441.4,96.8 L441.7,96.6 L441.9,96.4 L442.1,96.3 L442.4,96.2 L442.6,96.1 L442.8,96.0 L443.0,96.0 L443.3,96.0 L443.5,95.9 L443.7,95.8 L444.0,95.6 L444.2,95.4 L444.4,95.2 L444.6,95.0 L444.9,94.8 L445.1,94.6 L445.3,94.4 L445.6,94.3 L445.8,94.1 L446.0,93.9 L446.3,93.8 L446.5,93.7 L446.7,93.6 L447.0,93.5 L447.2,93.4 L447.4,93.3 L447.6,93.2 L447.9,93.1 L448.1,93.0 L448.3,92.8 L448.6,92.6 L448.8,92.4 L449.0,92.2 L449.2,92.1 L449.5,91.9 L449.7,91.9 L449.9,91.8 L450.2,91.8 L450.4,91.8 L450.6,91.7 L450.9,91.7 L451.1,91.7 L451.3,91.7 L451.6,91.7 L451.8,91.7 L452.0,91.6 L452.2,91.6 L452.5,91.5 L452.7,91.5 L452.9,91.5 L453.2,91.4 L453.4,91.3 L453.6,91.2 L453.9,91.1 L454.1,90.9 L454.3,90.8 L454.5,90.6 L454.8,90.4 L455.0,90.3 L455.2,90.1 L455.5,89.9 L455.7,89.7 L455.9,89.5 L456.1,89.3 L456.4,89.1 L456.6,88.9 L456.8,88.7 L457.1,88.6 L457.3,88.4 L457.5,88.3 L457.8,88.3 L458.0,88.3 L458.2,88.3 L458.5,88.3 L458.7,88.3 L458.9,88.4 L459.1,88.4 L459.4,88.5 L459.6,88.4 L459.8,88.4 L460.1,88.3 L460.3,88.3 L460.5,88.2 L460.8,88.1 L461.0,87.9 L461.2,87.8 L461.4,87.7 L461.7,87.7 L461.9,87.6 L462.1,87.6 L462.4,87.6 L462.6,87.5 L462.8,87.5 L463.1,87.5 L463.3,87.4 L463.5,87.4 L463.7,87.3 L464.0,87.2 L464.2,87.1 L464.4,86.9 L464.7,86.7 L464.9,86.6 L465.1,86.3 L465.4,86.1 L465.6,85.9 L465.8,85.8 L466.0,85.6 L466.3,85.4 L466.5,85.2 L466.7,85.0 L467.0,84.9 L467.2,84.7 L467.4,84.6 L467.6,84.4 L467.9,84.3 L468.1,84.2 L468.3,84.2 L468.6,84.1 L468.8,84.1 L469.0,84.0 L469.3,83.9 L469.5,83.9 L469.7,83.8 L469.9,83.7 L470.2,83.5 L470.4,83.4 L470.6,83.2 L470.9,83.0 L471.1,82.8 L471.3,82.6 L471.6,82.4 L471.8,82.2 L472.0,82.0 L472.2,81.9 L472.5,81.7 L472.7,81.6 L472.9,81.4 L473.2,81.2 L473.4,81.0 L473.6,80.9 L473.9,80.8 L474.1,80.7 L474.3,80.6 L474.6,80.5 L474.8,80.4 L475.0,80.4 L475.2,80.3 L475.5,80.2 L475.7,80.1 L475.9,79.9 L476.2,79.7 L476.4,79.4 L476.6,79.2 L476.9,78.8 L477.1,78.5 L477.3,78.2 L477.5,77.9 L477.8,77.7 L478.0,77.5 L478.2,77.3 L478.5,77.1 L478.7,77.0 L478.9,76.9 L479.1,76.8 L479.4,76.7 L479.6,76.6 L479.8,76.4 L480.1,76.1 L480.3,75.8 L480.5,75.5 L480.8,75.1 L481.0,74.7 L481.2,74.3 L481.4,73.9 L481.7,73.6 L481.9,73.3 L482.1,73.0 L482.4,72.8 L482.6,72.7 L482.8,72.5 L483.1,72.4 L483.3,72.3 L483.5,72.2 L483.8,72.0 L484.0,71.8 L484.2,71.6 L484.4,71.3 L484.7,71.1 L484.9,70.8 L485.1,70.4 L485.4,70.0 L485.6,69.6 L485.8,69.3 L486.1,69.0 L486.3,68.8 L486.5,68.6 L486.7,68.4 L487.0,68.2 L487.2,68.1 L487.4,68.0 L487.7,67.9 L487.9,67.7 L488.1,67.6 L488.4,67.4 L488.6,67.3 L488.8,67.1 L489.0,66.9 L489.3,66.7 L489.5,66.5 L489.7,66.3 L490.0,66.2 L490.2,66.0 L490.4,65.8 L490.6,65.6 L490.9,65.5 L491.1,65.3 L491.3,65.2 L491.6,65.0 L491.8,64.7 L492.0,64.4 L492.3,64.2 L492.5,64.1 L492.7,63.9 L492.9,63.7 L493.2,63.6 L493.4,63.4 L493.6,63.3 L493.9,63.2 L494.1,63.1 L494.3,63.0 L494.6,62.8 L494.8,62.6 L495.0,62.5 L495.2,62.4 L495.5,62.4 L495.7,62.3 L495.9,62.3 L496.2,62.2 L496.4,62.2 L496.6,62.2 L496.9,62.3 L497.1,62.3 L497.3,62.3 L497.6,62.2 L497.8,62.2 L498.0,62.2 L498.2,62.1 L498.5,62.0 L498.7,61.9 L498.9,61.8 L499.2,61.7 L499.4,61.6 L499.6,61.5 L499.9,61.3 L500.1,61.2 L500.3,61.0 L500.5,60.9 L500.8,60.9 L501.0,60.8 L501.2,60.7 L501.5,60.7 L501.7,60.6 L501.9,60.6 L502.1,60.7 L502.4,60.7 L502.6,60.7 L502.8,60.7 L503.1,60.6 L503.3,60.5 L503.5,60.4 L503.8,60.2 L504.0,60.0 L504.2,59.7 L504.4,59.4 L504.7,59.1 L504.9,58.9 L505.1,58.8 L505.4,58.7 L505.6,58.6 L505.8,58.5 L506.1,58.4 L506.3,58.4 L506.5,58.4 L506.8,58.3 L507.0,58.3 L507.2,58.1 L507.4,58.0 L507.7,57.8 L507.9,57.6 L508.1,57.5 L508.4,57.4 L508.6,57.2 L508.8,57.1 L509.1,57.0 L509.3,56.8 L509.5,56.7 L509.7,56.7 L510.0,56.5 L510.2,56.4 L510.4,56.2 L510.7,56.1 L510.9,55.9 L511.1,55.8 L511.4,55.7 L511.6,55.6 L511.8,55.4 L512.0,55.3 L512.3,55.2 L512.5,55.2 L512.7,55.1 L513.0,55.0 L513.2,55.0 L513.4,54.9 L513.6,54.9 L513.9,54.8 L514.1,54.7 L514.3,54.7 L514.6,54.6 L514.8,54.6 L515.0,54.5 L515.3,54.4 L515.5,54.3 L515.7,54.1 L516.0,53.9 L516.2,53.7 L516.4,53.5 L516.6,53.3 L516.9,53.1 L517.1,52.9 L517.3,52.7 L517.6,52.5 L517.8,52.3 L518.0,52.1 L518.2,52.0 L518.5,51.8 L518.7,51.6 L518.9,51.4 L519.2,51.2 L519.4,51.0 L519.6,50.7 L519.9,50.5 L520.1,50.3 L520.3,50.1 L520.5,49.8 L520.8,49.6 L521.0,49.4 L521.2,49.2 L521.5,49.0 L521.7,48.9 L521.9,48.8 L522.2,48.7 L522.4,48.6 L522.6,48.5 L522.9,48.4 L523.1,48.4 L523.3,48.3 L523.5,48.2 L523.8,48.1 L524.0,48.0 L524.2,47.9 L524.5,47.8 L524.7,47.7 L524.9,47.5 L525.1,47.4 L525.4,47.2 L525.6,47.0 L525.8,46.7 L526.1,46.4 L526.3,46.1 L526.5,45.7 L526.8,45.4 L527.0,45.0 L527.2,44.6 L527.5,44.2 L527.7,43.9 L527.9,43.5 L528.1,43.2 L528.4,42.9 L528.6,42.7 L528.8,42.5 L529.1,42.3 L529.3,42.2 L529.5,42.0 L529.8,41.8 L530.0,41.6 L530.2,41.5 L530.4,41.3 L530.7,41.1 L530.9,40.9 L531.1,40.7 L531.4,40.4 L531.6,40.2 L531.8,40.0 L532.0,39.7 L532.3,39.4 L532.5,39.1 L532.7,38.8 L533.0,38.5 L533.2,38.2 L533.4,37.9 L533.7,37.5 L533.9,37.2 L534.1,36.9 L534.4,36.6 L534.6,36.3 L534.8,36.0 L535.0,35.8 L535.3,35.5 L535.5,35.3 L535.7,35.0 L536.0,34.7 L536.2,34.5 L536.4,34.2 L536.6,34.0 L536.9,33.9 L537.1,33.7 L537.3,33.5 L537.6,33.4 L537.8,33.2 L538.0,33.1 L538.3,33.0 L538.5,32.8 L538.7,32.6 L539.0,32.5 L539.2,32.3 L539.4,32.3 L539.6,32.2 L539.9,32.2 L540.1,32.1 L540.3,32.0 L540.6,32.0 L540.8,32.0 L541.0,32.0 L541.2,32.0 L541.5,31.9 L541.7,31.8 L541.9,31.7 L542.2,31.6 L542.4,31.6" stroke="#0072c6" stroke-width="2.3" fill="none" stroke-linejoin="round" stroke-linecap="round"/>
<path d="M376.80,156.90 v-1.6 M376.80,18.50 v1.6 M399.80,156.90 v-1.6 M399.80,18.50 v1.6 M422.80,156.90 v-1.6 M422.80,18.50 v1.6 M445.80,156.90 v-1.6 M445.80,18.50 v1.6 M468.80,156.90 v-1.6 M468.80,18.50 v1.6 M491.80,156.90 v-1.6 M491.80,18.50 v1.6 M514.80,156.90 v-1.6 M514.80,18.50 v1.6 M537.80,156.90 v-1.6 M537.80,18.50 v1.6 M376.80,143.40 h1.6 M542.20,143.40 h-1.6 M376.80,123.20 h1.6 M542.20,123.20 h-1.6 M376.80,103.00 h1.6 M542.20,103.00 h-1.6 M376.80,82.80 h1.6 M542.20,82.80 h-1.6 M376.80,62.60 h1.6 M542.20,62.60 h-1.6 M376.80,42.40 h1.6 M542.20,42.40 h-1.6 M376.80,22.20 h1.6 M542.20,22.20 h-1.6 " stroke="#4a4a4a" stroke-width="0.7" fill="none"/>
<rect x="376.80" y="18.50" width="165.40" height="138.40" fill="none" stroke="#4a4a4a" stroke-width="0.8"/>
<text transform="translate(375.60 145.30) scale(0.900 1)" font-size="5.30" text-anchor="end" fill="#3c3c3c">25</text>
<text transform="translate(375.60 125.10) scale(0.900 1)" font-size="5.30" text-anchor="end" fill="#3c3c3c">25.5</text>
<text transform="translate(375.60 104.90) scale(0.900 1)" font-size="5.30" text-anchor="end" fill="#3c3c3c">26</text>
<text transform="translate(375.60 84.70) scale(0.900 1)" font-size="5.30" text-anchor="end" fill="#3c3c3c">26.5</text>
<text transform="translate(375.60 64.50) scale(0.900 1)" font-size="5.30" text-anchor="end" fill="#3c3c3c">27</text>
<text transform="translate(375.60 44.30) scale(0.900 1)" font-size="5.30" text-anchor="end" fill="#3c3c3c">27.5</text>
<text transform="translate(375.60 24.10) scale(0.900 1)" font-size="5.30" text-anchor="end" fill="#3c3c3c">28</text>
<text transform="translate(459.70 15.00) scale(0.929 1)" font-size="6.60" text-anchor="middle" fill="#202020">Battery temperature (deg C)</text></g>
<g><path d="M35.60,174.20 V298.70 M58.80,174.20 V298.70 M82.00,174.20 V298.70 M105.20,174.20 V298.70 M128.40,174.20 V298.70 M151.60,174.20 V298.70 M174.80,174.20 V298.70 " stroke="#808080" stroke-width="0.55" fill="none"/>
<path d="M12.40,294.40 H179.70 M12.40,276.48 H179.70 M12.40,258.56 H179.70 M12.40,240.64 H179.70 M12.40,222.72 H179.70 M12.40,204.80 H179.70 M12.40,186.88 H179.70 " stroke="#767676" stroke-width="0.6" fill="none"/>
<clipPath id="c_soc"><rect x="12.40" y="174.20" width="167.30" height="124.50"/></clipPath>
<path clip-path="url(#c_soc)" d="M12.4,187.3 L12.6,187.2 L12.9,187.2 L13.1,187.4 L13.3,187.8 L13.6,187.8 L13.8,187.6 L14.0,187.7 L14.3,188.1 L14.5,188.1 L14.7,187.9 L15.0,187.9 L15.2,188.1 L15.4,188.4 L15.6,188.6 L15.9,188.6 L16.1,188.7 L16.3,189.0 L16.6,189.6 L16.8,190.2 L17.0,190.7 L17.3,191.2 L17.5,191.4 L17.7,191.3 L18.0,191.3 L18.2,191.6 L18.4,191.5 L18.7,191.0 L18.9,190.9 L19.1,191.2 L19.4,191.8 L19.6,192.2 L19.8,192.5 L20.1,192.9 L20.3,193.3 L20.5,193.6 L20.8,193.9 L21.0,194.1 L21.2,193.9 L21.4,193.4 L21.7,193.1 L21.9,193.1 L22.1,193.1 L22.4,193.3 L22.6,193.5 L22.8,193.9 L23.1,194.4 L23.3,194.9 L23.5,195.5 L23.8,195.9 L24.0,196.1 L24.2,196.2 L24.5,196.4 L24.7,196.7 L24.9,196.8 L25.2,196.8 L25.4,196.9 L25.6,197.2 L25.9,197.5 L26.1,197.5 L26.3,197.5 L26.6,197.6 L26.8,198.0 L27.0,198.2 L27.2,198.1 L27.5,198.4 L27.7,198.9 L27.9,199.3 L28.2,199.6 L28.4,200.0 L28.6,200.5 L28.9,200.7 L29.1,200.6 L29.3,200.6 L29.6,200.8 L29.8,200.9 L30.0,201.2 L30.3,201.5 L30.5,201.8 L30.7,201.8 L31.0,202.0 L31.2,202.4 L31.4,203.1 L31.7,203.5 L31.9,203.8 L32.1,203.9 L32.4,203.6 L32.6,202.9 L32.8,202.7 L33.0,203.1 L33.3,203.6 L33.5,204.1 L33.7,204.7 L34.0,205.1 L34.2,205.2 L34.4,205.4 L34.7,205.7 L34.9,205.9 L35.1,206.0 L35.4,206.2 L35.6,206.4 L35.8,206.3 L36.1,206.0 L36.3,205.8 L36.5,205.8 L36.8,206.1 L37.0,206.5 L37.2,206.7 L37.5,206.6 L37.7,206.5 L37.9,206.7 L38.2,207.0 L38.4,207.0 L38.6,206.9 L38.8,206.7 L39.1,206.7 L39.3,206.9 L39.5,207.0 L39.8,206.9 L40.0,206.5 L40.2,206.4 L40.5,206.7 L40.7,207.0 L40.9,206.9 L41.2,206.5 L41.4,206.1 L41.6,206.1 L41.9,206.4 L42.1,206.5 L42.3,206.5 L42.6,206.5 L42.8,206.4 L43.0,206.3 L43.3,206.4 L43.5,206.5 L43.7,206.4 L44.0,206.6 L44.2,207.2 L44.4,207.8 L44.6,208.6 L44.9,209.3 L45.1,209.5 L45.3,209.3 L45.6,209.3 L45.8,209.4 L46.0,209.5 L46.3,209.5 L46.5,209.2 L46.7,208.6 L47.0,208.3 L47.2,208.3 L47.4,208.6 L47.7,209.2 L47.9,209.9 L48.1,210.5 L48.4,210.6 L48.6,210.2 L48.8,210.0 L49.1,210.0 L49.3,210.3 L49.5,210.6 L49.8,210.8 L50.0,210.9 L50.2,211.0 L50.4,211.1 L50.7,210.9 L50.9,210.7 L51.1,210.7 L51.4,210.6 L51.6,210.2 L51.8,209.9 L52.1,210.1 L52.3,210.5 L52.5,210.8 L52.8,211.1 L53.0,211.2 L53.2,211.1 L53.5,211.0 L53.7,210.8 L53.9,210.8 L54.2,210.9 L54.4,210.9 L54.6,210.8 L54.9,210.9 L55.1,211.3 L55.3,211.8 L55.6,212.3 L55.8,212.3 L56.0,212.2 L56.2,212.1 L56.5,212.4 L56.7,212.9 L56.9,213.6 L57.2,214.2 L57.4,214.5 L57.6,214.5 L57.9,214.5 L58.1,214.8 L58.3,215.0 L58.6,215.1 L58.8,215.2 L59.0,215.4 L59.3,215.5 L59.5,215.7 L59.7,216.1 L60.0,216.5 L60.2,216.8 L60.4,217.0 L60.7,216.9 L60.9,216.8 L61.1,216.7 L61.4,216.8 L61.6,216.9 L61.8,216.8 L62.0,216.8 L62.3,216.8 L62.5,216.8 L62.7,216.9 L63.0,217.3 L63.2,218.0 L63.4,218.5 L63.7,218.5 L63.9,218.3 L64.1,218.1 L64.4,218.1 L64.6,217.8 L64.8,217.4 L65.1,217.1 L65.3,217.1 L65.5,217.3 L65.8,217.8 L66.0,219.0 L66.2,220.3 L66.5,221.2 L66.7,221.3 L66.9,221.0 L67.2,220.5 L67.4,220.7 L67.6,221.0 L67.8,221.1 L68.1,220.9 L68.3,220.9 L68.5,221.1 L68.8,221.7 L69.0,222.3 L69.2,222.7 L69.5,223.0 L69.7,223.3 L69.9,223.7 L70.2,224.1 L70.4,224.3 L70.6,224.4 L70.9,224.3 L71.1,224.2 L71.3,223.9 L71.6,223.8 L71.8,223.8 L72.0,223.8 L72.3,223.7 L72.5,223.5 L72.7,223.6 L73.0,224.1 L73.2,224.6 L73.4,224.8 L73.6,225.1 L73.9,225.5 L74.1,225.8 L74.3,226.1 L74.6,226.5 L74.8,226.8 L75.0,227.1 L75.3,227.5 L75.5,228.0 L75.7,228.2 L76.0,228.3 L76.2,228.3 L76.4,228.5 L76.7,228.6 L76.9,228.9 L77.1,229.3 L77.4,229.7 L77.6,229.8 L77.8,229.8 L78.1,229.4 L78.3,228.9 L78.5,228.8 L78.8,229.0 L79.0,229.2 L79.2,229.0 L79.4,228.8 L79.7,229.2 L79.9,229.8 L80.1,230.3 L80.4,230.5 L80.6,230.8 L80.8,231.5 L81.1,231.9 L81.3,231.8 L81.5,231.5 L81.8,231.3 L82.0,231.0 L82.2,230.7 L82.5,230.7 L82.7,230.6 L82.9,230.5 L83.2,230.6 L83.4,231.2 L83.6,231.8 L83.9,232.3 L84.1,232.5 L84.3,232.7 L84.6,233.1 L84.8,233.3 L85.0,233.4 L85.2,233.3 L85.5,233.1 L85.7,233.1 L85.9,233.5 L86.2,234.0 L86.4,233.9 L86.6,233.4 L86.9,233.4 L87.1,233.7 L87.3,233.6 L87.6,233.2 L87.8,233.5 L88.0,234.2 L88.3,234.7 L88.5,234.6 L88.7,233.9 L89.0,233.6 L89.2,233.8 L89.4,233.9 L89.7,233.8 L89.9,233.6 L90.1,233.6 L90.4,233.6 L90.6,233.3 L90.8,233.1 L91.0,233.6 L91.3,234.3 L91.5,234.4 L91.7,234.1 L92.0,234.0 L92.2,234.2 L92.4,234.4 L92.7,234.3 L92.9,234.1 L93.1,233.9 L93.4,233.8 L93.6,233.9 L93.8,234.2 L94.1,234.4 L94.3,234.5 L94.5,234.6 L94.8,234.7 L95.0,234.8 L95.2,234.9 L95.5,235.2 L95.7,235.7 L95.9,236.1 L96.2,236.7 L96.4,237.4 L96.6,237.7 L96.8,237.9 L97.1,238.2 L97.3,238.4 L97.5,238.2 L97.8,237.9 L98.0,237.6 L98.2,237.5 L98.5,237.9 L98.7,238.4 L98.9,238.6 L99.2,238.6 L99.4,238.5 L99.6,238.4 L99.9,238.5 L100.1,238.7 L100.3,239.0 L100.6,239.3 L100.8,239.6 L101.0,239.7 L101.3,239.7 L101.5,239.7 L101.7,239.8 L102.0,239.9 L102.2,240.1 L102.4,240.1 L102.6,239.8 L102.9,239.4 L103.1,238.8 L103.3,238.4 L103.6,238.4 L103.8,238.6 L104.0,238.7 L104.3,238.9 L104.5,239.5 L104.7,240.3 L105.0,240.6 L105.2,240.3 L105.4,239.9 L105.7,239.8 L105.9,240.0 L106.1,240.2 L106.4,240.5 L106.6,240.9 L106.8,241.2 L107.1,241.5 L107.3,241.6 L107.5,241.6 L107.8,241.7 L108.0,242.1 L108.2,242.6 L108.4,243.1 L108.7,243.1 L108.9,242.7 L109.1,242.1 L109.4,241.8 L109.6,241.6 L109.8,241.2 L110.1,241.0 L110.3,241.3 L110.5,241.8 L110.8,242.0 L111.0,242.0 L111.2,242.3 L111.5,243.1 L111.7,243.9 L111.9,244.2 L112.2,244.0 L112.4,243.8 L112.6,243.9 L112.9,244.3 L113.1,244.9 L113.3,245.7 L113.6,246.4 L113.8,246.9 L114.0,247.0 L114.2,246.8 L114.5,246.4 L114.7,246.1 L114.9,246.1 L115.2,246.2 L115.4,246.5 L115.6,246.8 L115.9,247.1 L116.1,247.8 L116.3,248.7 L116.6,249.5 L116.8,249.8 L117.0,250.1 L117.3,250.3 L117.5,250.2 L117.7,250.2 L118.0,250.2 L118.2,250.1 L118.4,250.1 L118.7,250.3 L118.9,250.3 L119.1,249.9 L119.4,249.3 L119.6,249.0 L119.8,248.9 L120.0,248.9 L120.3,249.2 L120.5,249.7 L120.7,250.4 L121.0,251.1 L121.2,251.4 L121.4,251.3 L121.7,251.2 L121.9,251.5 L122.1,252.1 L122.4,252.5 L122.6,252.6 L122.8,252.7 L123.1,253.0 L123.3,253.4 L123.5,253.4 L123.8,253.1 L124.0,253.1 L124.2,253.2 L124.5,253.2 L124.7,253.3 L124.9,253.6 L125.2,254.2 L125.4,254.5 L125.6,254.8 L125.8,255.0 L126.1,255.1 L126.3,255.3 L126.5,255.6 L126.8,255.7 L127.0,255.9 L127.2,256.7 L127.5,257.7 L127.7,258.5 L127.9,258.9 L128.2,259.2 L128.4,259.5 L128.6,259.1 L128.9,258.4 L129.1,258.1 L129.3,258.2 L129.6,258.5 L129.8,258.7 L130.0,258.6 L130.3,258.4 L130.5,258.3 L130.7,258.1 L131.0,257.9 L131.2,258.4 L131.4,259.2 L131.6,259.6 L131.9,259.2 L132.1,258.8 L132.3,258.6 L132.6,258.8 L132.8,258.9 L133.0,259.0 L133.3,259.1 L133.5,259.3 L133.7,259.3 L134.0,259.1 L134.2,259.1 L134.4,259.5 L134.7,260.0 L134.9,260.6 L135.1,261.0 L135.4,260.9 L135.6,260.4 L135.8,260.1 L136.1,260.2 L136.3,260.3 L136.5,259.8 L136.8,259.2 L137.0,259.0 L137.2,259.0 L137.4,258.9 L137.7,258.7 L137.9,258.7 L138.1,258.7 L138.4,259.1 L138.6,259.6 L138.8,259.8 L139.1,259.6 L139.3,259.4 L139.5,259.0 L139.8,258.9 L140.0,259.0 L140.2,259.0 L140.5,258.8 L140.7,258.7 L140.9,258.6 L141.2,258.6 L141.4,258.8 L141.6,259.7 L141.9,260.8 L142.1,261.8 L142.3,262.3 L142.6,262.6 L142.8,263.1 L143.0,263.9 L143.2,264.6 L143.5,264.9 L143.7,264.4 L143.9,263.6 L144.2,263.3 L144.4,263.5 L144.6,264.0 L144.9,264.5 L145.1,265.0 L145.3,265.2 L145.6,264.8 L145.8,264.3 L146.0,264.1 L146.3,264.0 L146.5,263.8 L146.7,263.8 L147.0,264.0 L147.2,264.3 L147.4,264.4 L147.7,264.2 L147.9,263.9 L148.1,263.8 L148.4,263.9 L148.6,264.2 L148.8,264.6 L149.0,265.0 L149.3,265.2 L149.5,265.6 L149.7,266.2 L150.0,266.8 L150.2,267.2 L150.4,267.4 L150.7,267.5 L150.9,267.8 L151.1,268.2 L151.4,268.4 L151.6,268.5 L151.8,268.3 L152.1,267.6 L152.3,266.6 L152.5,265.8 L152.8,265.6 L153.0,265.9 L153.2,266.3 L153.5,266.8 L153.7,267.2 L153.9,267.3 L154.2,267.7 L154.4,268.1 L154.6,268.4 L154.8,268.3 L155.1,268.2 L155.3,268.2 L155.5,268.2 L155.8,268.5 L156.0,268.8 L156.2,269.0 L156.5,268.9 L156.7,269.1 L156.9,269.6 L157.2,269.9 L157.4,270.0 L157.6,270.1 L157.9,270.0 L158.1,269.8 L158.3,270.2 L158.6,271.2 L158.8,271.9 L159.0,272.0 L159.3,271.7 L159.5,271.5 L159.7,271.6 L160.0,271.5 L160.2,271.6 L160.4,271.9 L160.6,272.3 L160.9,272.2 L161.1,271.7 L161.3,271.3 L161.6,271.1 L161.8,271.4 L162.0,271.9 L162.3,272.2 L162.5,272.5 L162.7,272.9 L163.0,273.5 L163.2,274.2 L163.4,274.8 L163.7,275.4 L163.9,276.3 L164.1,276.9 L164.4,277.1 L164.6,276.8 L164.8,276.7 L165.1,276.9 L165.3,277.2 L165.5,277.5 L165.8,277.6 L166.0,277.6 L166.2,277.7 L166.4,278.1 L166.7,278.4 L166.9,278.5 L167.1,278.8 L167.4,279.2 L167.6,279.5 L167.8,279.6 L168.1,279.7 L168.3,279.9 L168.5,280.3 L168.8,280.6 L169.0,280.3 L169.2,279.7 L169.5,279.4 L169.7,279.7 L169.9,280.1 L170.2,280.6 L170.4,280.8 L170.6,280.6 L170.9,280.5 L171.1,280.7 L171.3,281.2 L171.6,281.9 L171.8,282.2 L172.0,281.9 L172.2,281.6 L172.5,282.0 L172.7,282.8 L172.9,283.5 L173.2,284.1 L173.4,284.6 L173.6,285.1 L173.9,285.6 L174.1,286.0 L174.3,286.3 L174.6,286.2 L174.8,286.3 L175.0,286.5 L175.3,286.5 L175.5,285.8 L175.7,285.1 L176.0,284.8 L176.2,284.9 L176.4,285.2 L176.7,285.5 L176.9,286.1 L177.1,287.1 L177.4,288.3 L177.6,289.0 L177.8,289.1 L178.0,288.9 L178.3,288.7 L178.5,288.4 L178.7,287.9 L179.0,287.2 L179.2,286.4 L179.4,285.9" stroke="#ff00ff" stroke-width="2.3" fill="none" stroke-linejoin="round" stroke-linecap="round"/>
<path d="M12.40,298.70 v-1.6 M12.40,174.20 v1.6 M35.60,298.70 v-1.6 M35.60,174.20 v1.6 M58.80,298.70 v-1.6 M58.80,174.20 v1.6 M82.00,298.70 v-1.6 M82.00,174.20 v1.6 M105.20,298.70 v-1.6 M105.20,174.20 v1.6 M128.40,298.70 v-1.6 M128.40,174.20 v1.6 M151.60,298.70 v-1.6 M151.60,174.20 v1.6 M174.80,298.70 v-1.6 M174.80,174.20 v1.6 M12.40,294.40 h1.6 M179.70,294.40 h-1.6 M12.40,276.48 h1.6 M179.70,276.48 h-1.6 M12.40,258.56 h1.6 M179.70,258.56 h-1.6 M12.40,240.64 h1.6 M179.70,240.64 h-1.6 M12.40,222.72 h1.6 M179.70,222.72 h-1.6 M12.40,204.80 h1.6 M179.70,204.80 h-1.6 M12.40,186.88 h1.6 M179.70,186.88 h-1.6 " stroke="#4a4a4a" stroke-width="0.7" fill="none"/>
<rect x="12.40" y="174.20" width="167.30" height="124.50" fill="none" stroke="#4a4a4a" stroke-width="0.8"/>
<text transform="translate(11.20 296.30) scale(0.900 1)" font-size="5.30" text-anchor="end" fill="#3c3c3c">70</text>
<text transform="translate(11.20 278.38) scale(0.900 1)" font-size="5.30" text-anchor="end" fill="#3c3c3c">75</text>
<text transform="translate(11.20 260.46) scale(0.900 1)" font-size="5.30" text-anchor="end" fill="#3c3c3c">80</text>
<text transform="translate(11.20 242.54) scale(0.900 1)" font-size="5.30" text-anchor="end" fill="#3c3c3c">85</text>
<text transform="translate(11.20 224.62) scale(0.900 1)" font-size="5.30" text-anchor="end" fill="#3c3c3c">90</text>
<text transform="translate(11.20 206.70) scale(0.900 1)" font-size="5.30" text-anchor="end" fill="#3c3c3c">95</text>
<text transform="translate(11.20 188.78) scale(0.900 1)" font-size="5.30" text-anchor="end" fill="#3c3c3c">100</text>
<text transform="translate(12.40 306.70) scale(0.900 1)" font-size="5.30" text-anchor="middle" fill="#3c3c3c">0</text>
<text transform="translate(35.60 306.70) scale(0.900 1)" font-size="5.30" text-anchor="middle" fill="#3c3c3c">500</text>
<text transform="translate(58.80 306.70) scale(0.900 1)" font-size="5.30" text-anchor="middle" fill="#3c3c3c">1000</text>
<text transform="translate(82.00 306.70) scale(0.900 1)" font-size="5.30" text-anchor="middle" fill="#3c3c3c">1500</text>
<text transform="translate(105.20 306.70) scale(0.900 1)" font-size="5.30" text-anchor="middle" fill="#3c3c3c">2000</text>
<text transform="translate(128.40 306.70) scale(0.900 1)" font-size="5.30" text-anchor="middle" fill="#3c3c3c">2500</text>
<text transform="translate(151.60 306.70) scale(0.900 1)" font-size="5.30" text-anchor="middle" fill="#3c3c3c">3000</text>
<text transform="translate(174.80 306.70) scale(0.900 1)" font-size="5.30" text-anchor="middle" fill="#3c3c3c">3500</text>
<text transform="translate(92.20 320.60) scale(0.965 1)" font-size="12.00" text-anchor="middle" fill="#000">Time [s]</text>
<text transform="translate(96.10 171.40) scale(0.932 1)" font-size="6.60" text-anchor="middle" fill="#202020">SOC (%)</text></g>
<g><path d="M217.95,174.20 V298.70 M240.90,174.20 V298.70 M263.85,174.20 V298.70 M286.80,174.20 V298.70 M309.75,174.20 V298.70 M332.70,174.20 V298.70 M355.65,174.20 V298.70 " stroke="#808080" stroke-width="0.55" fill="none"/>
<path d="M195.00,287.00 H360.30 M195.00,269.73 H360.30 M195.00,252.46 H360.30 M195.00,235.19 H360.30 M195.00,217.92 H360.30 M195.00,200.65 H360.30 M195.00,183.38 H360.30 " stroke="#767676" stroke-width="0.6" fill="none"/>
<clipPath id="c_en"><rect x="195.00" y="174.20" width="165.30" height="124.50"/></clipPath>
<path clip-path="url(#c_en)" d="M195.0,285.8 L195.2,285.3 L195.5,285.0 L195.7,284.9 L195.9,284.7 L196.1,284.4 L196.4,284.3 L196.6,284.5 L196.8,284.8 L197.1,284.8 L197.3,284.5 L197.5,284.4 L197.8,284.3 L198.0,284.0 L198.2,283.7 L198.4,283.5 L198.7,283.4 L198.9,283.0 L199.1,282.6 L199.4,282.3 L199.6,282.3 L199.8,282.0 L200.0,281.7 L200.3,281.7 L200.5,282.2 L200.7,282.2 L201.0,281.7 L201.2,281.0 L201.4,280.5 L201.7,280.5 L201.9,280.4 L202.1,280.2 L202.3,280.0 L202.6,280.1 L202.8,280.3 L203.0,280.4 L203.3,280.8 L203.5,281.2 L203.7,281.4 L204.0,281.4 L204.2,280.9 L204.4,280.1 L204.6,279.4 L204.9,279.0 L205.1,278.7 L205.3,278.4 L205.6,278.2 L205.8,278.1 L206.0,278.2 L206.2,278.2 L206.5,278.0 L206.7,278.0 L206.9,277.9 L207.2,277.8 L207.4,277.8 L207.6,277.6 L207.9,277.2 L208.1,276.8 L208.3,276.3 L208.5,275.9 L208.8,275.6 L209.0,275.0 L209.2,274.2 L209.5,273.5 L209.7,273.1 L209.9,273.3 L210.1,273.5 L210.4,273.4 L210.6,273.2 L210.8,273.3 L211.1,273.3 L211.3,273.1 L211.5,272.7 L211.8,272.6 L212.0,272.7 L212.2,272.7 L212.4,272.7 L212.7,272.3 L212.9,271.6 L213.1,270.9 L213.4,270.5 L213.6,270.4 L213.8,270.4 L214.0,270.2 L214.3,269.6 L214.5,269.0 L214.7,268.8 L215.0,268.8 L215.2,268.6 L215.4,268.3 L215.7,268.1 L215.9,268.4 L216.1,268.6 L216.3,268.3 L216.6,267.9 L216.8,267.7 L217.0,267.5 L217.3,267.4 L217.5,267.8 L217.7,268.4 L217.9,268.6 L218.2,268.4 L218.4,267.9 L218.6,267.6 L218.9,267.5 L219.1,267.6 L219.3,267.7 L219.6,267.7 L219.8,267.5 L220.0,267.3 L220.2,267.2 L220.5,267.0 L220.7,266.5 L220.9,265.9 L221.2,265.7 L221.4,265.9 L221.6,266.3 L221.9,266.3 L222.1,266.1 L222.3,265.8 L222.5,265.5 L222.8,265.8 L223.0,266.3 L223.2,266.3 L223.5,265.7 L223.7,265.0 L223.9,264.5 L224.1,264.7 L224.4,264.9 L224.6,265.1 L224.8,265.4 L225.1,265.6 L225.3,265.6 L225.5,265.4 L225.8,265.5 L226.0,265.5 L226.2,265.4 L226.4,264.9 L226.7,264.4 L226.9,264.0 L227.1,263.7 L227.4,263.4 L227.6,262.9 L227.8,262.6 L228.0,262.4 L228.3,262.3 L228.5,262.3 L228.7,262.6 L229.0,262.9 L229.2,263.3 L229.4,263.7 L229.7,264.0 L229.9,263.6 L230.1,262.8 L230.3,261.7 L230.6,260.9 L230.8,260.3 L231.0,260.2 L231.3,260.4 L231.5,260.8 L231.7,261.1 L231.9,261.3 L232.2,261.2 L232.4,261.2 L232.6,261.8 L232.9,262.6 L233.1,263.0 L233.3,263.2 L233.6,263.3 L233.8,263.1 L234.0,262.8 L234.2,262.6 L234.5,262.5 L234.7,262.2 L234.9,261.7 L235.2,261.1 L235.4,260.7 L235.6,260.4 L235.9,260.5 L236.1,261.0 L236.3,261.6 L236.5,261.9 L236.8,261.8 L237.0,261.6 L237.2,261.6 L237.5,261.5 L237.7,261.2 L237.9,260.7 L238.1,260.2 L238.4,259.4 L238.6,258.6 L238.8,258.4 L239.1,258.7 L239.3,258.7 L239.5,258.7 L239.8,258.9 L240.0,259.2 L240.2,259.4 L240.4,259.7 L240.7,259.9 L240.9,259.6 L241.1,259.4 L241.4,259.0 L241.6,258.3 L241.8,257.5 L242.0,257.0 L242.3,256.8 L242.5,256.8 L242.7,256.9 L243.0,257.0 L243.2,257.2 L243.4,257.1 L243.7,256.8 L243.9,256.8 L244.1,257.1 L244.3,257.2 L244.6,256.7 L244.8,255.9 L245.0,255.5 L245.3,255.6 L245.5,255.6 L245.7,255.2 L245.9,254.9 L246.2,254.7 L246.4,254.4 L246.6,253.9 L246.9,253.8 L247.1,254.1 L247.3,254.6 L247.6,254.9 L247.8,254.8 L248.0,254.4 L248.2,253.7 L248.5,253.1 L248.7,252.7 L248.9,252.6 L249.2,252.3 L249.4,251.8 L249.6,251.2 L249.9,250.9 L250.1,251.0 L250.3,251.1 L250.5,251.1 L250.8,251.1 L251.0,251.1 L251.2,251.1 L251.5,251.0 L251.7,250.9 L251.9,250.4 L252.1,249.8 L252.4,249.6 L252.6,249.4 L252.8,249.2 L253.1,249.0 L253.3,248.9 L253.5,248.8 L253.8,248.5 L254.0,248.1 L254.2,247.8 L254.4,247.7 L254.7,247.6 L254.9,247.6 L255.1,247.8 L255.4,247.9 L255.6,247.7 L255.8,246.9 L256.0,246.1 L256.3,245.8 L256.5,245.9 L256.7,245.6 L257.0,244.9 L257.2,244.1 L257.4,243.7 L257.7,243.6 L257.9,243.8 L258.1,244.0 L258.3,244.0 L258.6,243.8 L258.8,243.7 L259.0,244.0 L259.3,244.0 L259.5,243.7 L259.7,243.3 L259.9,243.1 L260.2,242.7 L260.4,242.0 L260.6,241.7 L260.9,242.0 L261.1,242.5 L261.3,242.9 L261.6,243.0 L261.8,242.8 L262.0,242.4 L262.2,241.8 L262.5,241.2 L262.7,241.1 L262.9,241.0 L263.2,240.5 L263.4,239.8 L263.6,239.6 L263.9,239.7 L264.1,239.9 L264.3,239.9 L264.5,239.7 L264.8,239.5 L265.0,239.6 L265.2,239.6 L265.5,239.5 L265.7,239.4 L265.9,239.3 L266.1,239.0 L266.4,238.7 L266.6,238.7 L266.8,238.8 L267.1,238.9 L267.3,238.8 L267.5,238.5 L267.8,238.2 L268.0,237.9 L268.2,237.7 L268.4,237.3 L268.7,237.4 L268.9,238.0 L269.1,238.6 L269.4,238.8 L269.6,238.6 L269.8,238.0 L270.0,237.3 L270.3,236.9 L270.5,236.9 L270.7,237.2 L271.0,237.6 L271.2,237.7 L271.4,237.9 L271.7,238.5 L271.9,239.3 L272.1,239.8 L272.3,239.8 L272.6,239.5 L272.8,239.0 L273.0,238.6 L273.3,238.1 L273.5,237.7 L273.7,237.5 L273.9,237.7 L274.2,238.0 L274.4,238.0 L274.6,237.8 L274.9,237.9 L275.1,237.9 L275.3,237.6 L275.6,237.4 L275.8,237.5 L276.0,237.4 L276.2,237.3 L276.5,237.4 L276.7,237.3 L276.9,236.7 L277.2,236.0 L277.4,235.8 L277.6,236.0 L277.8,236.2 L278.1,236.3 L278.3,235.9 L278.5,235.1 L278.8,234.5 L279.0,234.9 L279.2,235.6 L279.5,235.8 L279.7,235.5 L279.9,235.3 L280.1,235.0 L280.4,234.7 L280.6,234.4 L280.8,234.3 L281.1,234.3 L281.3,234.1 L281.5,233.8 L281.8,233.4 L282.0,233.2 L282.2,233.1 L282.4,232.9 L282.7,232.6 L282.9,232.7 L283.1,233.4 L283.4,234.3 L283.6,235.3 L283.8,235.8 L284.0,235.8 L284.3,235.4 L284.5,234.9 L284.7,234.4 L285.0,233.9 L285.2,233.7 L285.4,234.0 L285.7,234.0 L285.9,233.3 L286.1,232.4 L286.3,231.6 L286.6,231.2 L286.8,231.1 L287.0,231.2 L287.3,231.3 L287.5,231.5 L287.7,231.9 L287.9,232.2 L288.2,232.3 L288.4,232.2 L288.6,232.1 L288.9,231.8 L289.1,231.5 L289.3,231.4 L289.6,231.4 L289.8,231.2 L290.0,230.7 L290.2,229.9 L290.5,229.4 L290.7,229.4 L290.9,229.6 L291.2,229.8 L291.4,229.8 L291.6,229.4 L291.8,229.1 L292.1,229.1 L292.3,229.2 L292.5,229.1 L292.8,228.6 L293.0,227.8 L293.2,227.3 L293.5,227.1 L293.7,227.1 L293.9,227.2 L294.1,227.3 L294.4,227.0 L294.6,226.4 L294.8,225.8 L295.1,225.1 L295.3,224.3 L295.5,223.6 L295.8,223.4 L296.0,223.4 L296.2,223.3 L296.4,223.3 L296.7,223.5 L296.9,224.0 L297.1,224.3 L297.4,224.7 L297.6,225.1 L297.8,225.2 L298.0,224.7 L298.3,224.1 L298.5,223.7 L298.7,223.4 L299.0,223.1 L299.2,222.5 L299.4,222.1 L299.7,221.8 L299.9,221.6 L300.1,221.6 L300.3,221.6 L300.6,221.4 L300.8,221.3 L301.0,221.5 L301.3,221.6 L301.5,221.5 L301.7,221.5 L301.9,221.7 L302.2,221.9 L302.4,221.5 L302.6,220.8 L302.9,220.5 L303.1,220.3 L303.3,219.6 L303.6,218.7 L303.8,218.4 L304.0,218.8 L304.2,219.2 L304.5,219.1 L304.7,218.5 L304.9,217.9 L305.2,217.5 L305.4,217.3 L305.6,216.9 L305.8,216.2 L306.1,215.3 L306.3,214.7 L306.5,214.2 L306.8,213.8 L307.0,213.7 L307.2,214.1 L307.5,214.6 L307.7,215.0 L307.9,215.4 L308.1,215.8 L308.4,215.8 L308.6,215.5 L308.8,215.1 L309.1,214.8 L309.3,214.5 L309.5,214.2 L309.8,214.0 L310.0,214.1 L310.2,214.2 L310.4,214.1 L310.7,213.8 L310.9,213.6 L311.1,213.5 L311.4,213.4 L311.6,213.0 L311.8,212.7 L312.0,212.6 L312.3,212.6 L312.5,212.7 L312.7,212.9 L313.0,213.1 L313.2,213.4 L313.4,213.6 L313.7,213.3 L313.9,212.8 L314.1,212.7 L314.3,212.6 L314.6,212.4 L314.8,212.3 L315.0,212.4 L315.3,212.7 L315.5,212.8 L315.7,212.5 L315.9,212.1 L316.2,212.1 L316.4,212.3 L316.6,212.4 L316.9,212.6 L317.1,212.8 L317.3,212.6 L317.6,212.1 L317.8,211.6 L318.0,211.7 L318.2,212.3 L318.5,212.7 L318.7,212.7 L318.9,212.5 L319.2,212.8 L319.4,213.3 L319.6,213.3 L319.8,212.6 L320.1,212.1 L320.3,212.3 L320.5,212.6 L320.8,212.7 L321.0,212.4 L321.2,212.1 L321.5,212.1 L321.7,212.3 L321.9,212.2 L322.1,211.7 L322.4,211.2 L322.6,211.3 L322.8,211.7 L323.1,211.5 L323.3,210.9 L323.5,210.4 L323.7,210.2 L324.0,209.8 L324.2,209.1 L324.4,208.3 L324.7,207.9 L324.9,207.5 L325.1,207.2 L325.4,207.0 L325.6,207.1 L325.8,207.5 L326.0,207.8 L326.3,207.7 L326.5,207.6 L326.7,207.8 L327.0,208.2 L327.2,208.5 L327.4,208.6 L327.7,208.5 L327.9,208.4 L328.1,207.8 L328.3,207.2 L328.6,207.0 L328.8,206.8 L329.0,206.4 L329.3,206.0 L329.5,205.7 L329.7,205.4 L329.9,205.6 L330.2,205.9 L330.4,205.9 L330.6,205.5 L330.9,205.0 L331.1,204.8 L331.3,205.0 L331.6,205.1 L331.8,205.1 L332.0,205.1 L332.2,204.8 L332.5,204.4 L332.7,204.2 L332.9,204.3 L333.2,204.5 L333.4,204.4 L333.6,204.2 L333.8,204.2 L334.1,204.4 L334.3,204.6 L334.5,204.5 L334.8,204.5 L335.0,204.8 L335.2,205.1 L335.5,205.2 L335.7,205.3 L335.9,205.2 L336.1,205.2 L336.4,205.3 L336.6,205.0 L336.8,204.4 L337.1,203.8 L337.3,203.3 L337.5,202.9 L337.7,202.6 L338.0,202.3 L338.2,201.9 L338.4,201.4 L338.7,201.4 L338.9,201.7 L339.1,201.8 L339.4,201.6 L339.6,201.2 L339.8,200.9 L340.0,200.8 L340.3,200.9 L340.5,201.1 L340.7,201.1 L341.0,200.9 L341.2,200.7 L341.4,200.4 L341.7,199.8 L341.9,199.1 L342.1,198.5 L342.3,198.2 L342.6,198.2 L342.8,198.5 L343.0,198.9 L343.3,199.2 L343.5,199.1 L343.7,198.5 L343.9,198.0 L344.2,197.7 L344.4,197.3 L344.6,196.8 L344.9,196.4 L345.1,196.5 L345.3,196.6 L345.6,196.4 L345.8,196.3 L346.0,196.6 L346.2,197.2 L346.5,197.1 L346.7,196.5 L346.9,196.2 L347.2,196.3 L347.4,196.0 L347.6,195.2 L347.8,194.4 L348.1,193.9 L348.3,193.6 L348.5,193.6 L348.8,193.3 L349.0,192.7 L349.2,192.2 L349.5,192.0 L349.7,192.1 L349.9,192.3 L350.1,192.4 L350.4,192.5 L350.6,192.1 L350.8,191.1 L351.1,190.3 L351.3,190.3 L351.5,190.9 L351.7,191.4 L352.0,191.7 L352.2,191.6 L352.4,191.6 L352.7,191.9 L352.9,192.3 L353.1,192.2 L353.4,191.7 L353.6,191.0 L353.8,190.5 L354.0,190.3 L354.3,190.5 L354.5,190.7 L354.7,190.7 L355.0,190.7 L355.2,190.5 L355.4,190.0 L355.6,189.6 L355.9,189.5 L356.1,189.5 L356.3,189.5 L356.6,189.2 L356.8,189.0 L357.0,188.9 L357.3,188.7 L357.5,188.3 L357.7,188.1 L357.9,188.2 L358.2,188.3 L358.4,188.3 L358.6,188.0 L358.9,187.2 L359.1,186.3 L359.3,185.8 L359.6,185.8 L359.8,186.0 L360.0,186.1 L360.2,186.2" stroke="#ff0000" stroke-width="1.8" fill="none" stroke-linejoin="round" stroke-linecap="round"/>
<path d="M195.00,298.70 v-1.6 M195.00,174.20 v1.6 M217.95,298.70 v-1.6 M217.95,174.20 v1.6 M240.90,298.70 v-1.6 M240.90,174.20 v1.6 M263.85,298.70 v-1.6 M263.85,174.20 v1.6 M286.80,298.70 v-1.6 M286.80,174.20 v1.6 M309.75,298.70 v-1.6 M309.75,174.20 v1.6 M332.70,298.70 v-1.6 M332.70,174.20 v1.6 M355.65,298.70 v-1.6 M355.65,174.20 v1.6 M195.00,287.00 h1.6 M360.30,287.00 h-1.6 M195.00,269.73 h1.6 M360.30,269.73 h-1.6 M195.00,252.46 h1.6 M360.30,252.46 h-1.6 M195.00,235.19 h1.6 M360.30,235.19 h-1.6 M195.00,217.92 h1.6 M360.30,217.92 h-1.6 M195.00,200.65 h1.6 M360.30,200.65 h-1.6 M195.00,183.38 h1.6 M360.30,183.38 h-1.6 " stroke="#4a4a4a" stroke-width="0.7" fill="none"/>
<rect x="195.00" y="174.20" width="165.30" height="124.50" fill="none" stroke="#4a4a4a" stroke-width="0.8"/>
<text transform="translate(193.80 288.90) scale(0.900 1)" font-size="5.30" text-anchor="end" fill="#3c3c3c">0</text>
<text transform="translate(193.80 271.63) scale(0.900 1)" font-size="5.30" text-anchor="end" fill="#3c3c3c">0.2</text>
<text transform="translate(193.80 254.36) scale(0.900 1)" font-size="5.30" text-anchor="end" fill="#3c3c3c">0.4</text>
<text transform="translate(193.80 237.09) scale(0.900 1)" font-size="5.30" text-anchor="end" fill="#3c3c3c">0.6</text>
<text transform="translate(193.80 219.82) scale(0.900 1)" font-size="5.30" text-anchor="end" fill="#3c3c3c">0.8</text>
<text transform="translate(193.80 202.55) scale(0.900 1)" font-size="5.30" text-anchor="end" fill="#3c3c3c">1</text>
<text transform="translate(193.80 185.28) scale(0.900 1)" font-size="5.30" text-anchor="end" fill="#3c3c3c">1.2</text>
<text transform="translate(195.00 306.70) scale(0.900 1)" font-size="5.30" text-anchor="middle" fill="#3c3c3c">0</text>
<text transform="translate(217.95 306.70) scale(0.900 1)" font-size="5.30" text-anchor="middle" fill="#3c3c3c">500</text>
<text transform="translate(240.90 306.70) scale(0.900 1)" font-size="5.30" text-anchor="middle" fill="#3c3c3c">1000</text>
<text transform="translate(263.85 306.70) scale(0.900 1)" font-size="5.30" text-anchor="middle" fill="#3c3c3c">1500</text>
<text transform="translate(286.80 306.70) scale(0.900 1)" font-size="5.30" text-anchor="middle" fill="#3c3c3c">2000</text>
<text transform="translate(309.75 306.70) scale(0.900 1)" font-size="5.30" text-anchor="middle" fill="#3c3c3c">2500</text>
<text transform="translate(332.70 306.70) scale(0.900 1)" font-size="5.30" text-anchor="middle" fill="#3c3c3c">3000</text>
<text transform="translate(355.65 306.70) scale(0.900 1)" font-size="5.30" text-anchor="middle" fill="#3c3c3c">3500</text>
<text transform="translate(273.00 320.60) scale(0.965 1)" font-size="12.00" text-anchor="middle" fill="#000">Time [s]</text>
<text transform="translate(283.65 172.40) scale(0.910 1)" font-size="5.86" text-anchor="middle" fill="#202020">Battery energy consumption (kWh)</text></g>
<g><path d="M399.80,174.20 V298.70 M422.80,174.20 V298.70 M445.80,174.20 V298.70 M468.80,174.20 V298.70 M491.80,174.20 V298.70 M514.80,174.20 V298.70 M537.80,174.20 V298.70 " stroke="#808080" stroke-width="0.55" fill="none"/>
<path d="M376.80,286.90 H542.20 M376.80,259.97 H542.20 M376.80,233.04 H542.20 M376.80,206.11 H542.20 M376.80,179.18 H542.20 " stroke="#767676" stroke-width="0.6" fill="none"/>
<clipPath id="c_dist"><rect x="376.80" y="174.20" width="165.40" height="124.50"/></clipPath>
<path clip-path="url(#c_dist)" d="M376.8,287.3 L377.0,287.1 L377.3,287.0 L377.5,286.7 L377.7,286.5 L377.9,286.3 L378.2,286.0 L378.4,285.8 L378.6,285.7 L378.9,285.5 L379.1,285.5 L379.3,285.4 L379.6,285.4 L379.8,285.3 L380.0,285.3 L380.2,285.2 L380.5,285.1 L380.7,284.9 L380.9,284.6 L381.2,284.4 L381.4,284.1 L381.6,283.8 L381.9,283.6 L382.1,283.4 L382.3,283.2 L382.6,283.1 L382.8,282.9 L383.0,282.8 L383.2,282.7 L383.5,282.7 L383.7,282.6 L383.9,282.5 L384.2,282.4 L384.4,282.2 L384.6,282.0 L384.9,281.8 L385.1,281.5 L385.3,281.3 L385.5,281.2 L385.8,281.1 L386.0,281.0 L386.2,280.9 L386.5,280.7 L386.7,280.5 L386.9,280.2 L387.2,279.9 L387.4,279.6 L387.6,279.2 L387.8,278.9 L388.1,278.5 L388.3,278.2 L388.5,277.9 L388.8,277.7 L389.0,277.5 L389.2,277.4 L389.4,277.3 L389.7,277.1 L389.9,277.0 L390.1,276.8 L390.4,276.6 L390.6,276.5 L390.8,276.4 L391.1,276.3 L391.3,276.1 L391.5,276.0 L391.8,275.7 L392.0,275.5 L392.2,275.2 L392.4,274.9 L392.7,274.7 L392.9,274.4 L393.1,274.2 L393.4,273.9 L393.6,273.6 L393.8,273.3 L394.1,273.0 L394.3,272.8 L394.5,272.6 L394.7,272.4 L395.0,272.3 L395.2,272.2 L395.4,272.1 L395.7,271.9 L395.9,271.8 L396.1,271.6 L396.4,271.3 L396.6,271.1 L396.8,270.8 L397.0,270.6 L397.3,270.5 L397.5,270.2 L397.7,270.0 L398.0,269.7 L398.2,269.4 L398.4,269.1 L398.7,268.8 L398.9,268.5 L399.1,268.3 L399.3,268.2 L399.6,268.1 L399.8,268.1 L400.0,268.1 L400.3,268.2 L400.5,268.2 L400.7,268.1 L400.9,267.9 L401.2,267.7 L401.4,267.5 L401.6,267.3 L401.9,267.1 L402.1,266.9 L402.3,266.8 L402.6,266.8 L402.8,266.7 L403.0,266.7 L403.2,266.7 L403.5,266.7 L403.7,266.7 L403.9,266.6 L404.2,266.5 L404.4,266.4 L404.6,266.2 L404.9,266.1 L405.1,266.0 L405.3,265.9 L405.6,265.8 L405.8,265.7 L406.0,265.6 L406.2,265.4 L406.5,265.3 L406.7,265.1 L406.9,265.0 L407.2,264.8 L407.4,264.7 L407.6,264.7 L407.9,264.7 L408.1,264.7 L408.3,264.7 L408.5,264.7 L408.8,264.7 L409.0,264.6 L409.2,264.5 L409.5,264.3 L409.7,264.1 L409.9,264.0 L410.2,263.9 L410.4,263.8 L410.6,263.8 L410.8,263.8 L411.1,263.8 L411.3,263.8 L411.5,263.8 L411.8,263.8 L412.0,263.7 L412.2,263.6 L412.4,263.5 L412.7,263.3 L412.9,263.0 L413.1,262.8 L413.4,262.5 L413.6,262.2 L413.8,262.0 L414.1,261.9 L414.3,261.8 L414.5,261.7 L414.8,261.7 L415.0,261.6 L415.2,261.6 L415.4,261.5 L415.7,261.4 L415.9,261.3 L416.1,261.2 L416.4,261.1 L416.6,261.1 L416.8,261.0 L417.1,261.0 L417.3,260.9 L417.5,260.8 L417.7,260.7 L418.0,260.5 L418.2,260.4 L418.4,260.2 L418.7,260.2 L418.9,260.1 L419.1,260.1 L419.4,260.1 L419.6,260.1 L419.8,260.0 L420.0,259.8 L420.3,259.5 L420.5,259.3 L420.7,259.1 L421.0,258.9 L421.2,258.8 L421.4,258.7 L421.7,258.7 L421.9,258.6 L422.1,258.6 L422.3,258.6 L422.6,258.6 L422.8,258.6 L423.0,258.6 L423.3,258.5 L423.5,258.3 L423.7,258.1 L423.9,257.9 L424.2,257.6 L424.4,257.3 L424.6,257.1 L424.9,256.9 L425.1,256.7 L425.3,256.6 L425.6,256.5 L425.8,256.5 L426.0,256.5 L426.2,256.4 L426.5,256.3 L426.7,256.2 L426.9,256.0 L427.2,255.8 L427.4,255.5 L427.6,255.3 L427.9,255.0 L428.1,254.7 L428.3,254.5 L428.6,254.3 L428.8,254.1 L429.0,254.0 L429.2,253.9 L429.5,253.9 L429.7,253.9 L429.9,253.9 L430.2,253.8 L430.4,253.7 L430.6,253.6 L430.9,253.4 L431.1,253.2 L431.3,253.0 L431.5,252.9 L431.8,252.8 L432.0,252.7 L432.2,252.6 L432.5,252.5 L432.7,252.4 L432.9,252.3 L433.2,252.1 L433.4,251.9 L433.6,251.7 L433.8,251.4 L434.1,251.1 L434.3,250.8 L434.5,250.4 L434.8,250.1 L435.0,249.9 L435.2,249.7 L435.4,249.6 L435.7,249.5 L435.9,249.4 L436.1,249.3 L436.4,249.1 L436.6,248.9 L436.8,248.8 L437.1,248.7 L437.3,248.6 L437.5,248.5 L437.8,248.4 L438.0,248.2 L438.2,247.9 L438.4,247.5 L438.7,247.2 L438.9,246.9 L439.1,246.6 L439.4,246.3 L439.6,246.0 L439.8,245.6 L440.1,245.3 L440.3,245.0 L440.5,244.7 L440.7,244.5 L441.0,244.3 L441.2,244.2 L441.4,244.1 L441.7,244.1 L441.9,244.0 L442.1,243.9 L442.4,243.7 L442.6,243.5 L442.8,243.3 L443.0,243.1 L443.3,243.0 L443.5,242.9 L443.7,242.7 L444.0,242.6 L444.2,242.4 L444.4,242.1 L444.6,241.8 L444.9,241.6 L445.1,241.3 L445.3,241.0 L445.6,240.9 L445.8,240.8 L446.0,240.8 L446.3,240.8 L446.5,240.9 L446.7,240.9 L447.0,240.9 L447.2,240.8 L447.4,240.7 L447.6,240.6 L447.9,240.4 L448.1,240.3 L448.3,240.1 L448.6,240.0 L448.8,239.9 L449.0,239.8 L449.2,239.8 L449.5,239.8 L449.7,239.8 L449.9,239.8 L450.2,239.7 L450.4,239.6 L450.6,239.5 L450.9,239.3 L451.1,239.2 L451.3,239.1 L451.6,239.0 L451.8,239.0 L452.0,239.0 L452.2,238.9 L452.5,238.8 L452.7,238.7 L452.9,238.6 L453.2,238.5 L453.4,238.4 L453.6,238.4 L453.9,238.3 L454.1,238.3 L454.3,238.3 L454.5,238.4 L454.8,238.4 L455.0,238.3 L455.2,238.2 L455.5,238.1 L455.7,237.9 L455.9,237.6 L456.1,237.3 L456.4,237.1 L456.6,236.8 L456.8,236.6 L457.1,236.5 L457.3,236.3 L457.5,236.2 L457.8,236.2 L458.0,236.1 L458.2,236.1 L458.5,236.0 L458.7,235.9 L458.9,235.8 L459.1,235.7 L459.4,235.5 L459.6,235.3 L459.8,235.2 L460.1,235.1 L460.3,235.0 L460.5,234.9 L460.8,234.9 L461.0,234.9 L461.2,234.9 L461.4,235.0 L461.7,235.0 L461.9,234.9 L462.1,234.9 L462.4,234.8 L462.6,234.8 L462.8,234.7 L463.1,234.7 L463.3,234.7 L463.5,234.6 L463.7,234.4 L464.0,234.3 L464.2,234.0 L464.4,233.8 L464.7,233.5 L464.9,233.3 L465.1,233.2 L465.4,233.1 L465.6,233.0 L465.8,232.9 L466.0,232.8 L466.3,232.7 L466.5,232.6 L466.7,232.4 L467.0,232.3 L467.2,232.2 L467.4,232.1 L467.6,232.1 L467.9,232.0 L468.1,232.1 L468.3,232.1 L468.6,232.2 L468.8,232.2 L469.0,232.2 L469.3,232.1 L469.5,232.0 L469.7,231.8 L469.9,231.6 L470.2,231.3 L470.4,231.0 L470.6,230.7 L470.9,230.4 L471.1,230.2 L471.3,230.0 L471.6,229.9 L471.8,229.9 L472.0,229.9 L472.2,229.9 L472.5,229.9 L472.7,229.9 L472.9,229.8 L473.2,229.7 L473.4,229.6 L473.6,229.4 L473.9,229.2 L474.1,228.9 L474.3,228.6 L474.6,228.4 L474.8,228.1 L475.0,228.0 L475.2,227.8 L475.5,227.7 L475.7,227.7 L475.9,227.7 L476.2,227.7 L476.4,227.6 L476.6,227.6 L476.9,227.4 L477.1,227.3 L477.3,227.1 L477.5,226.8 L477.8,226.5 L478.0,226.3 L478.2,226.1 L478.5,225.9 L478.7,225.7 L478.9,225.5 L479.1,225.3 L479.4,225.1 L479.6,224.9 L479.8,224.6 L480.1,224.4 L480.3,224.1 L480.5,223.8 L480.8,223.4 L481.0,223.2 L481.2,222.9 L481.4,222.8 L481.7,222.7 L481.9,222.6 L482.1,222.5 L482.4,222.4 L482.6,222.3 L482.8,222.2 L483.1,222.0 L483.3,221.9 L483.5,221.8 L483.8,221.7 L484.0,221.6 L484.2,221.5 L484.4,221.3 L484.7,221.1 L484.9,220.8 L485.1,220.6 L485.4,220.3 L485.6,220.1 L485.8,219.8 L486.1,219.6 L486.3,219.4 L486.5,219.1 L486.7,218.9 L487.0,218.6 L487.2,218.5 L487.4,218.3 L487.7,218.2 L487.9,218.0 L488.1,217.9 L488.4,217.8 L488.6,217.7 L488.8,217.5 L489.0,217.2 L489.3,217.0 L489.5,216.8 L489.7,216.7 L490.0,216.5 L490.2,216.4 L490.4,216.3 L490.6,216.1 L490.9,215.9 L491.1,215.7 L491.3,215.4 L491.6,215.2 L491.8,215.1 L492.0,214.9 L492.3,214.8 L492.5,214.8 L492.7,214.8 L492.9,214.8 L493.2,214.8 L493.4,214.7 L493.6,214.6 L493.9,214.5 L494.1,214.3 L494.3,214.1 L494.6,213.9 L494.8,213.7 L495.0,213.6 L495.2,213.5 L495.5,213.5 L495.7,213.5 L495.9,213.5 L496.2,213.5 L496.4,213.5 L496.6,213.5 L496.9,213.4 L497.1,213.3 L497.3,213.2 L497.6,213.2 L497.8,213.2 L498.0,213.2 L498.2,213.2 L498.5,213.2 L498.7,213.3 L498.9,213.2 L499.2,213.2 L499.4,213.1 L499.6,212.9 L499.9,212.8 L500.1,212.7 L500.3,212.6 L500.5,212.5 L500.8,212.5 L501.0,212.5 L501.2,212.4 L501.5,212.3 L501.7,212.1 L501.9,212.0 L502.1,211.7 L502.4,211.5 L502.6,211.2 L502.8,211.1 L503.1,210.9 L503.3,210.8 L503.5,210.8 L503.8,210.8 L504.0,210.8 L504.2,210.9 L504.4,210.9 L504.7,210.9 L504.9,210.9 L505.1,210.8 L505.4,210.7 L505.6,210.5 L505.8,210.3 L506.1,210.1 L506.3,209.9 L506.5,209.7 L506.8,209.5 L507.0,209.4 L507.2,209.4 L507.4,209.3 L507.7,209.3 L507.9,209.3 L508.1,209.3 L508.4,209.3 L508.6,209.2 L508.8,209.2 L509.1,209.2 L509.3,209.2 L509.5,209.2 L509.7,209.2 L510.0,209.1 L510.2,209.0 L510.4,208.9 L510.7,208.7 L510.9,208.4 L511.1,208.2 L511.4,208.0 L511.6,207.9 L511.8,207.8 L512.0,207.8 L512.3,207.6 L512.5,207.5 L512.7,207.3 L513.0,207.1 L513.2,206.9 L513.4,206.7 L513.6,206.5 L513.9,206.4 L514.1,206.3 L514.3,206.2 L514.6,206.2 L514.8,206.2 L515.0,206.2 L515.3,206.2 L515.5,206.2 L515.7,206.1 L516.0,205.9 L516.2,205.8 L516.4,205.5 L516.6,205.3 L516.9,205.0 L517.1,204.8 L517.3,204.6 L517.6,204.4 L517.8,204.3 L518.0,204.2 L518.2,204.1 L518.5,204.1 L518.7,204.1 L518.9,204.1 L519.2,204.1 L519.4,204.0 L519.6,203.9 L519.9,203.6 L520.1,203.4 L520.3,203.1 L520.5,202.7 L520.8,202.4 L521.0,202.1 L521.2,201.8 L521.5,201.5 L521.7,201.3 L521.9,201.1 L522.2,200.9 L522.4,200.8 L522.6,200.7 L522.9,200.6 L523.1,200.4 L523.3,200.3 L523.5,200.1 L523.8,199.8 L524.0,199.6 L524.2,199.4 L524.5,199.2 L524.7,199.1 L524.9,199.0 L525.1,198.9 L525.4,198.8 L525.6,198.7 L525.8,198.5 L526.1,198.4 L526.3,198.1 L526.5,197.9 L526.8,197.6 L527.0,197.2 L527.2,196.9 L527.5,196.6 L527.7,196.3 L527.9,196.1 L528.1,196.0 L528.4,195.9 L528.6,195.8 L528.8,195.7 L529.1,195.6 L529.3,195.4 L529.5,195.2 L529.8,195.1 L530.0,194.9 L530.2,194.8 L530.4,194.7 L530.7,194.5 L530.9,194.2 L531.1,193.9 L531.4,193.6 L531.6,193.2 L531.8,192.9 L532.0,192.5 L532.3,192.2 L532.5,191.9 L532.7,191.5 L533.0,191.1 L533.2,190.8 L533.4,190.5 L533.7,190.2 L533.9,190.0 L534.1,189.8 L534.4,189.7 L534.6,189.5 L534.8,189.4 L535.0,189.3 L535.3,189.1 L535.5,188.9 L535.7,188.7 L536.0,188.5 L536.2,188.5 L536.4,188.4 L536.6,188.3 L536.9,188.2 L537.1,188.1 L537.3,187.9 L537.6,187.6 L537.8,187.4 L538.0,187.2 L538.3,187.0 L538.5,186.9 L538.7,186.8 L539.0,186.8 L539.2,186.7 L539.4,186.7 L539.6,186.7 L539.9,186.6 L540.1,186.5 L540.3,186.4 L540.6,186.2 L540.8,186.0 L541.0,185.8 L541.2,185.7 L541.5,185.6 L541.7,185.6 L541.9,185.6 L542.2,185.7 L542.4,185.8" stroke="#000000" stroke-width="2.3" fill="none" stroke-linejoin="round" stroke-linecap="round"/>
<path d="M376.80,298.70 v-1.6 M376.80,174.20 v1.6 M399.80,298.70 v-1.6 M399.80,174.20 v1.6 M422.80,298.70 v-1.6 M422.80,174.20 v1.6 M445.80,298.70 v-1.6 M445.80,174.20 v1.6 M468.80,298.70 v-1.6 M468.80,174.20 v1.6 M491.80,298.70 v-1.6 M491.80,174.20 v1.6 M514.80,298.70 v-1.6 M514.80,174.20 v1.6 M537.80,298.70 v-1.6 M537.80,174.20 v1.6 M376.80,286.90 h1.6 M542.20,286.90 h-1.6 M376.80,259.97 h1.6 M542.20,259.97 h-1.6 M376.80,233.04 h1.6 M542.20,233.04 h-1.6 M376.80,206.11 h1.6 M542.20,206.11 h-1.6 M376.80,179.18 h1.6 M542.20,179.18 h-1.6 " stroke="#4a4a4a" stroke-width="0.7" fill="none"/>
<rect x="376.80" y="174.20" width="165.40" height="124.50" fill="none" stroke="#4a4a4a" stroke-width="0.8"/>
<text transform="translate(375.60 288.80) scale(0.900 1)" font-size="5.30" text-anchor="end" fill="#3c3c3c">0</text>
<text transform="translate(375.60 261.87) scale(0.900 1)" font-size="5.30" text-anchor="end" fill="#3c3c3c">5</text>
<text transform="translate(375.60 234.94) scale(0.900 1)" font-size="5.30" text-anchor="end" fill="#3c3c3c">10</text>
<text transform="translate(375.60 208.01) scale(0.900 1)" font-size="5.30" text-anchor="end" fill="#3c3c3c">15</text>
<text transform="translate(375.60 181.08) scale(0.900 1)" font-size="5.30" text-anchor="end" fill="#3c3c3c">20</text>
<text transform="translate(376.80 306.70) scale(0.900 1)" font-size="5.30" text-anchor="middle" fill="#3c3c3c">0</text>
<text transform="translate(399.80 306.70) scale(0.900 1)" font-size="5.30" text-anchor="middle" fill="#3c3c3c">500</text>
<text transform="translate(422.80 306.70) scale(0.900 1)" font-size="5.30" text-anchor="middle" fill="#3c3c3c">1000</text>
<text transform="translate(445.80 306.70) scale(0.900 1)" font-size="5.30" text-anchor="middle" fill="#3c3c3c">1500</text>
<text transform="translate(468.80 306.70) scale(0.900 1)" font-size="5.30" text-anchor="middle" fill="#3c3c3c">2000</text>
<text transform="translate(491.80 306.70) scale(0.900 1)" font-size="5.30" text-anchor="middle" fill="#3c3c3c">2500</text>
<text transform="translate(514.80 306.70) scale(0.900 1)" font-size="5.30" text-anchor="middle" fill="#3c3c3c">3000</text>
<text transform="translate(537.80 306.70) scale(0.900 1)" font-size="5.30" text-anchor="middle" fill="#3c3c3c">3500</text>
<text transform="translate(463.50 320.60) scale(0.965 1)" font-size="12.00" text-anchor="middle" fill="#000">Time [s]</text>
<text transform="translate(459.80 171.40) scale(0.940 1)" font-size="6.60" text-anchor="middle" fill="#202020">Distance covered (km)</text></g>
<rect x="109.1" y="24.6" width="63.9" height="17.7" fill="#fff" stroke="#3a3a3a" stroke-width="1"/>
<path d="M111.9,29.6 H129.2" stroke="#0000ff" stroke-width="1.8"/>
<path d="M111.9,37.8 H129.2" stroke="#ff0000" stroke-width="1.8" stroke-dasharray="6.8 6.6"/>
<text transform="translate(131.30 31.40) scale(0.905 1)" font-size="5.30" text-anchor="start" fill="#202020">Drive cycle source</text>
<text transform="translate(131.30 39.60) scale(0.865 1)" font-size="5.30" text-anchor="start" fill="#202020">Vehicle speed</text>
</svg>
</body></html>
